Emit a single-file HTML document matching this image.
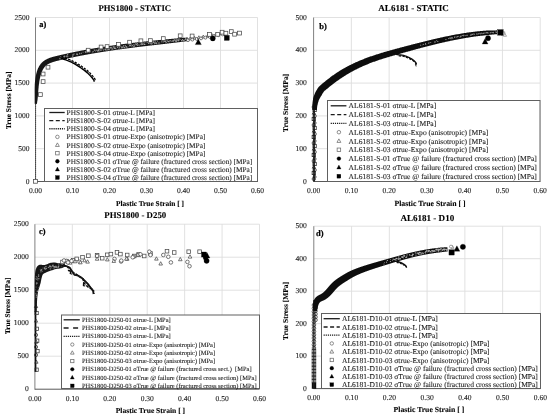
<!DOCTYPE html>
<html><head><meta charset="utf-8"><title>True stress vs plastic true strain</title>
<style>
html,body{margin:0;padding:0;background:#fff;}
body{width:550px;height:417px;overflow:hidden;}
svg{display:block;font-family:'Liberation Serif','Times New Roman',serif;text-rendering:geometricPrecision;}
</style></head><body>
<svg width="550" height="417" viewBox="0 0 550 417">
<defs><filter id="sf" x="0" y="0" width="100%" height="100%"><feGaussianBlur stdDeviation="0.3"/></filter></defs>
<rect width="550" height="417" fill="#fff"/>
<g filter="url(#sf)">
<line x1="72.5" y1="17.5" x2="72.5" y2="181.5" stroke="#dedede" stroke-width="0.9"/>
<line x1="109.5" y1="17.5" x2="109.5" y2="181.5" stroke="#dedede" stroke-width="0.9"/>
<line x1="146.5" y1="17.5" x2="146.5" y2="181.5" stroke="#dedede" stroke-width="0.9"/>
<line x1="183.5" y1="17.5" x2="183.5" y2="181.5" stroke="#dedede" stroke-width="0.9"/>
<line x1="220.5" y1="17.5" x2="220.5" y2="181.5" stroke="#dedede" stroke-width="0.9"/>
<line x1="257.5" y1="17.5" x2="257.5" y2="181.5" stroke="#dedede" stroke-width="0.9"/>
<line x1="35.5" y1="148.7" x2="257.5" y2="148.7" stroke="#dedede" stroke-width="0.9"/>
<line x1="35.5" y1="115.9" x2="257.5" y2="115.9" stroke="#dedede" stroke-width="0.9"/>
<line x1="35.5" y1="83.1" x2="257.5" y2="83.1" stroke="#dedede" stroke-width="0.9"/>
<line x1="35.5" y1="50.3" x2="257.5" y2="50.3" stroke="#dedede" stroke-width="0.9"/>
<line x1="35.5" y1="17.5" x2="257.5" y2="17.5" stroke="#dedede" stroke-width="0.9"/>
<line x1="35.5" y1="17.5" x2="35.5" y2="182" stroke="#808080" stroke-width="1.0"/>
<line x1="35.5" y1="181.5" x2="257.5" y2="181.5" stroke="#595959" stroke-width="1.0"/>
<text x="29.6" y="183.55" font-size="7.5" fill="#1c1c1c" text-anchor="end" stroke="#1c1c1c" stroke-width="0.12">0</text>
<text x="29.6" y="150.75" font-size="7.5" fill="#1c1c1c" text-anchor="end" stroke="#1c1c1c" stroke-width="0.12">500</text>
<text x="29.6" y="117.95" font-size="7.5" fill="#1c1c1c" text-anchor="end" stroke="#1c1c1c" stroke-width="0.12">1000</text>
<text x="29.6" y="85.15" font-size="7.5" fill="#1c1c1c" text-anchor="end" stroke="#1c1c1c" stroke-width="0.12">1500</text>
<text x="29.6" y="52.35" font-size="7.5" fill="#1c1c1c" text-anchor="end" stroke="#1c1c1c" stroke-width="0.12">2000</text>
<text x="29.6" y="19.55" font-size="7.5" fill="#1c1c1c" text-anchor="end" stroke="#1c1c1c" stroke-width="0.12">2500</text>
<text x="35.5" y="192.6" font-size="7.5" fill="#1c1c1c" text-anchor="middle" stroke="#1c1c1c" stroke-width="0.12">0.00</text>
<text x="72.5" y="192.6" font-size="7.5" fill="#1c1c1c" text-anchor="middle" stroke="#1c1c1c" stroke-width="0.12">0.10</text>
<text x="109.5" y="192.6" font-size="7.5" fill="#1c1c1c" text-anchor="middle" stroke="#1c1c1c" stroke-width="0.12">0.20</text>
<text x="146.5" y="192.6" font-size="7.5" fill="#1c1c1c" text-anchor="middle" stroke="#1c1c1c" stroke-width="0.12">0.30</text>
<text x="183.5" y="192.6" font-size="7.5" fill="#1c1c1c" text-anchor="middle" stroke="#1c1c1c" stroke-width="0.12">0.40</text>
<text x="220.5" y="192.6" font-size="7.5" fill="#1c1c1c" text-anchor="middle" stroke="#1c1c1c" stroke-width="0.12">0.50</text>
<text x="257.5" y="192.6" font-size="7.5" fill="#1c1c1c" text-anchor="middle" stroke="#1c1c1c" stroke-width="0.12">0.60</text>
<text x="134.8" y="11.3" font-size="8.7" fill="#000" text-anchor="middle" font-weight="bold" stroke="#000" stroke-width="0.1">PHS1800 - STATIC</text>
<text x="150" y="206.3" font-size="7.4" fill="#000" text-anchor="middle" font-weight="bold" stroke="#000" stroke-width="0.1">Plastic True Strain [ ]</text>
<text transform="translate(10.8 100.3) rotate(-90)" font-size="7.38" fill="#000" text-anchor="middle" font-weight="bold" stroke="#000" stroke-width="0.1">True Stress [MPa]</text>
<text x="39.2" y="27.1" font-size="8.4" fill="#000" font-weight="bold" stroke="#000" stroke-width="0.22">a)</text>
<path d="M36.82 104.08 L36.86 103.86 L36.91 103.63 L36.95 103.4 L36.99 103.17 L37.03 102.94 L37.08 102.71 L37.12 102.48 L37.16 102.25 L37.19 102.02 L37.23 101.79 L37.27 101.56 L37.31 101.33 L37.34 101.1 L37.38 100.88 L37.41 100.65 L37.45 100.42 L37.48 100.2 L37.52 99.97 L37.55 99.75 L37.58 99.52 L37.6 99.3 L37.63 99.07 L37.66 98.85 L37.69 98.62 L37.71 98.4 L37.73 98.17 L37.75 97.95 L37.77 97.73 L37.79 97.51 L37.81 97.28 L37.83 97.06 L37.85 96.84 L37.87 96.62 L37.89 96.39 L37.91 96.17 L37.93 95.95 L37.95 95.73 L37.96 95.51 L37.98 95.29 L38 95.07 L38.02 94.85 L38.03 94.63 L38.05 94.41 L38.07 94.19 L38.09 93.97 L38.1 93.75 L38.12 93.54 L38.14 93.32 L38.15 93.1 L38.17 92.88 L38.19 92.66 L38.2 92.44 L38.22 92.22 L38.24 92.01 L38.25 91.79 L38.27 91.57 L38.28 91.35 L38.3 91.13 L38.32 90.92 L38.33 90.7 L38.35 90.48 L38.37 90.26 L38.38 90.05 L38.4 89.83 L38.42 89.61 L38.43 89.39 L38.45 89.18 L38.47 88.96 L38.49 88.74 L38.51 88.52 L38.53 88.31 L38.55 88.09 L38.57 87.87 L38.59 87.65 L38.61 87.43 L38.63 87.22 L38.65 87 L38.67 86.78 L38.69 86.56 L38.72 86.34 L38.74 86.12 L38.76 85.9 L38.79 85.69 L38.81 85.47 L38.84 85.25 L38.86 85.03 L38.89 84.81 L38.92 84.59 L38.94 84.37 L38.97 84.15 L39 83.92 L39.03 83.7 L39.06 83.48 L39.09 83.26 L39.12 83.04 L39.15 82.82 L39.18 82.59 L39.21 82.37 L39.25 82.15 L39.28 81.92 L39.32 81.7 L39.35 81.47 L39.39 81.25 L39.43 81.02 L39.47 80.8 L39.51 80.57 L39.55 80.34 L39.59 80.12 L39.63 79.89 L39.67 79.66 L39.71 79.43 L39.76 79.21 L39.8 78.98 L39.84 78.75 L39.89 78.52 L39.94 78.29 L39.99 78.07 L40.04 77.84 L40.09 77.61 L40.14 77.38 L40.19 77.16 L40.24 76.93 L40.3 76.7 L40.35 76.48 L40.41 76.25 L40.47 76.03 L40.53 75.81 L40.59 75.58 L40.65 75.36 L40.72 75.14 L40.78 74.92 L40.85 74.7 L40.91 74.48 L40.98 74.26 L41.05 74.05 L41.12 73.83 L41.2 73.62 L41.27 73.41 L41.34 73.2 L41.42 72.98 L41.49 72.77 L41.57 72.57 L41.65 72.36 L41.73 72.16 L41.81 71.96 L41.89 71.75 L41.97 71.55 L42.05 71.35 L42.13 71.16 L42.22 70.97 L42.31 70.77 L42.4 70.58 L42.48 70.39 L42.57 70.2 L42.67 70.02 L42.76 69.84 L42.85 69.66 L42.95 69.48 L43.05 69.31 L43.15 69.13 L43.24 68.96 L43.34 68.8 L43.45 68.63 L43.55 68.47 L43.66 68.31 L43.76 68.15 L43.87 68 L43.98 67.84 L44.08 67.69 L44.2 67.55 L44.31 67.4 L44.42 67.26 L44.53 67.12 L44.64 66.99 L44.76 66.85 L44.87 66.72 L44.99 66.59 L45.11 66.46 L45.23 66.33 L45.35 66.21 L45.48 66.09 L45.6 65.97 L45.73 65.85 L45.86 65.74 L45.99 65.62 L46.12 65.51 L46.26 65.4 L46.39 65.29 L46.53 65.18 L46.67 65.07 L46.82 64.97 L46.96 64.86 L47.11 64.76 L47.26 64.66 L47.41 64.56 L47.56 64.46 L47.71 64.36 L47.87 64.27 L48.03 64.18 L48.19 64.08 L48.35 63.99 L48.51 63.9 L48.68 63.81 L48.84 63.73 L49.01 63.64 L49.18 63.56 L49.35 63.47 L49.52 63.39 L49.7 63.31 L49.88 63.23 L50.06 63.15 L50.23 63.07 L50.42 63 L50.6 62.92 L50.78 62.84 L50.97 62.77 L51.16 62.7 L51.35 62.63 L51.54 62.56 L51.73 62.49 L51.92 62.42 L52.12 62.35 L52.31 62.28 L52.51 62.22 L52.7 62.15 L52.9 62.08 L53.11 62.02 L53.31 61.96 L53.51 61.89 L53.71 61.83 L53.92 61.77 L54.12 61.71 L54.33 61.65 L54.54 61.59 L54.75 61.53 L54.96 61.47 L55.17 61.41 L55.38 61.35 L55.59 61.29 L55.8 61.23 L56.02 61.18 L56.23 61.12 L56.45 61.07 L56.66 61.01 L56.88 60.95 L57.1 60.9 L57.31 60.84 L57.53 60.79 L57.75 60.73 L57.97 60.68 L58.19 60.63 L58.41 60.57 L58.63 60.52 L58.85 60.46 L59.07 60.41 L59.29 60.35 L59.51 60.3 L59.74 60.25 L59.96 60.19 L60.18 60.14 L60.4 60.09 L60.62 60.03 L60.84 59.98 L61.06 59.93 L61.28 59.88 L61.5 59.82 L61.72 59.77 L61.95 59.72 L62.17 59.67 L62.39 59.62 L62.61 59.57 L62.83 59.52 L63.05 59.47 L63.27 59.42 L63.49 59.37 L63.71 59.31 L63.94 59.26 L64.16 59.21 L64.38 59.16 L64.6 59.11 L64.82 59.06 L65.04 59.01 L65.26 58.96 L65.48 58.91 L65.71 58.86 L65.93 58.82 L66.15 58.77 L66.37 58.72 L66.59 58.67 L66.81 58.62 L67.03 58.57 L67.25 58.52 L67.48 58.47 L67.7 58.42 L67.92 58.37 L68.14 58.33 L68.36 58.28 L68.58 58.23 L68.8 58.18 L69.03 58.13 L69.25 58.09 L69.47 58.04 L69.69 57.99 L69.91 57.94 L70.13 57.89 L70.35 57.85 L70.57 57.8 L70.8 57.75 L71.02 57.71 L71.24 57.66 L71.46 57.61 L71.68 57.57 L71.9 57.52 L72.12 57.47 L72.35 57.43 L72.57 57.38 L72.79 57.33 L73.01 57.29 L73.23 57.24 L73.45 57.19 L73.67 57.15 L73.9 57.1 L74.12 57.06 L74.34 57.01 L74.56 56.97 L74.78 56.92 L75 56.88 L75.22 56.83 L75.45 56.78 L75.67 56.74 L75.89 56.69 L76.11 56.65 L76.33 56.61 L76.55 56.56 L76.77 56.52 L77 56.47 L77.22 56.43 L77.44 56.38 L77.66 56.34 L77.88 56.29 L78.1 56.25 L78.32 56.21 L78.55 56.16 L78.77 56.12 L78.99 56.08 L79.21 56.03 L79.43 55.99 L79.65 55.95 L79.88 55.9 L80.1 55.86 L80.32 55.82 L80.54 55.77 L80.76 55.73 L80.98 55.69 L81.21 55.64 L81.43 55.6 L81.65 55.56 L81.87 55.52 L82.09 55.47 L82.31 55.43 L82.53 55.39 L82.76 55.35 L82.98 55.31 L83.2 55.26 L83.42 55.22 L83.64 55.18 L83.86 55.14 L84.09 55.1 L84.31 55.06 L84.53 55.02 L84.75 54.97 L84.97 54.93 L85.2 54.89 L85.42 54.85 L85.64 54.81 L85.86 54.77 L86.08 54.73 L86.3 54.69 L86.53 54.65 L86.75 54.61 L86.97 54.57 L87.19 54.53 L87.41 54.49 L87.63 54.45 L87.86 54.41 L88.08 54.37 L88.3 54.33 L88.52 54.29 L88.74 54.25 L88.97 54.21 L89.19 54.17 L89.41 54.13 L89.63 54.09 L89.85 54.05 L90.07 54.01 L90.3 53.97 L90.52 53.93 L90.74 53.89 L90.96 53.85 L91.18 53.81 L91.41 53.78 L91.63 53.74 L91.85 53.7 L92.07 53.66 L92.29 53.62 L92.52 53.58 L92.74 53.54 L92.96 53.51 L93.18 53.47 L93.4 53.43 L93.63 53.39 L93.85 53.35 L94.07 53.32 L94.29 53.28 L94.51 53.24 L94.73 53.2 L94.96 53.17 L95.18 53.13 L95.4 53.09 L95.62 53.05 L95.84 53.02 L96.07 52.98 L96.29 52.94 L96.51 52.91 L96.73 52.87 L96.96 52.83 L97.18 52.8 L97.4 52.76 L97.62 52.72 L97.84 52.69 L98.07 52.65 L98.29 52.61 L98.51 52.58 L98.73 52.54 L98.95 52.5 L99.18 52.47 L99.4 52.43 L99.62 52.4 L99.84 52.36 L100.06 52.32 L100.29 52.29 L100.51 52.25 L100.73 52.22 L100.95 52.18 L101.18 52.15 L101.4 52.11 L101.62 52.08 L101.84 52.04 L102.06 52 L102.29 51.97 L102.51 51.93 L102.73 51.9 L102.95 51.86 L103.17 51.83 L103.4 51.79 L103.62 51.76 L103.84 51.72 L104.06 51.69 L104.29 51.65 L104.51 51.62 L104.73 51.58 L104.95 51.55 L105.18 51.51 L105.4 51.48 L105.62 51.45 L105.84 51.41 L106.06 51.38 L106.29 51.34 L106.51 51.31 L106.73 51.27 L106.95 51.24 L107.18 51.21 L107.4 51.17 L107.62 51.14 L107.84 51.11 L108.07 51.07 L108.29 51.04 L108.51 51.01 L108.73 50.97 L108.95 50.94 L109.18 50.9 L109.4 50.87 L109.62 50.84 L109.84 50.81 L110.07 50.77 L110.29 50.74 L110.51 50.71 L110.73 50.67 L110.96 50.64 L111.18 50.61 L111.4 50.58 L111.62 50.54 L111.85 50.51 L112.07 50.48 L112.29 50.44 L112.51 50.41 L112.74 50.38 L112.96 50.35 L113.18 50.32 L113.4 50.28 L113.63 50.25 L113.85 50.22 L114.07 50.19 L114.29 50.16 L114.52 50.12 L114.74 50.09 L114.96 50.06 L115.19 50.03 L115.41 50 L115.63 49.97 L115.85 49.93 L116.08 49.9 L116.3 49.87 L116.52 49.84 L116.74 49.81 L116.97 49.78 L117.19 49.75 L117.41 49.71 L117.63 49.68 L117.86 49.65 L118.08 49.62 L118.3 49.59 L118.53 49.56 L118.75 49.53 L118.97 49.5 L119.19 49.47 L119.42 49.44 L119.64 49.41 L119.86 49.38 L120.08 49.35 L120.31 49.32 L120.53 49.28 L120.75 49.25 L120.98 49.22 L121.2 49.19 L121.42 49.16 L121.64 49.13 L121.87 49.1 L122.09 49.07 L122.31 49.04 L122.54 49.01 L122.76 48.98 L122.98 48.95 L123.21 48.92 L123.43 48.89 L123.65 48.87 L123.87 48.84 L124.1 48.81 L124.32 48.78 L124.54 48.75 L124.77 48.72 L124.99 48.69 L125.21 48.66 L125.43 48.63 L125.66 48.6 L125.88 48.57 L126.1 48.54 L126.33 48.51 L126.55 48.48 L126.77 48.46 L127 48.43 L127.22 48.4 L127.44 48.37 L127.67 48.34 L127.89 48.31 L128.11 48.28 L128.33 48.25 L128.56 48.23 L128.78 48.2 L129 48.17 L129.23 48.14 L129.45 48.11 L129.67 48.08 L129.9 48.05 L130.12 48.03 L130.34 48 L130.57 47.97 L130.79 47.94 L131.01 47.91 L131.24 47.88 L131.46 47.85 L131.68 47.82 L131.91 47.8 L132.13 47.77 L132.35 47.74 L132.57 47.71 L132.8 47.68 L133.02 47.65 L133.24 47.62 L133.47 47.6 L133.69 47.57 L133.91 47.54 L134.14 47.51 L134.36 47.48 L134.58 47.46 L134.81 47.43 L135.03 47.4 L135.25 47.37 L135.48 47.34 L135.7 47.31 L135.92 47.29 L136.15 47.26 L136.37 47.23 L136.59 47.2 L136.82 47.18 L137.04 47.15 L137.26 47.12 L137.49 47.09 L137.71 47.06 L137.93 47.04 L138.16 47.01 L138.38 46.98 L138.6 46.95 L138.83 46.93 L139.05 46.9 L139.28 46.87 L139.5 46.84 L139.72 46.82 L139.95 46.79 L140.17 46.76 L140.39 46.73 L140.62 46.71 L140.84 46.68 L141.06 46.65 L141.29 46.63 L141.51 46.6 L141.73 46.57 L141.96 46.54 L142.18 46.52 L142.41 46.49 L142.63 46.46 L142.85 46.44 L143.08 46.41 L143.3 46.38 L143.52 46.36 L143.75 46.33 L143.97 46.3 L144.19 46.28 L144.42 46.25 L144.64 46.22 L144.87 46.2 L145.09 46.17 L145.31 46.14 L145.54 46.12 L145.76 46.09 L145.98 46.06 L146.21 46.04 L146.43 46.01 L146.66 45.98 L146.88 45.96 L147.1 45.93 L147.33 45.91 L147.55 45.88 L147.78 45.85 L148 45.83 L148.22 45.8 L148.45 45.77 L148.67 45.75 L148.89 45.72 L149.12 45.7 L149.34 45.67 L149.57 45.64 L149.79 45.62 L150.01 45.59 L150.24 45.57 L150.46 45.54 L150.69 45.51 L150.91 45.49 L151.13 45.46 L151.36 45.44 L151.58 45.41 L151.81 45.38 L152.03 45.36 L152.25 45.33 L152.48 45.31 L152.7 45.28 L152.93 45.25 L153.15 45.23 L153.37 45.2 L153.6 45.18 L153.82 45.15 L154.05 45.13 L154.27 45.1 L154.5 45.08 L154.72 45.05 L154.94 45.02 L155.17 45 L155.39 44.97 L155.62 44.95 L155.84 44.92 L156.07 44.9 L156.29 44.87 L156.51 44.85 L156.74 44.82 L156.96 44.8 L157.19 44.77 L157.41 44.74 L157.64 44.72 L157.86 44.69 L158.08 44.67 L158.31 44.64 L158.53 44.62 L158.76 44.59 L158.98 44.57 L159.21 44.54 L159.43 44.52 L159.65 44.49 L159.88 44.47 L160.1 44.44 L160.33 44.41 L160.55 44.39 L160.78 44.36 L161 44.33 L161.22 44.31 L161.45 44.28 L161.67 44.25 L161.9 44.23 L162.12 44.2 L162.35 44.17 L162.57 44.15 L162.79 44.12 L163.02 44.09 L163.24 44.07 L163.47 44.04 L163.69 44.01 L163.92 43.99 L164.14 43.96 L164.37 43.93 L164.59 43.91 L164.81 43.88 L165.04 43.85 L165.26 43.83 L165.49 43.8 L165.71 43.77 L165.94 43.74 L166.16 43.72 L166.39 43.69 L166.61 43.66 L166.84 43.64 L167.06 43.61 L167.28 43.58 L167.51 43.56 L167.73 43.53 L167.96 43.5 L168.18 43.48 L168.41 43.45 L168.63 43.42 L168.86 43.4 L169.08 43.37 L169.31 43.35 L169.53 43.32 L169.76 43.29 L169.98 43.27 L170.2 43.24 L170.43 43.21 L170.65 43.19 L170.88 43.16 L171.1 43.13 L171.33 43.11 L171.55 43.08 L171.78 43.05 L172 43.03 L172.23 43 L172.45 42.97 L172.68 42.95 L172.9 42.92 L173.13 42.89 L173.35 42.87 L173.58 42.84 L173.8 42.81 L174.03 42.79 L174.25 42.76 L174.48 42.73 L174.7 42.71 L174.93 42.68 L175.15 42.65 L175.38 42.63 L175.6 42.6 L175.83 42.57 L176.05 42.54 L176.28 42.52 L176.5 42.49 L176.73 42.46 L176.95 42.43 L177.17 42.4 L177.4 42.38 L177.62 42.35 L177.85 42.32 L178.07 42.29 L178.3 42.26 L178.52 42.24 L178.75 42.21 L178.97 42.18 L179.2 42.15 L179.42 42.13 L179.65 42.1 L179.87 42.07 L180.1 42.04 L180.32 42.01 L180.55 41.99 L180.78 41.96 L181 41.93 L181.23 41.9 L181.45 41.87 L181.68 41.85 L181.9 41.82 L182.13 41.79 L182.35 41.76 L182.58 41.73 L182.8 41.71 L183.03 41.68 L183.25 41.65 L183.48 41.62 L183.7 41.59 L183.93 41.57 L184.15 41.54 L184.38 41.51 L184.6 41.48 L184.83 41.45 L185.05 41.43 L185.28 41.4 L185.5 41.37 L185.73 41.34 L185.96 41.31 L186.18 41.29 L186.41 41.26 L186.63 41.23 L186.86 41.2 L187.08 41.17 L187.31 41.14 L187.53 41.12 L187.76 41.09 L187.98 41.06 L188.21 41.03 L187.83 37.45 L187.6 37.47 L187.38 37.49 L187.15 37.51 L186.93 37.53 L186.7 37.55 L186.47 37.57 L186.25 37.59 L186.02 37.61 L185.79 37.63 L185.57 37.65 L185.34 37.67 L185.12 37.69 L184.89 37.71 L184.66 37.73 L184.44 37.74 L184.21 37.76 L183.99 37.78 L183.76 37.8 L183.53 37.82 L183.31 37.84 L183.08 37.86 L182.86 37.88 L182.63 37.9 L182.4 37.92 L182.18 37.94 L181.95 37.96 L181.73 37.98 L181.5 38 L181.27 38.02 L181.05 38.04 L180.82 38.05 L180.6 38.07 L180.37 38.09 L180.14 38.11 L179.92 38.13 L179.69 38.15 L179.47 38.17 L179.24 38.19 L179.01 38.21 L178.79 38.23 L178.56 38.25 L178.34 38.27 L178.11 38.29 L177.89 38.31 L177.66 38.32 L177.43 38.34 L177.21 38.36 L176.98 38.38 L176.76 38.4 L176.53 38.42 L176.3 38.44 L176.08 38.46 L175.85 38.48 L175.63 38.5 L175.4 38.52 L175.18 38.54 L174.95 38.56 L174.72 38.58 L174.5 38.6 L174.27 38.62 L174.05 38.64 L173.82 38.66 L173.6 38.68 L173.37 38.7 L173.15 38.72 L172.92 38.74 L172.69 38.76 L172.47 38.78 L172.24 38.8 L172.02 38.82 L171.79 38.84 L171.57 38.86 L171.34 38.88 L171.12 38.9 L170.89 38.92 L170.66 38.95 L170.44 38.97 L170.21 38.99 L169.99 39.01 L169.76 39.03 L169.54 39.05 L169.31 39.07 L169.09 39.09 L168.86 39.11 L168.64 39.13 L168.41 39.15 L168.18 39.17 L167.96 39.19 L167.73 39.21 L167.51 39.23 L167.28 39.26 L167.06 39.28 L166.83 39.3 L166.61 39.32 L166.38 39.34 L166.16 39.36 L165.93 39.38 L165.71 39.4 L165.48 39.42 L165.26 39.44 L165.03 39.46 L164.8 39.48 L164.58 39.5 L164.35 39.53 L164.13 39.55 L163.9 39.57 L163.68 39.59 L163.45 39.61 L163.23 39.63 L163 39.65 L162.78 39.67 L162.55 39.69 L162.33 39.71 L162.1 39.73 L161.88 39.75 L161.65 39.78 L161.43 39.8 L161.2 39.82 L160.98 39.84 L160.75 39.86 L160.52 39.88 L160.3 39.9 L160.07 39.92 L159.85 39.95 L159.62 39.97 L159.4 39.99 L159.17 40.01 L158.95 40.03 L158.72 40.06 L158.5 40.08 L158.27 40.1 L158.05 40.13 L157.82 40.15 L157.6 40.17 L157.37 40.2 L157.15 40.22 L156.92 40.24 L156.7 40.27 L156.48 40.29 L156.25 40.31 L156.03 40.34 L155.8 40.36 L155.58 40.38 L155.35 40.4 L155.13 40.43 L154.9 40.45 L154.68 40.47 L154.45 40.5 L154.23 40.52 L154 40.54 L153.78 40.57 L153.55 40.59 L153.33 40.62 L153.1 40.64 L152.88 40.66 L152.65 40.69 L152.43 40.71 L152.2 40.73 L151.98 40.76 L151.75 40.78 L151.53 40.8 L151.3 40.83 L151.08 40.85 L150.85 40.87 L150.63 40.9 L150.41 40.92 L150.18 40.95 L149.96 40.97 L149.73 40.99 L149.51 41.02 L149.28 41.04 L149.06 41.06 L148.83 41.09 L148.61 41.11 L148.38 41.14 L148.16 41.16 L147.93 41.18 L147.71 41.21 L147.48 41.23 L147.26 41.26 L147.03 41.28 L146.81 41.3 L146.59 41.33 L146.36 41.35 L146.14 41.38 L145.91 41.4 L145.69 41.43 L145.46 41.45 L145.24 41.47 L145.01 41.5 L144.79 41.52 L144.56 41.55 L144.34 41.57 L144.11 41.6 L143.89 41.62 L143.67 41.65 L143.44 41.67 L143.22 41.69 L142.99 41.72 L142.77 41.74 L142.54 41.77 L142.32 41.79 L142.09 41.82 L141.87 41.84 L141.64 41.87 L141.42 41.89 L141.19 41.92 L140.97 41.94 L140.75 41.97 L140.52 41.99 L140.3 42.02 L140.07 42.04 L139.85 42.07 L139.62 42.09 L139.4 42.12 L139.17 42.14 L138.95 42.17 L138.73 42.19 L138.5 42.22 L138.28 42.24 L138.05 42.27 L137.83 42.3 L137.6 42.32 L137.38 42.35 L137.15 42.37 L136.93 42.4 L136.7 42.42 L136.48 42.45 L136.26 42.47 L136.03 42.5 L135.81 42.53 L135.58 42.55 L135.36 42.58 L135.13 42.6 L134.91 42.63 L134.69 42.65 L134.46 42.68 L134.24 42.71 L134.01 42.73 L133.79 42.76 L133.56 42.78 L133.34 42.81 L133.11 42.84 L132.89 42.86 L132.67 42.89 L132.44 42.92 L132.22 42.94 L131.99 42.97 L131.77 43 L131.54 43.02 L131.32 43.05 L131.09 43.07 L130.87 43.1 L130.65 43.13 L130.42 43.15 L130.2 43.18 L129.97 43.21 L129.75 43.24 L129.52 43.26 L129.3 43.29 L129.08 43.32 L128.85 43.35 L128.63 43.37 L128.4 43.4 L128.18 43.43 L127.96 43.46 L127.73 43.49 L127.51 43.51 L127.28 43.54 L127.06 43.57 L126.83 43.6 L126.61 43.63 L126.39 43.65 L126.16 43.68 L125.94 43.71 L125.71 43.74 L125.49 43.77 L125.27 43.8 L125.04 43.82 L124.82 43.85 L124.59 43.88 L124.37 43.91 L124.14 43.94 L123.92 43.97 L123.7 44 L123.47 44.03 L123.25 44.05 L123.02 44.08 L122.8 44.11 L122.58 44.14 L122.35 44.17 L122.13 44.2 L121.9 44.23 L121.68 44.26 L121.46 44.29 L121.23 44.32 L121.01 44.35 L120.78 44.38 L120.56 44.41 L120.33 44.44 L120.11 44.47 L119.89 44.5 L119.66 44.52 L119.44 44.55 L119.21 44.58 L118.99 44.61 L118.77 44.64 L118.54 44.67 L118.32 44.7 L118.09 44.73 L117.87 44.77 L117.65 44.8 L117.42 44.83 L117.2 44.86 L116.97 44.89 L116.75 44.92 L116.53 44.95 L116.3 44.98 L116.08 45.01 L115.85 45.04 L115.63 45.07 L115.41 45.1 L115.18 45.13 L114.96 45.16 L114.73 45.19 L114.51 45.23 L114.29 45.26 L114.06 45.29 L113.84 45.32 L113.61 45.35 L113.39 45.38 L113.17 45.41 L112.94 45.44 L112.72 45.48 L112.49 45.51 L112.27 45.54 L112.05 45.57 L111.82 45.6 L111.6 45.63 L111.37 45.67 L111.15 45.7 L110.93 45.73 L110.7 45.76 L110.48 45.79 L110.26 45.83 L110.03 45.86 L109.81 45.89 L109.58 45.92 L109.36 45.96 L109.14 45.99 L108.91 46.02 L108.69 46.05 L108.46 46.09 L108.24 46.12 L108.02 46.15 L107.79 46.19 L107.57 46.22 L107.34 46.25 L107.12 46.28 L106.9 46.32 L106.67 46.35 L106.45 46.38 L106.23 46.42 L106 46.45 L105.78 46.48 L105.55 46.52 L105.33 46.55 L105.11 46.59 L104.88 46.62 L104.66 46.65 L104.43 46.69 L104.21 46.72 L103.99 46.76 L103.76 46.79 L103.54 46.82 L103.32 46.86 L103.09 46.89 L102.87 46.93 L102.64 46.96 L102.42 47 L102.2 47.03 L101.97 47.06 L101.75 47.1 L101.52 47.13 L101.3 47.17 L101.08 47.2 L100.85 47.24 L100.63 47.27 L100.41 47.31 L100.18 47.35 L99.96 47.38 L99.73 47.42 L99.51 47.45 L99.29 47.49 L99.06 47.52 L98.84 47.56 L98.62 47.6 L98.39 47.63 L98.17 47.67 L97.94 47.7 L97.72 47.74 L97.5 47.78 L97.27 47.81 L97.05 47.85 L96.83 47.89 L96.6 47.92 L96.38 47.96 L96.16 48 L95.93 48.04 L95.71 48.07 L95.48 48.11 L95.26 48.15 L95.04 48.18 L94.81 48.22 L94.59 48.26 L94.37 48.3 L94.14 48.33 L93.92 48.37 L93.69 48.41 L93.47 48.45 L93.25 48.49 L93.02 48.52 L92.8 48.56 L92.58 48.6 L92.35 48.64 L92.13 48.68 L91.91 48.72 L91.68 48.75 L91.46 48.79 L91.23 48.83 L91.01 48.87 L90.79 48.91 L90.56 48.95 L90.34 48.99 L90.12 49.03 L89.89 49.07 L89.67 49.1 L89.45 49.14 L89.22 49.18 L89 49.22 L88.77 49.26 L88.55 49.3 L88.33 49.34 L88.1 49.38 L87.88 49.42 L87.66 49.46 L87.43 49.5 L87.21 49.54 L86.99 49.58 L86.76 49.62 L86.54 49.66 L86.32 49.7 L86.09 49.75 L85.87 49.79 L85.64 49.83 L85.42 49.87 L85.2 49.91 L84.97 49.95 L84.75 49.99 L84.53 50.03 L84.3 50.07 L84.08 50.11 L83.86 50.16 L83.63 50.2 L83.41 50.24 L83.19 50.28 L82.96 50.32 L82.74 50.37 L82.51 50.41 L82.29 50.45 L82.07 50.49 L81.84 50.53 L81.62 50.58 L81.4 50.62 L81.17 50.66 L80.95 50.7 L80.73 50.75 L80.5 50.79 L80.28 50.83 L80.06 50.88 L79.83 50.92 L79.61 50.96 L79.39 51.01 L79.16 51.05 L78.94 51.09 L78.71 51.14 L78.49 51.18 L78.27 51.22 L78.04 51.27 L77.82 51.31 L77.6 51.36 L77.37 51.4 L77.15 51.44 L76.93 51.49 L76.7 51.53 L76.48 51.58 L76.26 51.62 L76.03 51.67 L75.81 51.71 L75.59 51.76 L75.36 51.8 L75.14 51.85 L74.91 51.89 L74.69 51.94 L74.47 51.98 L74.24 52.03 L74.02 52.07 L73.8 52.12 L73.57 52.17 L73.35 52.21 L73.13 52.26 L72.9 52.3 L72.68 52.35 L72.46 52.4 L72.23 52.44 L72.01 52.49 L71.79 52.54 L71.56 52.58 L71.34 52.63 L71.12 52.68 L70.89 52.72 L70.67 52.77 L70.45 52.82 L70.22 52.87 L70 52.91 L69.77 52.96 L69.55 53.01 L69.33 53.06 L69.1 53.1 L68.88 53.15 L68.66 53.2 L68.43 53.25 L68.21 53.3 L67.99 53.34 L67.76 53.39 L67.54 53.44 L67.32 53.49 L67.09 53.54 L66.87 53.59 L66.65 53.64 L66.42 53.69 L66.2 53.74 L65.98 53.78 L65.75 53.83 L65.53 53.88 L65.31 53.93 L65.08 53.98 L64.86 54.03 L64.64 54.08 L64.41 54.13 L64.19 54.18 L63.97 54.23 L63.74 54.28 L63.52 54.33 L63.29 54.38 L63.07 54.44 L62.85 54.49 L62.62 54.54 L62.4 54.59 L62.18 54.64 L61.95 54.69 L61.73 54.74 L61.51 54.79 L61.28 54.85 L61.06 54.9 L60.84 54.95 L60.61 55 L60.39 55.05 L60.17 55.1 L59.94 55.16 L59.72 55.21 L59.5 55.26 L59.27 55.31 L59.05 55.36 L58.83 55.42 L58.6 55.47 L58.38 55.52 L58.15 55.57 L57.93 55.62 L57.71 55.68 L57.48 55.73 L57.26 55.78 L57.04 55.83 L56.81 55.89 L56.59 55.94 L56.36 55.99 L56.13 56.05 L55.91 56.1 L55.68 56.15 L55.46 56.21 L55.23 56.26 L55.01 56.32 L54.78 56.38 L54.55 56.44 L54.32 56.49 L54.1 56.55 L53.87 56.61 L53.64 56.67 L53.42 56.73 L53.19 56.8 L52.96 56.86 L52.74 56.92 L52.51 56.99 L52.28 57.05 L52.06 57.12 L51.83 57.19 L51.61 57.26 L51.38 57.33 L51.16 57.4 L50.93 57.47 L50.71 57.55 L50.48 57.62 L50.26 57.7 L50.04 57.78 L49.81 57.86 L49.59 57.95 L49.37 58.03 L49.15 58.12 L48.93 58.2 L48.71 58.29 L48.49 58.38 L48.27 58.47 L48.05 58.57 L47.83 58.67 L47.61 58.76 L47.4 58.86 L47.18 58.97 L46.97 59.07 L46.75 59.18 L46.54 59.29 L46.33 59.4 L46.12 59.51 L45.91 59.63 L45.7 59.74 L45.49 59.87 L45.29 59.99 L45.08 60.11 L44.88 60.24 L44.68 60.37 L44.47 60.5 L44.27 60.64 L44.07 60.78 L43.88 60.92 L43.68 61.07 L43.49 61.21 L43.29 61.36 L43.1 61.52 L42.91 61.67 L42.73 61.83 L42.54 61.99 L42.36 62.16 L42.18 62.33 L41.99 62.5 L41.82 62.68 L41.64 62.85 L41.47 63.03 L41.3 63.22 L41.13 63.41 L40.96 63.6 L40.8 63.79 L40.64 63.99 L40.48 64.19 L40.33 64.39 L40.18 64.6 L40.04 64.8 L39.89 65.01 L39.75 65.22 L39.61 65.44 L39.48 65.65 L39.35 65.87 L39.22 66.09 L39.09 66.3 L38.97 66.53 L38.85 66.75 L38.73 66.98 L38.61 67.2 L38.5 67.43 L38.39 67.66 L38.28 67.89 L38.17 68.12 L38.06 68.35 L37.96 68.59 L37.86 68.82 L37.76 69.06 L37.66 69.3 L37.57 69.54 L37.47 69.78 L37.38 70.02 L37.3 70.26 L37.21 70.5 L37.13 70.74 L37.04 70.99 L36.97 71.23 L36.89 71.48 L36.81 71.72 L36.74 71.97 L36.67 72.22 L36.6 72.47 L36.53 72.72 L36.46 72.96 L36.4 73.21 L36.34 73.46 L36.28 73.71 L36.22 73.96 L36.16 74.22 L36.1 74.47 L36.05 74.72 L35.99 74.97 L35.94 75.22 L35.89 75.47 L35.84 75.72 L35.79 75.97 L35.74 76.22 L35.69 76.47 L35.65 76.72 L35.6 76.97 L35.56 77.22 L35.52 77.47 L35.48 77.72 L35.44 77.97 L35.4 78.22 L35.37 78.47 L35.33 78.71 L35.29 78.96 L35.26 79.21 L35.23 79.45 L35.2 79.7 L35.17 79.94 L35.14 80.18 L35.11 80.43 L35.09 80.67 L35.06 80.91 L35.04 81.15 L35.01 81.39 L34.99 81.63 L34.97 81.87 L34.95 82.11 L34.93 82.34 L34.91 82.58 L34.89 82.82 L34.87 83.05 L34.86 83.29 L34.84 83.52 L34.83 83.75 L34.81 83.99 L34.8 84.22 L34.78 84.45 L34.77 84.68 L34.76 84.92 L34.75 85.15 L34.74 85.38 L34.73 85.61 L34.72 85.84 L34.71 86.06 L34.71 86.29 L34.7 86.52 L34.69 86.75 L34.69 86.98 L34.68 87.2 L34.67 87.43 L34.67 87.65 L34.67 87.88 L34.66 88.1 L34.66 88.33 L34.65 88.55 L34.65 88.78 L34.65 89 L34.65 89.22 L34.64 89.45 L34.64 89.67 L34.64 89.89 L34.64 90.11 L34.64 90.33 L34.64 90.56 L34.64 90.78 L34.64 91 L34.64 91.22 L34.64 91.44 L34.64 91.66 L34.64 91.88 L34.64 92.1 L34.64 92.32 L34.64 92.54 L34.64 92.76 L34.64 92.98 L34.65 93.2 L34.65 93.42 L34.65 93.64 L34.65 93.85 L34.65 94.07 L34.66 94.29 L34.66 94.51 L34.66 94.73 L34.66 94.95 L34.66 95.17 L34.66 95.39 L34.66 95.6 L34.66 95.82 L34.66 96.04 L34.67 96.26 L34.67 96.48 L34.67 96.7 L34.66 96.92 L34.66 97.14 L34.66 97.35 L34.66 97.57 L34.66 97.79 L34.66 98.01 L34.66 98.23 L34.65 98.45 L34.66 98.67 L34.66 98.89 L34.66 99.12 L34.66 99.34 L34.66 99.56 L34.66 99.78 L34.67 100 L34.67 100.22 L34.67 100.45 L34.67 100.67 L34.67 100.89 L34.67 101.12 L34.67 101.34 L34.67 101.57 L34.67 101.79 L34.67 102.02 L34.67 102.24 L34.66 102.47 L34.66 102.7 L34.65 102.92 L34.65 103.15 L34.64 103.38 L34.63 103.62 L34.63 103.85Z" fill="#181818"/>
<circle cx="60.01" cy="58.4" r="0.57" fill="#a8a8a8"/>
<circle cx="60.09" cy="58.94" r="0.5" fill="#a8a8a8"/>
<circle cx="60.93" cy="56.82" r="0.55" fill="#a8a8a8"/>
<circle cx="60.84" cy="58.26" r="0.37" fill="#a8a8a8"/>
<circle cx="61.58" cy="58.34" r="0.49" fill="#a8a8a8"/>
<circle cx="61.43" cy="58.4" r="0.53" fill="#a8a8a8"/>
<circle cx="63.89" cy="56.97" r="0.39" fill="#a8a8a8"/>
<circle cx="63.77" cy="56.9" r="0.55" fill="#a8a8a8"/>
<circle cx="64.44" cy="55.84" r="0.46" fill="#a8a8a8"/>
<circle cx="64.34" cy="56.58" r="0.6" fill="#a8a8a8"/>
<circle cx="66.02" cy="56.44" r="0.49" fill="#a8a8a8"/>
<circle cx="66.33" cy="55.85" r="0.46" fill="#a8a8a8"/>
<circle cx="67.01" cy="56.64" r="0.62" fill="#a8a8a8"/>
<circle cx="67.27" cy="55.19" r="0.48" fill="#a8a8a8"/>
<circle cx="67.98" cy="56.22" r="0.47" fill="#a8a8a8"/>
<circle cx="67.63" cy="54.51" r="0.56" fill="#a8a8a8"/>
<circle cx="72.43" cy="54.4" r="0.42" fill="#a8a8a8"/>
<circle cx="72.71" cy="56.18" r="0.6" fill="#a8a8a8"/>
<circle cx="72.94" cy="55.66" r="0.44" fill="#a8a8a8"/>
<circle cx="73.43" cy="54.64" r="0.5" fill="#a8a8a8"/>
<circle cx="73.98" cy="54.13" r="0.44" fill="#a8a8a8"/>
<circle cx="74.05" cy="53.65" r="0.48" fill="#a8a8a8"/>
<circle cx="76.99" cy="53.91" r="0.62" fill="#a8a8a8"/>
<circle cx="77.01" cy="54.49" r="0.63" fill="#a8a8a8"/>
<circle cx="77.47" cy="54.86" r="0.49" fill="#a8a8a8"/>
<circle cx="77.82" cy="54.64" r="0.39" fill="#a8a8a8"/>
<circle cx="79.67" cy="53.11" r="0.48" fill="#a8a8a8"/>
<circle cx="79.6" cy="53.77" r="0.6" fill="#a8a8a8"/>
<circle cx="81.15" cy="52.94" r="0.37" fill="#a8a8a8"/>
<circle cx="81.27" cy="53.27" r="0.6" fill="#a8a8a8"/>
<circle cx="83.08" cy="52.09" r="0.39" fill="#a8a8a8"/>
<circle cx="83.01" cy="52.07" r="0.4" fill="#a8a8a8"/>
<circle cx="85.84" cy="52.41" r="0.64" fill="#a8a8a8"/>
<circle cx="85.34" cy="51.71" r="0.61" fill="#a8a8a8"/>
<circle cx="87.55" cy="51.84" r="0.6" fill="#a8a8a8"/>
<circle cx="87.51" cy="51.11" r="0.59" fill="#a8a8a8"/>
<circle cx="87.89" cy="50.94" r="0.43" fill="#a8a8a8"/>
<circle cx="87.9" cy="52.67" r="0.35" fill="#a8a8a8"/>
<circle cx="88.87" cy="50.51" r="0.36" fill="#a8a8a8"/>
<circle cx="89.31" cy="51.75" r="0.48" fill="#a8a8a8"/>
<circle cx="90.11" cy="51.07" r="0.63" fill="#a8a8a8"/>
<circle cx="89.83" cy="52.86" r="0.35" fill="#a8a8a8"/>
<circle cx="92.99" cy="51.8" r="0.53" fill="#a8a8a8"/>
<circle cx="92.31" cy="52.07" r="0.43" fill="#a8a8a8"/>
<circle cx="93.91" cy="49.89" r="0.36" fill="#a8a8a8"/>
<circle cx="93.24" cy="51.38" r="0.46" fill="#a8a8a8"/>
<circle cx="94.49" cy="49.9" r="0.51" fill="#a8a8a8"/>
<circle cx="94.66" cy="50.27" r="0.4" fill="#a8a8a8"/>
<circle cx="95.26" cy="50.22" r="0.41" fill="#a8a8a8"/>
<circle cx="95.62" cy="51.75" r="0.38" fill="#a8a8a8"/>
<circle cx="96.21" cy="49.74" r="0.43" fill="#a8a8a8"/>
<circle cx="96.58" cy="50.47" r="0.46" fill="#a8a8a8"/>
<circle cx="97.33" cy="50.58" r="0.37" fill="#a8a8a8"/>
<circle cx="97.49" cy="50.98" r="0.53" fill="#a8a8a8"/>
<circle cx="98.19" cy="50.64" r="0.55" fill="#a8a8a8"/>
<circle cx="98.4" cy="49.22" r="0.64" fill="#a8a8a8"/>
<circle cx="98.54" cy="50.28" r="0.65" fill="#a8a8a8"/>
<circle cx="99.02" cy="50.89" r="0.58" fill="#a8a8a8"/>
<circle cx="99.6" cy="49.37" r="0.53" fill="#a8a8a8"/>
<circle cx="100.11" cy="48.79" r="0.49" fill="#a8a8a8"/>
<circle cx="100.84" cy="48.68" r="0.6" fill="#a8a8a8"/>
<circle cx="100.48" cy="50.09" r="0.59" fill="#a8a8a8"/>
<circle cx="101.64" cy="50.49" r="0.44" fill="#a8a8a8"/>
<circle cx="101.68" cy="49.64" r="0.43" fill="#a8a8a8"/>
<circle cx="103.62" cy="50.38" r="0.38" fill="#a8a8a8"/>
<circle cx="103.2" cy="49.72" r="0.58" fill="#a8a8a8"/>
<circle cx="104.56" cy="49.07" r="0.37" fill="#a8a8a8"/>
<circle cx="104.11" cy="49.34" r="0.36" fill="#a8a8a8"/>
<circle cx="105.45" cy="49.22" r="0.53" fill="#a8a8a8"/>
<circle cx="105.52" cy="48.61" r="0.38" fill="#a8a8a8"/>
<circle cx="105.92" cy="49.54" r="0.46" fill="#a8a8a8"/>
<circle cx="105.88" cy="49.92" r="0.62" fill="#a8a8a8"/>
<circle cx="106.56" cy="48.32" r="0.42" fill="#a8a8a8"/>
<circle cx="106.84" cy="50.03" r="0.4" fill="#a8a8a8"/>
<circle cx="107.53" cy="49.72" r="0.58" fill="#a8a8a8"/>
<circle cx="108.17" cy="47.67" r="0.51" fill="#a8a8a8"/>
<circle cx="108.58" cy="49.67" r="0.57" fill="#a8a8a8"/>
<circle cx="108.37" cy="48.58" r="0.38" fill="#a8a8a8"/>
<circle cx="109.23" cy="47.48" r="0.36" fill="#a8a8a8"/>
<circle cx="109.26" cy="49.58" r="0.5" fill="#a8a8a8"/>
<circle cx="110.68" cy="47.49" r="0.63" fill="#a8a8a8"/>
<circle cx="110.08" cy="48.17" r="0.65" fill="#a8a8a8"/>
<circle cx="111.4" cy="47.83" r="0.62" fill="#a8a8a8"/>
<circle cx="111.45" cy="48.98" r="0.47" fill="#a8a8a8"/>
<circle cx="112.55" cy="48.98" r="0.57" fill="#a8a8a8"/>
<circle cx="112.09" cy="46.93" r="0.5" fill="#a8a8a8"/>
<circle cx="112.94" cy="48.75" r="0.55" fill="#a8a8a8"/>
<circle cx="113.37" cy="47.53" r="0.41" fill="#a8a8a8"/>
<circle cx="113.81" cy="46.69" r="0.63" fill="#a8a8a8"/>
<circle cx="114.35" cy="47.25" r="0.51" fill="#a8a8a8"/>
<circle cx="114.57" cy="48.39" r="0.6" fill="#a8a8a8"/>
<circle cx="115.07" cy="46.31" r="0.4" fill="#a8a8a8"/>
<circle cx="115.81" cy="48.69" r="0.55" fill="#a8a8a8"/>
<circle cx="115.51" cy="48.13" r="0.6" fill="#a8a8a8"/>
<circle cx="117.43" cy="47.37" r="0.57" fill="#a8a8a8"/>
<circle cx="117.61" cy="46" r="0.59" fill="#a8a8a8"/>
<circle cx="118.76" cy="46.09" r="0.42" fill="#a8a8a8"/>
<circle cx="118.49" cy="47.93" r="0.4" fill="#a8a8a8"/>
<circle cx="119.55" cy="47.81" r="0.64" fill="#a8a8a8"/>
<circle cx="119.18" cy="46.36" r="0.39" fill="#a8a8a8"/>
<circle cx="120.16" cy="46.62" r="0.49" fill="#a8a8a8"/>
<circle cx="119.88" cy="46.29" r="0.49" fill="#a8a8a8"/>
<circle cx="121.51" cy="46.63" r="0.4" fill="#a8a8a8"/>
<circle cx="121.29" cy="47.12" r="0.43" fill="#a8a8a8"/>
<circle cx="121.94" cy="47.88" r="0.56" fill="#a8a8a8"/>
<circle cx="121.95" cy="47.54" r="0.65" fill="#a8a8a8"/>
<circle cx="123.13" cy="46.53" r="0.48" fill="#a8a8a8"/>
<circle cx="122.77" cy="47.08" r="0.63" fill="#a8a8a8"/>
<circle cx="123.8" cy="45.73" r="0.62" fill="#a8a8a8"/>
<circle cx="123.83" cy="47.21" r="0.46" fill="#a8a8a8"/>
<circle cx="124.43" cy="47.55" r="0.62" fill="#a8a8a8"/>
<circle cx="124.52" cy="47.23" r="0.45" fill="#a8a8a8"/>
<circle cx="125.99" cy="46.97" r="0.65" fill="#a8a8a8"/>
<circle cx="125.39" cy="45.6" r="0.5" fill="#a8a8a8"/>
<circle cx="126.21" cy="46.47" r="0.54" fill="#a8a8a8"/>
<circle cx="126.86" cy="47.16" r="0.63" fill="#a8a8a8"/>
<circle cx="129.02" cy="46.8" r="0.45" fill="#a8a8a8"/>
<circle cx="129.57" cy="45.61" r="0.53" fill="#a8a8a8"/>
<circle cx="130.42" cy="45.28" r="0.6" fill="#a8a8a8"/>
<circle cx="129.9" cy="44.67" r="0.46" fill="#a8a8a8"/>
<circle cx="130.77" cy="45.66" r="0.52" fill="#a8a8a8"/>
<circle cx="131.27" cy="46.63" r="0.38" fill="#a8a8a8"/>
<circle cx="132" cy="45.16" r="0.47" fill="#a8a8a8"/>
<circle cx="131.76" cy="44.75" r="0.41" fill="#a8a8a8"/>
<circle cx="132.7" cy="45.79" r="0.56" fill="#a8a8a8"/>
<circle cx="132.8" cy="45.33" r="0.46" fill="#a8a8a8"/>
<circle cx="133.9" cy="46.41" r="0.6" fill="#a8a8a8"/>
<circle cx="133.67" cy="44.21" r="0.46" fill="#a8a8a8"/>
<circle cx="134.22" cy="44.79" r="0.42" fill="#a8a8a8"/>
<circle cx="134.71" cy="45.82" r="0.56" fill="#a8a8a8"/>
<circle cx="135.07" cy="44.1" r="0.38" fill="#a8a8a8"/>
<circle cx="135.82" cy="43.94" r="0.62" fill="#a8a8a8"/>
<circle cx="136.72" cy="44.22" r="0.52" fill="#a8a8a8"/>
<circle cx="136.32" cy="44.51" r="0.43" fill="#a8a8a8"/>
<circle cx="137.26" cy="45.31" r="0.6" fill="#a8a8a8"/>
<circle cx="137.33" cy="43.76" r="0.65" fill="#a8a8a8"/>
<circle cx="138.24" cy="44.62" r="0.45" fill="#a8a8a8"/>
<circle cx="138.13" cy="45.8" r="0.49" fill="#a8a8a8"/>
<circle cx="139.63" cy="45.35" r="0.46" fill="#a8a8a8"/>
<circle cx="139.91" cy="44.4" r="0.36" fill="#a8a8a8"/>
<circle cx="141.18" cy="43.96" r="0.63" fill="#a8a8a8"/>
<circle cx="141.17" cy="44.53" r="0.61" fill="#a8a8a8"/>
<circle cx="141.8" cy="43.26" r="0.45" fill="#a8a8a8"/>
<circle cx="142.1" cy="43" r="0.64" fill="#a8a8a8"/>
<circle cx="142.74" cy="44.41" r="0.63" fill="#a8a8a8"/>
<circle cx="142.67" cy="44.03" r="0.42" fill="#a8a8a8"/>
<circle cx="143.28" cy="44.06" r="0.36" fill="#a8a8a8"/>
<circle cx="143.7" cy="43.69" r="0.43" fill="#a8a8a8"/>
<circle cx="144.52" cy="44.41" r="0.62" fill="#a8a8a8"/>
<circle cx="144.14" cy="42.86" r="0.62" fill="#a8a8a8"/>
<circle cx="145.8" cy="44.37" r="0.39" fill="#a8a8a8"/>
<circle cx="146.02" cy="42.75" r="0.47" fill="#a8a8a8"/>
<circle cx="147.79" cy="42.59" r="0.35" fill="#a8a8a8"/>
<circle cx="147.92" cy="42.36" r="0.5" fill="#a8a8a8"/>
<circle cx="148.55" cy="43.11" r="0.55" fill="#a8a8a8"/>
<circle cx="148.6" cy="43.14" r="0.5" fill="#a8a8a8"/>
<circle cx="149.46" cy="42.8" r="0.58" fill="#a8a8a8"/>
<circle cx="150.13" cy="42.77" r="0.47" fill="#a8a8a8"/>
<circle cx="150.84" cy="43.7" r="0.61" fill="#a8a8a8"/>
<circle cx="150.89" cy="42.32" r="0.61" fill="#a8a8a8"/>
<circle cx="151.65" cy="43" r="0.42" fill="#a8a8a8"/>
<circle cx="151.71" cy="43.99" r="0.61" fill="#a8a8a8"/>
<circle cx="152.2" cy="43.05" r="0.44" fill="#a8a8a8"/>
<circle cx="152.81" cy="43.55" r="0.4" fill="#a8a8a8"/>
<circle cx="153.29" cy="41.89" r="0.59" fill="#a8a8a8"/>
<circle cx="153.32" cy="42.26" r="0.5" fill="#a8a8a8"/>
<circle cx="153.85" cy="42.02" r="0.5" fill="#a8a8a8"/>
<circle cx="154.07" cy="42.47" r="0.58" fill="#a8a8a8"/>
<circle cx="155.17" cy="41.74" r="0.59" fill="#a8a8a8"/>
<circle cx="154.73" cy="43.68" r="0.59" fill="#a8a8a8"/>
<circle cx="156.1" cy="43.04" r="0.64" fill="#a8a8a8"/>
<circle cx="155.68" cy="42.93" r="0.55" fill="#a8a8a8"/>
<circle cx="156.54" cy="43.29" r="0.45" fill="#a8a8a8"/>
<circle cx="156.64" cy="42.93" r="0.54" fill="#a8a8a8"/>
<circle cx="158.11" cy="42.97" r="0.47" fill="#a8a8a8"/>
<circle cx="157.62" cy="41.59" r="0.47" fill="#a8a8a8"/>
<circle cx="158.36" cy="42.81" r="0.37" fill="#a8a8a8"/>
<circle cx="158.95" cy="43.33" r="0.43" fill="#a8a8a8"/>
<circle cx="159.7" cy="42.98" r="0.43" fill="#a8a8a8"/>
<circle cx="159.89" cy="42.11" r="0.35" fill="#a8a8a8"/>
<circle cx="161.63" cy="41.32" r="0.37" fill="#a8a8a8"/>
<circle cx="161.45" cy="41.84" r="0.42" fill="#a8a8a8"/>
<circle cx="162.02" cy="42.39" r="0.4" fill="#a8a8a8"/>
<circle cx="162.35" cy="40.96" r="0.41" fill="#a8a8a8"/>
<circle cx="163.49" cy="42.56" r="0.38" fill="#a8a8a8"/>
<circle cx="163.12" cy="41.48" r="0.47" fill="#a8a8a8"/>
<circle cx="164.28" cy="41.67" r="0.44" fill="#a8a8a8"/>
<circle cx="163.99" cy="41.41" r="0.4" fill="#a8a8a8"/>
<circle cx="165.31" cy="41.44" r="0.6" fill="#a8a8a8"/>
<circle cx="164.77" cy="41.08" r="0.58" fill="#a8a8a8"/>
<circle cx="165.97" cy="40.52" r="0.47" fill="#a8a8a8"/>
<circle cx="166.07" cy="42.18" r="0.63" fill="#a8a8a8"/>
<circle cx="166.59" cy="42.35" r="0.45" fill="#a8a8a8"/>
<circle cx="167.06" cy="40.54" r="0.4" fill="#a8a8a8"/>
<circle cx="167.91" cy="41.4" r="0.47" fill="#a8a8a8"/>
<circle cx="167.56" cy="40.63" r="0.36" fill="#a8a8a8"/>
<circle cx="168.2" cy="41.55" r="0.65" fill="#a8a8a8"/>
<circle cx="168.39" cy="41.36" r="0.6" fill="#a8a8a8"/>
<circle cx="169.8" cy="40.82" r="0.42" fill="#a8a8a8"/>
<circle cx="169.11" cy="41.67" r="0.51" fill="#a8a8a8"/>
<circle cx="170.21" cy="40.51" r="0.52" fill="#a8a8a8"/>
<circle cx="170.07" cy="41.28" r="0.47" fill="#a8a8a8"/>
<circle cx="171.89" cy="41.47" r="0.49" fill="#a8a8a8"/>
<circle cx="172.21" cy="40.94" r="0.57" fill="#a8a8a8"/>
<circle cx="173.27" cy="41.21" r="0.62" fill="#a8a8a8"/>
<circle cx="173.29" cy="40.47" r="0.51" fill="#a8a8a8"/>
<circle cx="174.14" cy="40.09" r="0.54" fill="#a8a8a8"/>
<circle cx="173.99" cy="39.89" r="0.36" fill="#a8a8a8"/>
<circle cx="174.94" cy="40.76" r="0.4" fill="#a8a8a8"/>
<circle cx="174.88" cy="39.76" r="0.6" fill="#a8a8a8"/>
<circle cx="175.78" cy="40.27" r="0.57" fill="#a8a8a8"/>
<circle cx="175.71" cy="41.23" r="0.61" fill="#a8a8a8"/>
<circle cx="176.44" cy="39.92" r="0.57" fill="#a8a8a8"/>
<circle cx="176.59" cy="41.15" r="0.56" fill="#a8a8a8"/>
<circle cx="177.45" cy="40.36" r="0.48" fill="#a8a8a8"/>
<circle cx="177.6" cy="39.78" r="0.55" fill="#a8a8a8"/>
<circle cx="178.37" cy="40.68" r="0.61" fill="#a8a8a8"/>
<circle cx="178.7" cy="40.38" r="0.47" fill="#a8a8a8"/>
<circle cx="178.96" cy="39.63" r="0.63" fill="#a8a8a8"/>
<circle cx="178.93" cy="39.94" r="0.54" fill="#a8a8a8"/>
<circle cx="181.43" cy="40.78" r="0.49" fill="#a8a8a8"/>
<circle cx="180.74" cy="39.53" r="0.43" fill="#a8a8a8"/>
<circle cx="181.58" cy="40.55" r="0.6" fill="#a8a8a8"/>
<circle cx="182.13" cy="40.31" r="0.39" fill="#a8a8a8"/>
<circle cx="182.99" cy="40.16" r="0.46" fill="#a8a8a8"/>
<circle cx="182.5" cy="39.54" r="0.65" fill="#a8a8a8"/>
<circle cx="184.02" cy="40.43" r="0.49" fill="#a8a8a8"/>
<circle cx="183.53" cy="40.23" r="0.55" fill="#a8a8a8"/>
<circle cx="184.96" cy="39.43" r="0.48" fill="#a8a8a8"/>
<circle cx="184.74" cy="40.2" r="0.44" fill="#a8a8a8"/>
<circle cx="185.62" cy="38.76" r="0.6" fill="#a8a8a8"/>
<circle cx="185.54" cy="39.09" r="0.65" fill="#a8a8a8"/>
<circle cx="186.72" cy="40.05" r="0.5" fill="#a8a8a8"/>
<circle cx="186.11" cy="39.61" r="0.5" fill="#a8a8a8"/>
<circle cx="186.99" cy="38.93" r="0.36" fill="#a8a8a8"/>
<circle cx="187.14" cy="38.83" r="0.59" fill="#a8a8a8"/>
<circle cx="188" cy="40.1" r="1.5" fill="#fff" stroke="#333" stroke-width="0.65"/>
<path d="M190.18 36.97L191.68 39.73L188.68 39.73Z" fill="#fff" stroke="#333" stroke-width="0.65"/>
<circle cx="192.37" cy="39.55" r="1.5" fill="#fff" stroke="#333" stroke-width="0.65"/>
<path d="M194.55 36.41L196.05 39.17L193.05 39.17Z" fill="#fff" stroke="#333" stroke-width="0.65"/>
<circle cx="196.72" cy="38.95" r="1.5" fill="#fff" stroke="#333" stroke-width="0.65"/>
<path d="M198.9 35.78L200.4 38.54L197.4 38.54Z" fill="#fff" stroke="#333" stroke-width="0.65"/>
<circle cx="201.08" cy="38.3" r="1.5" fill="#fff" stroke="#333" stroke-width="0.65"/>
<path d="M203.25 35.1L204.75 37.86L201.75 37.86Z" fill="#fff" stroke="#333" stroke-width="0.65"/>
<circle cx="205.42" cy="37.6" r="1.5" fill="#fff" stroke="#333" stroke-width="0.65"/>
<path d="M207.59 34.38L209.09 37.14L206.09 37.14Z" fill="#fff" stroke="#333" stroke-width="0.65"/>
<circle cx="209.75" cy="36.84" r="1.5" fill="#fff" stroke="#333" stroke-width="0.65"/>
<path d="M211.91 33.57L213.41 36.33L210.41 36.33Z" fill="#fff" stroke="#333" stroke-width="0.65"/>
<circle cx="214.07" cy="35.99" r="1.5" fill="#fff" stroke="#333" stroke-width="0.65"/>
<path d="M216.23 32.7L217.73 35.46L214.73 35.46Z" fill="#fff" stroke="#333" stroke-width="0.65"/>
<circle cx="218.39" cy="35.14" r="1.5" fill="#fff" stroke="#333" stroke-width="0.65"/>
<path d="M220.55 31.88L222.05 34.64L219.05 34.64Z" fill="#fff" stroke="#333" stroke-width="0.65"/>
<circle cx="222.71" cy="34.33" r="1.5" fill="#fff" stroke="#333" stroke-width="0.65"/>
<path d="M224.88 31.09L226.38 33.85L223.38 33.85Z" fill="#fff" stroke="#333" stroke-width="0.65"/>
<line x1="35.6" y1="181.4" x2="35.6" y2="104" stroke="#333" stroke-width="1.0" stroke-dasharray="1.2 0.8"/>
<path d="M60.5 57.6 L60.86 57.84 L61.13 58.06 L61.57 58.32 L62.4 58.7 L63.84 59.25 L65.72 59.92 L67.69 60.63 L69.4 61.3 L70.75 61.9 L71.94 62.48 L73.05 63.07 L74.2 63.7 L75.4 64.38 L76.6 65.09 L77.8 65.83 L79 66.6 L80.2 67.4 L81.4 68.23 L82.6 69.1 L83.8 70 L85 70.92 L86.2 71.86 L87.4 72.87 L88.6 74 L89.89 75.37 L91.24 76.92 L92.47 78.41 L93.4 79.6 L93.9 80.37 L94.09 80.87 L94.17 81.26 L94.3 81.7" fill="none" stroke="#000" stroke-width="1.35" stroke-linejoin="round"/>
<path d="M61.6 56.3 L61.96 56.54 L62.23 56.76 L62.67 57.02 L63.5 57.4 L64.94 57.95 L66.82 58.62 L68.79 59.33 L70.5 60 L71.85 60.6 L73.04 61.18 L74.15 61.77 L75.3 62.4 L76.5 63.08 L77.7 63.79 L78.9 64.53 L80.1 65.3 L81.3 66.1 L82.5 66.93 L83.7 67.8 L84.9 68.7 L86.1 69.62 L87.3 70.56 L88.5 71.57 L89.7 72.7 L90.99 74.07 L92.34 75.62 L93.57 77.11 L94.5 78.3 L95 79.07 L95.19 79.57 L95.27 79.96 L95.4 80.4" fill="none" stroke="#000" stroke-width="1.2" stroke-linejoin="round" stroke-dasharray="2.4 1.2"/>
<path d="M69.9 60.7 L71.1 61.29 L72.3 61.87 L73.5 62.46 L74.7 63.1 L75.9 63.78 L77.1 64.49 L78.3 65.23 L79.5 66 L80.7 66.8 L81.9 67.63 L83.1 68.5 L84.3 69.4 L85.5 70.32 L86.7 71.26 L87.9 72.27 L89.1 73.4 L90.39 74.77 L91.74 76.32 L92.97 77.81 L93.9 79 L94.4 79.77 L94.59 80.27 L94.67 80.66 L94.8 81.1" fill="none" stroke="#111" stroke-width="1.1" stroke-linejoin="round" stroke-dasharray="1 1"/>
<rect x="33.6" y="179.4" width="3.8" height="3.8" fill="#fff" stroke="#4a4a4a" stroke-width="0.75"/>
<rect x="38.5" y="92.7" width="3.8" height="3.8" fill="#fff" stroke="#4a4a4a" stroke-width="0.75"/>
<rect x="41.2" y="79.7" width="3.8" height="3.8" fill="#fff" stroke="#4a4a4a" stroke-width="0.75"/>
<rect x="41.2" y="72.1" width="3.8" height="3.8" fill="#fff" stroke="#4a4a4a" stroke-width="0.75"/>
<rect x="46.1" y="65.3" width="3.8" height="3.8" fill="#fff" stroke="#4a4a4a" stroke-width="0.75"/>
<rect x="86.3" y="48.3" width="3.8" height="3.8" fill="#fff" stroke="#4a4a4a" stroke-width="0.75"/>
<rect x="99.2" y="45.1" width="3.8" height="3.8" fill="#fff" stroke="#4a4a4a" stroke-width="0.75"/>
<rect x="105.2" y="44.7" width="3.8" height="3.8" fill="#fff" stroke="#4a4a4a" stroke-width="0.75"/>
<rect x="116.6" y="42.4" width="3.8" height="3.8" fill="#fff" stroke="#4a4a4a" stroke-width="0.75"/>
<rect x="127.7" y="40.3" width="3.8" height="3.8" fill="#fff" stroke="#4a4a4a" stroke-width="0.75"/>
<rect x="139" y="38.9" width="3.8" height="3.8" fill="#fff" stroke="#4a4a4a" stroke-width="0.75"/>
<rect x="148.5" y="38.7" width="3.8" height="3.8" fill="#fff" stroke="#4a4a4a" stroke-width="0.75"/>
<rect x="161.4" y="36.7" width="3.8" height="3.8" fill="#fff" stroke="#4a4a4a" stroke-width="0.75"/>
<rect x="178.3" y="33.9" width="3.8" height="3.8" fill="#fff" stroke="#4a4a4a" stroke-width="0.75"/>
<rect x="190.2" y="34.1" width="3.8" height="3.8" fill="#fff" stroke="#4a4a4a" stroke-width="0.75"/>
<rect x="207.6" y="32.5" width="3.8" height="3.8" fill="#fff" stroke="#4a4a4a" stroke-width="0.75"/>
<rect x="215.8" y="32.4" width="3.8" height="3.8" fill="#fff" stroke="#4a4a4a" stroke-width="0.75"/>
<rect x="220.2" y="30.3" width="3.8" height="3.8" fill="#fff" stroke="#4a4a4a" stroke-width="0.75"/>
<rect x="224" y="31.3" width="3.8" height="3.8" fill="#fff" stroke="#4a4a4a" stroke-width="0.75"/>
<rect x="229.4" y="29.7" width="3.8" height="3.8" fill="#fff" stroke="#4a4a4a" stroke-width="0.75"/>
<rect x="232.7" y="32.3" width="3.8" height="3.8" fill="#fff" stroke="#4a4a4a" stroke-width="0.75"/>
<rect x="237.6" y="31.2" width="3.8" height="3.8" fill="#fff" stroke="#4a4a4a" stroke-width="0.75"/>
<path d="M198.3 39.09L201.3 44.61L195.3 44.61Z" fill="#000" stroke="#000" stroke-width="0.3"/>
<circle cx="212.8" cy="38.4" r="2.55" fill="#000" stroke="#000" stroke-width="0.3"/>
<rect x="224.3" y="35.4" width="5" height="5" fill="#000" stroke="#000" stroke-width="0.3"/>
<rect x="44.5" y="108.5" width="213" height="73" fill="#fff" stroke="#606060" stroke-width="1"/>
<line x1="49.3" y1="112.5" x2="64.7" y2="112.5" stroke="#1a1a1a" stroke-width="1.3"/>
<text x="66.6" y="114.98" font-size="7.3" fill="#1c1c1c" stroke="#1c1c1c" stroke-width="0.1">PHS1800-S-01 σtrue-L [MPa]</text>
<line x1="49.3" y1="120.63" x2="64.7" y2="120.63" stroke="#1a1a1a" stroke-width="1.4" stroke-dasharray="4 2.5"/>
<text x="66.6" y="123.11" font-size="7.3" fill="#1c1c1c" stroke="#1c1c1c" stroke-width="0.1">PHS1800-S-02 σtrue-L [MPa]</text>
<line x1="49.3" y1="128.76" x2="64.7" y2="128.76" stroke="#1a1a1a" stroke-width="1.3" stroke-dasharray="1.2 0.9"/>
<text x="66.6" y="131.24" font-size="7.3" fill="#1c1c1c" stroke="#1c1c1c" stroke-width="0.1">PHS1800-S-04 σtrue-L [MPa]</text>
<circle cx="57.4" cy="136.89" r="1.76" fill="#fff" stroke="#6a6a6a" stroke-width="0.75"/>
<text x="66.6" y="139.37" font-size="7.3" fill="#1c1c1c" stroke="#1c1c1c" stroke-width="0.1">PHS1800-S-01 σtrue-Expo (anisotropic) [MPa]</text>
<path d="M57.4 142.88L59.34 146.44L55.46 146.44Z" fill="#fff" stroke="#6a6a6a" stroke-width="0.75"/>
<text x="66.6" y="147.5" font-size="7.3" fill="#1c1c1c" stroke="#1c1c1c" stroke-width="0.1">PHS1800-S-02 σtrue-Expo (anisotropic) [MPa]</text>
<rect x="55.64" y="151.39" width="3.52" height="3.52" fill="#fff" stroke="#6a6a6a" stroke-width="0.75"/>
<text x="66.6" y="155.63" font-size="7.3" fill="#1c1c1c" stroke="#1c1c1c" stroke-width="0.1">PHS1800-S-04 σtrue-Expo (anisotropic) [MPa]</text>
<circle cx="57.4" cy="161.28" r="1.92" fill="#000" stroke="#000" stroke-width="0.3"/>
<text x="66.6" y="163.76" font-size="7.3" fill="#1c1c1c" stroke="#1c1c1c" stroke-width="0.1">PHS1800-S-01 σTrue @ failure (fractured cross section) [MPa]</text>
<path d="M57.4 167.08L59.51 170.96L55.29 170.96Z" fill="#000" stroke="#000" stroke-width="0.3"/>
<text x="66.6" y="171.89" font-size="7.3" fill="#1c1c1c" stroke="#1c1c1c" stroke-width="0.1">PHS1800-S-02 σTrue @ failure (fractured cross section) [MPa]</text>
<rect x="55.48" y="175.62" width="3.84" height="3.84" fill="#000" stroke="#000" stroke-width="0.3"/>
<text x="66.6" y="180.02" font-size="7.3" fill="#1c1c1c" stroke="#1c1c1c" stroke-width="0.1">PHS1800-S-04 σTrue @ failure (fractured cross section) [MPa]</text>
<line x1="351.37" y1="17.5" x2="351.37" y2="181.5" stroke="#dedede" stroke-width="0.9"/>
<line x1="389.13" y1="17.5" x2="389.13" y2="181.5" stroke="#dedede" stroke-width="0.9"/>
<line x1="426.9" y1="17.5" x2="426.9" y2="181.5" stroke="#dedede" stroke-width="0.9"/>
<line x1="464.67" y1="17.5" x2="464.67" y2="181.5" stroke="#dedede" stroke-width="0.9"/>
<line x1="502.43" y1="17.5" x2="502.43" y2="181.5" stroke="#dedede" stroke-width="0.9"/>
<line x1="540.2" y1="17.5" x2="540.2" y2="181.5" stroke="#dedede" stroke-width="0.9"/>
<line x1="313.6" y1="148.7" x2="540.2" y2="148.7" stroke="#dedede" stroke-width="0.9"/>
<line x1="313.6" y1="115.9" x2="540.2" y2="115.9" stroke="#dedede" stroke-width="0.9"/>
<line x1="313.6" y1="83.1" x2="540.2" y2="83.1" stroke="#dedede" stroke-width="0.9"/>
<line x1="313.6" y1="50.3" x2="540.2" y2="50.3" stroke="#dedede" stroke-width="0.9"/>
<line x1="313.6" y1="17.5" x2="540.2" y2="17.5" stroke="#dedede" stroke-width="0.9"/>
<line x1="313.6" y1="17.5" x2="313.6" y2="182" stroke="#808080" stroke-width="1.0"/>
<line x1="313.6" y1="181.5" x2="540.2" y2="181.5" stroke="#595959" stroke-width="1.0"/>
<text x="306.8" y="183.57" font-size="7.55" fill="#1c1c1c" text-anchor="end" stroke="#1c1c1c" stroke-width="0.12">0</text>
<text x="306.8" y="150.77" font-size="7.55" fill="#1c1c1c" text-anchor="end" stroke="#1c1c1c" stroke-width="0.12">100</text>
<text x="306.8" y="117.97" font-size="7.55" fill="#1c1c1c" text-anchor="end" stroke="#1c1c1c" stroke-width="0.12">200</text>
<text x="306.8" y="85.17" font-size="7.55" fill="#1c1c1c" text-anchor="end" stroke="#1c1c1c" stroke-width="0.12">300</text>
<text x="306.8" y="52.37" font-size="7.55" fill="#1c1c1c" text-anchor="end" stroke="#1c1c1c" stroke-width="0.12">400</text>
<text x="306.8" y="19.57" font-size="7.55" fill="#1c1c1c" text-anchor="end" stroke="#1c1c1c" stroke-width="0.12">500</text>
<text x="313.6" y="192.9" font-size="7.55" fill="#1c1c1c" text-anchor="middle" stroke="#1c1c1c" stroke-width="0.12">0.00</text>
<text x="351.37" y="192.9" font-size="7.55" fill="#1c1c1c" text-anchor="middle" stroke="#1c1c1c" stroke-width="0.12">0.10</text>
<text x="389.13" y="192.9" font-size="7.55" fill="#1c1c1c" text-anchor="middle" stroke="#1c1c1c" stroke-width="0.12">0.20</text>
<text x="426.9" y="192.9" font-size="7.55" fill="#1c1c1c" text-anchor="middle" stroke="#1c1c1c" stroke-width="0.12">0.30</text>
<text x="464.67" y="192.9" font-size="7.55" fill="#1c1c1c" text-anchor="middle" stroke="#1c1c1c" stroke-width="0.12">0.40</text>
<text x="502.43" y="192.9" font-size="7.55" fill="#1c1c1c" text-anchor="middle" stroke="#1c1c1c" stroke-width="0.12">0.50</text>
<text x="540.2" y="192.9" font-size="7.55" fill="#1c1c1c" text-anchor="middle" stroke="#1c1c1c" stroke-width="0.12">0.60</text>
<text x="413.6" y="11.3" font-size="9.05" fill="#000" text-anchor="middle" font-weight="bold" stroke="#000" stroke-width="0.1">AL6181 - STATIC</text>
<text x="430" y="205.8" font-size="7.75" fill="#000" text-anchor="middle" font-weight="bold" stroke="#000" stroke-width="0.1">Plastic True Strain [ ]</text>
<text transform="translate(288.3 102.9) rotate(-90)" font-size="7.45" fill="#000" text-anchor="middle" font-weight="bold" stroke="#000" stroke-width="0.1">True Stress [MPa]</text>
<text x="319.3" y="28.7" font-size="8.5" fill="#000" font-weight="bold" stroke="#000" stroke-width="0.22">b)</text>
<line x1="314.1" y1="181.4" x2="314.1" y2="100" stroke="#111" stroke-width="1.5"/>
<circle cx="313.8" cy="179" r="1.65" fill="none" stroke="#1a1a1a" stroke-width="0.75"/>
<path d="M314.6 174.18L316.25 177.21L312.95 177.21Z" fill="none" stroke="#1a1a1a" stroke-width="0.75"/>
<rect x="312.15" y="171.35" width="3.3" height="3.3" fill="none" stroke="#1a1a1a" stroke-width="0.75"/>
<circle cx="314.6" cy="170" r="1.65" fill="none" stroke="#1a1a1a" stroke-width="0.75"/>
<path d="M313.8 165.18L315.45 168.21L312.15 168.21Z" fill="none" stroke="#1a1a1a" stroke-width="0.75"/>
<rect x="312.95" y="162.35" width="3.3" height="3.3" fill="none" stroke="#1a1a1a" stroke-width="0.75"/>
<circle cx="313.8" cy="161" r="1.65" fill="none" stroke="#1a1a1a" stroke-width="0.75"/>
<path d="M314.6 156.18L316.25 159.21L312.95 159.21Z" fill="none" stroke="#1a1a1a" stroke-width="0.75"/>
<rect x="312.15" y="153.35" width="3.3" height="3.3" fill="none" stroke="#1a1a1a" stroke-width="0.75"/>
<circle cx="314.6" cy="152" r="1.65" fill="none" stroke="#1a1a1a" stroke-width="0.75"/>
<path d="M313.8 147.18L315.45 150.21L312.15 150.21Z" fill="none" stroke="#1a1a1a" stroke-width="0.75"/>
<rect x="312.95" y="144.35" width="3.3" height="3.3" fill="none" stroke="#1a1a1a" stroke-width="0.75"/>
<circle cx="313.8" cy="143" r="1.65" fill="none" stroke="#1a1a1a" stroke-width="0.75"/>
<path d="M314.6 138.18L316.25 141.21L312.95 141.21Z" fill="none" stroke="#1a1a1a" stroke-width="0.75"/>
<rect x="312.15" y="135.35" width="3.3" height="3.3" fill="none" stroke="#1a1a1a" stroke-width="0.75"/>
<circle cx="314.6" cy="134" r="1.65" fill="none" stroke="#1a1a1a" stroke-width="0.75"/>
<path d="M313.8 129.18L315.45 132.21L312.15 132.21Z" fill="none" stroke="#1a1a1a" stroke-width="0.75"/>
<rect x="312.95" y="126.35" width="3.3" height="3.3" fill="none" stroke="#1a1a1a" stroke-width="0.75"/>
<circle cx="313.8" cy="125" r="1.65" fill="none" stroke="#1a1a1a" stroke-width="0.75"/>
<path d="M314.6 120.18L316.25 123.21L312.95 123.21Z" fill="none" stroke="#1a1a1a" stroke-width="0.75"/>
<rect x="312.15" y="117.35" width="3.3" height="3.3" fill="none" stroke="#1a1a1a" stroke-width="0.75"/>
<circle cx="314.6" cy="116" r="1.65" fill="none" stroke="#1a1a1a" stroke-width="0.75"/>
<path d="M313.8 111.18L315.45 114.21L312.15 114.21Z" fill="none" stroke="#1a1a1a" stroke-width="0.75"/>
<rect x="312.95" y="108.35" width="3.3" height="3.3" fill="none" stroke="#1a1a1a" stroke-width="0.75"/>
<circle cx="313.8" cy="107" r="1.65" fill="none" stroke="#1a1a1a" stroke-width="0.75"/>
<path d="M314.6 102.18L316.25 105.21L312.95 105.21Z" fill="none" stroke="#1a1a1a" stroke-width="0.75"/>
<path d="M316.9 110.1 L316.95 109.42 L317 108.75 L317.05 108.09 L317.1 107.46 L317.16 106.84 L317.24 106.23 L317.35 105.62 L317.48 105 L317.62 104.39 L317.76 103.78 L317.92 103.17 L318.09 102.55 L318.29 101.9 L318.49 101.24 L318.71 100.6 L318.93 99.99 L319.16 99.41 L319.4 98.88 L319.66 98.39 L319.93 97.91 L320.23 97.42 L320.56 96.89 L320.94 96.32 L321.37 95.66 L321.81 94.9 L322.25 94.12 L322.7 93.37 L323.14 92.66 L323.57 92.04 L323.98 91.54 L324.4 91.08 L324.89 90.62 L325.47 90.13 L326.12 89.61 L326.82 89.04 L327.54 88.45 L328.22 87.88 L328.87 87.33 L329.52 86.8 L330.17 86.27 L330.82 85.74 L331.47 85.22 L332.12 84.71 L332.77 84.21 L333.42 83.71 L334.07 83.22 L334.72 82.73 L335.37 82.25 L336.02 81.77 L336.67 81.3 L337.32 80.84 L337.97 80.38 L338.62 79.93 L339.27 79.49 L339.92 79.04 L340.57 78.6 L341.22 78.17 L341.86 77.74 L342.51 77.32 L343.16 76.91 L343.81 76.49 L344.45 76.08 L345.09 75.67 L345.74 75.27 L346.38 74.87 L347.03 74.48 L347.67 74.09 L348.32 73.71 L348.96 73.33 L349.61 72.95 L350.26 72.58 L350.9 72.22 L351.55 71.86 L352.19 71.5 L352.84 71.15 L353.49 70.8 L354.13 70.46 L354.78 70.12 L355.43 69.79 L356.07 69.46 L356.72 69.13 L357.37 68.81 L358.02 68.49 L358.67 68.17 L359.32 67.86 L359.96 67.56 L360.61 67.25 L361.26 66.95 L361.91 66.66 L362.57 66.37 L363.22 66.08 L363.86 65.79 L364.52 65.51 L365.17 65.23 L365.82 64.96 L366.47 64.68 L367.12 64.41 L367.77 64.15 L368.42 63.88 L369.08 63.62 L369.73 63.36 L370.38 63.11 L371.04 62.86 L371.69 62.61 L372.34 62.36 L373 62.11 L373.65 61.87 L374.31 61.63 L374.96 61.4 L375.62 61.16 L376.27 60.93 L376.93 60.7 L377.58 60.48 L378.24 60.25 L378.9 60.03 L379.56 59.81 L380.21 59.6 L380.87 59.39 L381.53 59.17 L382.19 58.96 L382.85 58.75 L383.51 58.55 L384.17 58.34 L384.83 58.14 L385.49 57.94 L386.15 57.74 L386.81 57.54 L387.47 57.34 L388.13 57.14 L388.79 56.95 L389.45 56.75 L390.11 56.56 L390.78 56.36 L391.44 56.17 L392.1 55.98 L392.76 55.79 L393.43 55.6 L394.09 55.41 L394.75 55.22 L395.42 55.04 L396.08 54.85 L396.74 54.66 L397.41 54.48 L398.07 54.29 L398.74 54.11 L399.4 53.92 L400.07 53.73 L400.73 53.55 L401.4 53.36 L402.06 53.18 L402.73 52.99 L403.39 52.8 L404.06 52.62 L404.72 52.43 L405.39 52.24 L406.05 52.06 L406.71 51.87 L407.38 51.69 L408.04 51.5 L408.71 51.32 L409.37 51.13 L410.04 50.95 L410.7 50.76 L411.37 50.58 L412.03 50.4 L412.69 50.21 L413.36 50.03 L414.02 49.85 L414.69 49.67 L415.35 49.48 L416.01 49.3 L416.68 49.12 L417.34 48.94 L418 48.76 L418.67 48.58 L419.33 48.4 L420 48.23 L420.66 48.05 L421.32 47.87 L421.99 47.7 L422.65 47.52 L423.31 47.35 L423.98 47.17 L424.64 47 L425.31 46.83 L425.97 46.66 L426.63 46.48 L427.3 46.31 L427.96 46.14 L428.62 45.97 L429.29 45.81 L429.95 45.64 L430.61 45.47 L431.28 45.3 L431.94 45.14 L432.6 44.97 L433.26 44.81 L433.93 44.65 L434.59 44.48 L435.25 44.32 L435.92 44.16 L436.58 44 L437.24 43.84 L437.9 43.68 L438.57 43.53 L439.23 43.37 L439.89 43.21 L440.56 43.06 L441.22 42.9 L441.88 42.75 L442.54 42.6 L443.21 42.45 L443.87 42.3 L444.53 42.15 L445.19 42 L445.85 41.85 L446.52 41.7 L447.18 41.56 L447.84 41.41 L448.5 41.27 L449.16 41.13 L449.83 40.99 L450.49 40.85 L451.15 40.71 L451.81 40.57 L452.47 40.43 L453.13 40.3 L453.8 40.16 L454.46 40.03 L455.12 39.9 L455.78 39.77 L456.44 39.64 L457.1 39.51 L457.76 39.38 L458.43 39.26 L459.09 39.13 L459.75 39.01 L460.41 38.89 L461.07 38.77 L461.73 38.65 L462.39 38.53 L463.05 38.41 L463.71 38.3 L464.38 38.18 L465.04 38.07 L465.7 37.96 L466.36 37.85 L467.02 37.74 L467.68 37.63 L468.34 37.52 L469 37.42 L469.66 37.31 L470.32 37.21 L470.98 37.11 L471.64 37.01 L472.3 36.91 L472.96 36.81 L473.62 36.72 L474.28 36.62 L474.94 36.53 L475.6 36.44 L476.26 36.35 L476.92 36.26 L477.58 36.18 L478.24 36.09 L478.9 36.01 L479.56 35.93 L480.22 35.85 L480.88 35.77 L481.54 35.7 L482.2 35.63 L482.86 35.55 L483.52 35.48 L484.18 35.41 L484.84 35.35 L485.5 35.28 L486.16 35.21 L486.82 35.13 L487.48 35.06 L488.13 34.98 L488.79 34.91 L489.45 34.85 L490.11 34.78 L490.78 34.71 L491.45 34.64 L492.11 34.58 L492.76 34.52 L493.41 34.46 L494.03 34.41 L494.64 34.36 L495.25 34.31 L495.86 34.26 L496.47 34.21 L497.08 34.17 L496.92 30.37 L496.31 30.37 L495.7 30.38 L495.09 30.38 L494.47 30.38 L493.84 30.39 L493.19 30.4 L492.54 30.41 L491.87 30.42 L491.19 30.44 L490.51 30.46 L489.83 30.48 L489.15 30.5 L488.47 30.52 L487.8 30.55 L487.12 30.58 L486.45 30.62 L485.78 30.65 L485.1 30.69 L484.43 30.74 L483.75 30.79 L483.08 30.85 L482.41 30.91 L481.73 30.97 L481.06 31.03 L480.39 31.09 L479.71 31.16 L479.04 31.23 L478.37 31.29 L477.69 31.37 L477.02 31.44 L476.35 31.51 L475.67 31.59 L475 31.66 L474.33 31.74 L473.65 31.82 L472.98 31.91 L472.31 31.99 L471.63 32.07 L470.96 32.16 L470.29 32.25 L469.61 32.34 L468.94 32.43 L468.27 32.53 L467.59 32.62 L466.92 32.72 L466.25 32.82 L465.58 32.92 L464.9 33.02 L464.23 33.12 L463.56 33.23 L462.89 33.34 L462.21 33.45 L461.54 33.56 L460.87 33.67 L460.2 33.78 L459.52 33.9 L458.85 34.01 L458.18 34.13 L457.51 34.25 L456.84 34.37 L456.16 34.49 L455.49 34.61 L454.82 34.73 L454.15 34.86 L453.48 34.99 L452.8 35.11 L452.13 35.24 L451.46 35.37 L450.79 35.5 L450.12 35.63 L449.45 35.77 L448.77 35.9 L448.1 36.04 L447.43 36.17 L446.76 36.31 L446.09 36.45 L445.42 36.59 L444.75 36.73 L444.08 36.87 L443.4 37.01 L442.73 37.16 L442.06 37.3 L441.39 37.45 L440.72 37.59 L440.05 37.74 L439.38 37.89 L438.71 38.04 L438.04 38.19 L437.37 38.34 L436.7 38.5 L436.02 38.65 L435.35 38.8 L434.68 38.96 L434.01 39.11 L433.34 39.27 L432.67 39.43 L432 39.59 L431.33 39.75 L430.66 39.91 L429.99 40.07 L429.32 40.23 L428.65 40.39 L427.98 40.55 L427.31 40.72 L426.64 40.88 L425.97 41.04 L425.3 41.21 L424.63 41.38 L423.96 41.54 L423.29 41.71 L422.62 41.88 L421.95 42.04 L421.28 42.21 L420.61 42.38 L419.94 42.55 L419.27 42.72 L418.6 42.89 L417.93 43.06 L417.27 43.23 L416.6 43.4 L415.93 43.57 L415.26 43.75 L414.59 43.92 L413.92 44.09 L413.25 44.26 L412.58 44.44 L411.91 44.61 L411.24 44.78 L410.57 44.96 L409.9 45.13 L409.23 45.31 L408.56 45.48 L407.89 45.66 L407.22 45.83 L406.56 46.01 L405.89 46.19 L405.22 46.36 L404.55 46.54 L403.88 46.71 L403.21 46.89 L402.54 47.07 L401.87 47.25 L401.21 47.42 L400.54 47.6 L399.87 47.78 L399.2 47.96 L398.53 48.14 L397.87 48.32 L397.2 48.5 L396.53 48.68 L395.86 48.86 L395.19 49.04 L394.52 49.22 L393.85 49.41 L393.18 49.59 L392.51 49.77 L391.84 49.96 L391.17 50.14 L390.5 50.33 L389.83 50.52 L389.16 50.71 L388.49 50.9 L387.81 51.09 L387.14 51.28 L386.47 51.47 L385.8 51.67 L385.12 51.86 L384.45 52.06 L383.78 52.26 L383.11 52.46 L382.43 52.66 L381.76 52.87 L381.08 53.07 L380.41 53.28 L379.74 53.49 L379.06 53.7 L378.39 53.91 L377.71 54.13 L377.04 54.34 L376.36 54.56 L375.68 54.78 L375.01 55 L374.33 55.22 L373.65 55.45 L372.97 55.68 L372.29 55.91 L371.62 56.14 L370.94 56.37 L370.26 56.61 L369.58 56.85 L368.9 57.09 L368.22 57.33 L367.54 57.58 L366.86 57.83 L366.18 58.09 L365.49 58.34 L364.81 58.6 L364.13 58.87 L363.45 59.14 L362.77 59.41 L362.08 59.68 L361.4 59.96 L360.72 60.24 L360.03 60.52 L359.35 60.81 L358.67 61.1 L357.99 61.4 L357.3 61.7 L356.62 62 L355.93 62.31 L355.25 62.62 L354.56 62.94 L353.88 63.26 L353.19 63.58 L352.51 63.91 L351.82 64.24 L351.13 64.57 L350.45 64.91 L349.76 65.26 L349.07 65.61 L348.39 65.96 L347.7 66.32 L347.01 66.69 L346.32 67.06 L345.64 67.43 L344.95 67.81 L344.26 68.19 L343.57 68.58 L342.88 68.97 L342.2 69.37 L341.51 69.78 L340.82 70.19 L340.13 70.6 L339.44 71.03 L338.75 71.46 L338.07 71.9 L337.38 72.34 L336.7 72.79 L336.01 73.24 L335.33 73.7 L334.64 74.17 L333.96 74.65 L333.28 75.13 L332.59 75.62 L331.91 76.11 L331.23 76.61 L330.54 77.11 L329.86 77.63 L329.18 78.14 L328.49 78.67 L327.81 79.2 L327.13 79.74 L326.45 80.28 L325.76 80.83 L325.08 81.39 L324.4 81.95 L323.71 82.52 L323.06 83.08 L322.42 83.6 L321.74 84.15 L321 84.74 L320.21 85.41 L319.41 86.17 L318.62 87.04 L317.91 87.99 L317.29 88.95 L316.74 89.89 L316.25 90.78 L315.82 91.61 L315.43 92.34 L315.09 93.05 L314.76 93.75 L314.45 94.45 L314.14 95.17 L313.86 95.92 L313.6 96.72 L313.37 97.55 L313.18 98.37 L313.03 99.18 L312.91 99.96 L312.8 100.72 L312.71 101.45 L312.61 102.18 L312.53 102.91 L312.47 103.63 L312.42 104.34 L312.39 105.05 L312.36 105.77 L312.32 106.49 L312.31 107.21 L312.3 107.91 L312.3 108.59 L312.31 109.24 L312.3 109.9Z" fill="#0a0a0a"/>
<circle cx="420.69" cy="45.29" r="0.56" fill="#9a9a9a"/>
<circle cx="420.14" cy="44.83" r="0.33" fill="#9a9a9a"/>
<circle cx="422.24" cy="44.78" r="0.39" fill="#9a9a9a"/>
<circle cx="422.19" cy="45.04" r="0.32" fill="#9a9a9a"/>
<circle cx="423.69" cy="44.28" r="0.5" fill="#9a9a9a"/>
<circle cx="423.59" cy="44.31" r="0.46" fill="#9a9a9a"/>
<circle cx="425.52" cy="43.6" r="0.57" fill="#9a9a9a"/>
<circle cx="425.74" cy="44.51" r="0.56" fill="#9a9a9a"/>
<circle cx="428.27" cy="43.46" r="0.41" fill="#9a9a9a"/>
<circle cx="428.15" cy="42.95" r="0.44" fill="#9a9a9a"/>
<circle cx="429.06" cy="42.81" r="0.55" fill="#9a9a9a"/>
<circle cx="428.93" cy="43.17" r="0.39" fill="#9a9a9a"/>
<circle cx="430.86" cy="42.27" r="0.34" fill="#9a9a9a"/>
<circle cx="430.74" cy="42.61" r="0.51" fill="#9a9a9a"/>
<circle cx="434.22" cy="41.99" r="0.47" fill="#9a9a9a"/>
<circle cx="434.3" cy="41.58" r="0.33" fill="#9a9a9a"/>
<circle cx="435.01" cy="42.14" r="0.5" fill="#9a9a9a"/>
<circle cx="435.4" cy="41.76" r="0.44" fill="#9a9a9a"/>
<circle cx="436.73" cy="40.65" r="0.36" fill="#9a9a9a"/>
<circle cx="436.68" cy="40.69" r="0.46" fill="#9a9a9a"/>
<circle cx="437.99" cy="41.5" r="0.46" fill="#9a9a9a"/>
<circle cx="437.66" cy="41.21" r="0.57" fill="#9a9a9a"/>
<circle cx="445.51" cy="39.25" r="0.37" fill="#9a9a9a"/>
<circle cx="445.98" cy="39.46" r="0.58" fill="#9a9a9a"/>
<circle cx="448.74" cy="38.62" r="0.53" fill="#9a9a9a"/>
<circle cx="448.36" cy="38.61" r="0.37" fill="#9a9a9a"/>
<circle cx="449.59" cy="37.94" r="0.49" fill="#9a9a9a"/>
<circle cx="449.21" cy="38.02" r="0.33" fill="#9a9a9a"/>
<circle cx="450.28" cy="38.54" r="0.44" fill="#9a9a9a"/>
<circle cx="450.28" cy="38" r="0.57" fill="#9a9a9a"/>
<circle cx="450.69" cy="37.57" r="0.34" fill="#9a9a9a"/>
<circle cx="451.07" cy="38.64" r="0.54" fill="#9a9a9a"/>
<circle cx="452.08" cy="37.62" r="0.56" fill="#9a9a9a"/>
<circle cx="451.57" cy="37.72" r="0.55" fill="#9a9a9a"/>
<circle cx="452.53" cy="38.02" r="0.5" fill="#9a9a9a"/>
<circle cx="452.99" cy="38.14" r="0.41" fill="#9a9a9a"/>
<circle cx="454.51" cy="37.17" r="0.55" fill="#9a9a9a"/>
<circle cx="454.88" cy="36.97" r="0.53" fill="#9a9a9a"/>
<circle cx="456.13" cy="36.7" r="0.54" fill="#9a9a9a"/>
<circle cx="456.5" cy="37.61" r="0.45" fill="#9a9a9a"/>
<circle cx="457.52" cy="37.29" r="0.34" fill="#9a9a9a"/>
<circle cx="457.49" cy="36.55" r="0.54" fill="#9a9a9a"/>
<circle cx="458.05" cy="36.46" r="0.46" fill="#9a9a9a"/>
<circle cx="458.38" cy="36.24" r="0.46" fill="#9a9a9a"/>
<circle cx="460.08" cy="36.96" r="0.41" fill="#9a9a9a"/>
<circle cx="460.04" cy="36.94" r="0.54" fill="#9a9a9a"/>
<circle cx="460.96" cy="35.72" r="0.4" fill="#9a9a9a"/>
<circle cx="460.49" cy="36.27" r="0.58" fill="#9a9a9a"/>
<circle cx="461.31" cy="36.49" r="0.44" fill="#9a9a9a"/>
<circle cx="461.96" cy="35.57" r="0.44" fill="#9a9a9a"/>
<circle cx="462.57" cy="35.44" r="0.34" fill="#9a9a9a"/>
<circle cx="462.49" cy="35.57" r="0.45" fill="#9a9a9a"/>
<circle cx="463.33" cy="35.94" r="0.48" fill="#9a9a9a"/>
<circle cx="463.25" cy="35.38" r="0.53" fill="#9a9a9a"/>
<circle cx="464.11" cy="35.32" r="0.44" fill="#9a9a9a"/>
<circle cx="463.94" cy="35.05" r="0.44" fill="#9a9a9a"/>
<circle cx="465.44" cy="35.72" r="0.47" fill="#9a9a9a"/>
<circle cx="465.12" cy="35.74" r="0.33" fill="#9a9a9a"/>
<circle cx="466.17" cy="35.21" r="0.35" fill="#9a9a9a"/>
<circle cx="466.35" cy="35.04" r="0.39" fill="#9a9a9a"/>
<circle cx="466.8" cy="35.75" r="0.35" fill="#9a9a9a"/>
<circle cx="467.04" cy="35.47" r="0.48" fill="#9a9a9a"/>
<circle cx="467.48" cy="34.99" r="0.38" fill="#9a9a9a"/>
<circle cx="467.52" cy="35.33" r="0.39" fill="#9a9a9a"/>
<circle cx="470.65" cy="34.98" r="0.44" fill="#9a9a9a"/>
<circle cx="470.28" cy="35.12" r="0.54" fill="#9a9a9a"/>
<circle cx="471.58" cy="35.01" r="0.44" fill="#9a9a9a"/>
<circle cx="471.4" cy="34.77" r="0.53" fill="#9a9a9a"/>
<circle cx="472.62" cy="34.45" r="0.57" fill="#9a9a9a"/>
<circle cx="472.13" cy="34.11" r="0.56" fill="#9a9a9a"/>
<circle cx="473.39" cy="33.79" r="0.43" fill="#9a9a9a"/>
<circle cx="473.2" cy="34.6" r="0.45" fill="#9a9a9a"/>
<circle cx="474.43" cy="33.95" r="0.5" fill="#9a9a9a"/>
<circle cx="474.43" cy="34.55" r="0.38" fill="#9a9a9a"/>
<circle cx="476.48" cy="33.95" r="0.52" fill="#9a9a9a"/>
<circle cx="476.82" cy="33.48" r="0.35" fill="#9a9a9a"/>
<circle cx="477.68" cy="33.89" r="0.5" fill="#9a9a9a"/>
<circle cx="478.07" cy="34.11" r="0.34" fill="#9a9a9a"/>
<circle cx="478.7" cy="33.75" r="0.46" fill="#9a9a9a"/>
<circle cx="478.87" cy="33.73" r="0.44" fill="#9a9a9a"/>
<circle cx="479.14" cy="33.79" r="0.43" fill="#9a9a9a"/>
<circle cx="479.18" cy="33.08" r="0.32" fill="#9a9a9a"/>
<circle cx="480.38" cy="33.12" r="0.47" fill="#9a9a9a"/>
<circle cx="480.36" cy="33.85" r="0.56" fill="#9a9a9a"/>
<circle cx="481.3" cy="33.66" r="0.48" fill="#9a9a9a"/>
<circle cx="481.61" cy="33.09" r="0.52" fill="#9a9a9a"/>
<circle cx="482.55" cy="33.32" r="0.33" fill="#9a9a9a"/>
<circle cx="482.35" cy="33.04" r="0.33" fill="#9a9a9a"/>
<circle cx="483.24" cy="33.28" r="0.46" fill="#9a9a9a"/>
<circle cx="482.93" cy="33.72" r="0.47" fill="#9a9a9a"/>
<circle cx="483.88" cy="33.17" r="0.58" fill="#9a9a9a"/>
<circle cx="483.66" cy="33.64" r="0.33" fill="#9a9a9a"/>
<circle cx="485.03" cy="32.66" r="0.46" fill="#9a9a9a"/>
<circle cx="484.82" cy="33.07" r="0.32" fill="#9a9a9a"/>
<circle cx="486" cy="33.55" r="0.47" fill="#9a9a9a"/>
<circle cx="486.08" cy="32.58" r="0.43" fill="#9a9a9a"/>
<circle cx="486.5" cy="32.52" r="0.41" fill="#9a9a9a"/>
<circle cx="486.26" cy="32.75" r="0.49" fill="#9a9a9a"/>
<circle cx="487.63" cy="32.93" r="0.5" fill="#9a9a9a"/>
<circle cx="487.37" cy="32.55" r="0.52" fill="#9a9a9a"/>
<circle cx="488.76" cy="32.32" r="0.32" fill="#9a9a9a"/>
<circle cx="488.27" cy="33.2" r="0.42" fill="#9a9a9a"/>
<circle cx="490.16" cy="32.87" r="0.56" fill="#9a9a9a"/>
<circle cx="490.21" cy="32.87" r="0.34" fill="#9a9a9a"/>
<circle cx="490.95" cy="32.54" r="0.46" fill="#9a9a9a"/>
<circle cx="491.12" cy="32.2" r="0.46" fill="#9a9a9a"/>
<circle cx="492.21" cy="32.79" r="0.43" fill="#9a9a9a"/>
<circle cx="492.32" cy="32.45" r="0.41" fill="#9a9a9a"/>
<circle cx="493.26" cy="33.04" r="0.46" fill="#9a9a9a"/>
<circle cx="493.02" cy="32.22" r="0.5" fill="#9a9a9a"/>
<circle cx="493.79" cy="32.21" r="0.34" fill="#9a9a9a"/>
<circle cx="493.54" cy="32.15" r="0.49" fill="#9a9a9a"/>
<circle cx="495.81" cy="31.76" r="0.41" fill="#9a9a9a"/>
<circle cx="495.27" cy="32.33" r="0.36" fill="#9a9a9a"/>
<circle cx="496.8" cy="32.41" r="0.57" fill="#9a9a9a"/>
<circle cx="496.62" cy="32.12" r="0.44" fill="#9a9a9a"/>
<path d="M396 54.2 L396.57 54.35 L397.09 54.5 L397.7 54.65 L398.5 54.8 L399.56 54.91 L400.79 54.99 L402.14 55.13 L403.5 55.4 L404.93 55.85 L406.45 56.43 L407.94 57.07 L409.3 57.7 L410.5 58.3 L411.61 58.91 L412.61 59.54 L413.5 60.2 L414.31 60.92 L415.04 61.68 L415.63 62.42 L416 63.1 L416.09 63.68 L415.94 64.2 L415.7 64.69 L415.5 65.2" fill="none" stroke="#111" stroke-width="1.4" stroke-linejoin="round"/>
<path d="M398.8 55.8 L400.03 55.91 L401.25 55.99 L402.49 56.13 L403.8 56.4 L405.23 56.85 L406.75 57.43 L408.24 58.07 L409.6 58.7 L410.8 59.3 L411.91 59.91 L412.91 60.54 L413.8 61.2 L414.61 61.92 L415.34 62.67 L415.93 63.42 L416.3 64.1 L416.39 64.68 L416.24 65.2 L416 65.69 L415.8 66.2" fill="none" stroke="#111" stroke-width="1.3" stroke-linejoin="round" stroke-dasharray="2.4 1.2"/>
<rect x="501.55" y="31.95" width="3.3" height="3.3" fill="#fff" stroke="#666" stroke-width="0.6"/>
<path d="M504.9 33.33L506.5 36.28L503.3 36.28Z" fill="#fff" stroke="#777" stroke-width="0.6"/>
<path d="M485.1 38.6L488 43.93L482.2 43.93Z" fill="#000" stroke="#000" stroke-width="0.3"/>
<circle cx="488" cy="38.2" r="2.6" fill="#000" stroke="#000" stroke-width="0.3"/>
<rect x="497.6" y="29.6" width="5.6" height="5.6" fill="#000" stroke="#000" stroke-width="0.3"/>
<rect x="327.5" y="100.5" width="212.5" height="81" fill="#fff" stroke="#606060" stroke-width="1"/>
<line x1="330.7" y1="105.8" x2="346.4" y2="105.8" stroke="#1a1a1a" stroke-width="1.3"/>
<text x="348.6" y="108.37" font-size="7.55" fill="#1c1c1c" stroke="#1c1c1c" stroke-width="0.1">AL6181-S-01 σtrue-L [MPa]</text>
<line x1="330.7" y1="114.6" x2="346.4" y2="114.6" stroke="#1a1a1a" stroke-width="1.4" stroke-dasharray="4 2.5"/>
<text x="348.6" y="117.17" font-size="7.55" fill="#1c1c1c" stroke="#1c1c1c" stroke-width="0.1">AL6181-S-02 σtrue-L [MPa]</text>
<line x1="330.7" y1="123.4" x2="346.4" y2="123.4" stroke="#1a1a1a" stroke-width="1.3" stroke-dasharray="1.2 0.9"/>
<text x="348.6" y="125.97" font-size="7.55" fill="#1c1c1c" stroke="#1c1c1c" stroke-width="0.1">AL6181-S-03 σtrue-L [MPa]</text>
<circle cx="338.9" cy="132.2" r="1.76" fill="#fff" stroke="#6a6a6a" stroke-width="0.75"/>
<text x="348.6" y="134.77" font-size="7.55" fill="#1c1c1c" stroke="#1c1c1c" stroke-width="0.1">AL6181-S-01 σtrue-Expo (anisotropic) [MPa]</text>
<path d="M338.9 138.86L340.84 142.42L336.96 142.42Z" fill="#fff" stroke="#6a6a6a" stroke-width="0.75"/>
<text x="348.6" y="143.57" font-size="7.55" fill="#1c1c1c" stroke="#1c1c1c" stroke-width="0.1">AL6181-S-02 σtrue-Expo (anisotropic) [MPa]</text>
<rect x="337.14" y="148.04" width="3.52" height="3.52" fill="#fff" stroke="#6a6a6a" stroke-width="0.75"/>
<text x="348.6" y="152.37" font-size="7.55" fill="#1c1c1c" stroke="#1c1c1c" stroke-width="0.1">AL6181-S-03 σtrue-Expo (anisotropic) [MPa]</text>
<circle cx="338.9" cy="158.6" r="1.92" fill="#000" stroke="#000" stroke-width="0.3"/>
<text x="348.6" y="161.17" font-size="7.55" fill="#1c1c1c" stroke="#1c1c1c" stroke-width="0.1">AL6181-S-01 σTrue @ failure (fractured cross section) [MPa]</text>
<path d="M338.9 165.07L341.01 168.95L336.79 168.95Z" fill="#000" stroke="#000" stroke-width="0.3"/>
<text x="348.6" y="169.97" font-size="7.55" fill="#1c1c1c" stroke="#1c1c1c" stroke-width="0.1">AL6181-S-02 σTrue @ failure (fractured cross section) [MPa]</text>
<rect x="336.98" y="174.28" width="3.84" height="3.84" fill="#000" stroke="#000" stroke-width="0.3"/>
<text x="348.6" y="178.77" font-size="7.55" fill="#1c1c1c" stroke="#1c1c1c" stroke-width="0.1">AL6181-S-03 σTrue @ failure (fractured cross section) [MPa]</text>
<line x1="72.33" y1="224.2" x2="72.33" y2="389.2" stroke="#dedede" stroke-width="0.9"/>
<line x1="109.77" y1="224.2" x2="109.77" y2="389.2" stroke="#dedede" stroke-width="0.9"/>
<line x1="147.2" y1="224.2" x2="147.2" y2="389.2" stroke="#dedede" stroke-width="0.9"/>
<line x1="184.63" y1="224.2" x2="184.63" y2="389.2" stroke="#dedede" stroke-width="0.9"/>
<line x1="222.07" y1="224.2" x2="222.07" y2="389.2" stroke="#dedede" stroke-width="0.9"/>
<line x1="259.5" y1="224.2" x2="259.5" y2="389.2" stroke="#dedede" stroke-width="0.9"/>
<line x1="34.9" y1="356.2" x2="259.5" y2="356.2" stroke="#dedede" stroke-width="0.9"/>
<line x1="34.9" y1="323.2" x2="259.5" y2="323.2" stroke="#dedede" stroke-width="0.9"/>
<line x1="34.9" y1="290.2" x2="259.5" y2="290.2" stroke="#dedede" stroke-width="0.9"/>
<line x1="34.9" y1="257.2" x2="259.5" y2="257.2" stroke="#dedede" stroke-width="0.9"/>
<line x1="34.9" y1="224.2" x2="259.5" y2="224.2" stroke="#dedede" stroke-width="0.9"/>
<line x1="34.9" y1="224.2" x2="34.9" y2="389.7" stroke="#808080" stroke-width="1.0"/>
<line x1="34.9" y1="389.2" x2="259.5" y2="389.2" stroke="#595959" stroke-width="1.0"/>
<text x="28.8" y="391.25" font-size="7.5" fill="#1c1c1c" text-anchor="end" stroke="#1c1c1c" stroke-width="0.12">0</text>
<text x="28.8" y="358.25" font-size="7.5" fill="#1c1c1c" text-anchor="end" stroke="#1c1c1c" stroke-width="0.12">500</text>
<text x="28.8" y="325.25" font-size="7.5" fill="#1c1c1c" text-anchor="end" stroke="#1c1c1c" stroke-width="0.12">1000</text>
<text x="28.8" y="292.25" font-size="7.5" fill="#1c1c1c" text-anchor="end" stroke="#1c1c1c" stroke-width="0.12">1500</text>
<text x="28.8" y="259.25" font-size="7.5" fill="#1c1c1c" text-anchor="end" stroke="#1c1c1c" stroke-width="0.12">2000</text>
<text x="28.8" y="226.25" font-size="7.5" fill="#1c1c1c" text-anchor="end" stroke="#1c1c1c" stroke-width="0.12">2500</text>
<text x="34.9" y="400.6" font-size="7.5" fill="#1c1c1c" text-anchor="middle" stroke="#1c1c1c" stroke-width="0.12">0.00</text>
<text x="72.33" y="400.6" font-size="7.5" fill="#1c1c1c" text-anchor="middle" stroke="#1c1c1c" stroke-width="0.12">0.10</text>
<text x="109.77" y="400.6" font-size="7.5" fill="#1c1c1c" text-anchor="middle" stroke="#1c1c1c" stroke-width="0.12">0.20</text>
<text x="147.2" y="400.6" font-size="7.5" fill="#1c1c1c" text-anchor="middle" stroke="#1c1c1c" stroke-width="0.12">0.30</text>
<text x="184.63" y="400.6" font-size="7.5" fill="#1c1c1c" text-anchor="middle" stroke="#1c1c1c" stroke-width="0.12">0.40</text>
<text x="222.07" y="400.6" font-size="7.5" fill="#1c1c1c" text-anchor="middle" stroke="#1c1c1c" stroke-width="0.12">0.50</text>
<text x="259.5" y="400.6" font-size="7.5" fill="#1c1c1c" text-anchor="middle" stroke="#1c1c1c" stroke-width="0.12">0.60</text>
<text x="135.3" y="217.7" font-size="8.85" fill="#000" text-anchor="middle" font-weight="bold" stroke="#000" stroke-width="0.1">PHS1800 - D250</text>
<text x="150.4" y="412.8" font-size="7.55" fill="#000" text-anchor="middle" font-weight="bold" stroke="#000" stroke-width="0.1">Plastic True Strain [ ]</text>
<text transform="translate(9.6 305.9) rotate(-90)" font-size="7.24" fill="#000" text-anchor="middle" font-weight="bold" stroke="#000" stroke-width="0.1">True Stress [MPa]</text>
<text x="39" y="234.4" font-size="8.4" fill="#000" font-weight="bold" stroke="#000" stroke-width="0.22">c)</text>
<line x1="35.6" y1="372" x2="35.6" y2="300" stroke="#0a0a0a" stroke-width="1.5"/>
<rect x="34.95" y="311.35" width="3.3" height="3.3" fill="none" stroke="#333" stroke-width="0.75"/>
<rect x="35.15" y="327.15" width="3.3" height="3.3" fill="none" stroke="#333" stroke-width="0.75"/>
<rect x="35.55" y="339.05" width="3.3" height="3.3" fill="none" stroke="#333" stroke-width="0.75"/>
<rect x="35.85" y="349.55" width="3.3" height="3.3" fill="none" stroke="#333" stroke-width="0.75"/>
<rect x="34.95" y="368.05" width="3.3" height="3.3" fill="none" stroke="#333" stroke-width="0.75"/>
<path d="M36 304.58L37.65 307.61L34.35 307.61Z" fill="none" stroke="#333" stroke-width="0.75"/>
<path d="M36 319.08L37.65 322.11L34.35 322.11Z" fill="none" stroke="#333" stroke-width="0.75"/>
<path d="M36.2 340.18L37.85 343.21L34.55 343.21Z" fill="none" stroke="#333" stroke-width="0.75"/>
<circle cx="36" cy="355" r="1.65" fill="none" stroke="#333" stroke-width="0.75"/>
<circle cx="36" cy="335" r="1.65" fill="none" stroke="#333" stroke-width="0.75"/>
<path d="M36.4 360.18L38.05 363.21L34.75 363.21Z" fill="none" stroke="#333" stroke-width="0.75"/>
<circle cx="36" cy="347" r="1.65" fill="none" stroke="#333" stroke-width="0.75"/>
<path d="M34.6 312 L34.62 304.9 L34.63 297.56 L34.65 290.7 L34.7 285 L34.76 280.78 L34.83 277.62 L34.94 275.16 L35.1 273 L35.32 271.2 L35.59 269.92 L35.91 268.92 L36.3 268 L36.77 267.11 L37.32 266.37 L37.91 265.77 L38.5 265.3 L39.09 265 L39.7 264.87 L40.33 264.82 L41 264.8 L41.71 264.82 L42.47 264.92 L43.24 265 L44 265 L44.75 264.88 L45.5 264.69 L46.25 264.45 L47 264.2 L47.73 263.91 L48.44 263.58 L49.18 263.26 L50 263 L50.93 262.8 L51.94 262.63 L52.98 262.52 L54 262.5 L55.02 262.61 L56.06 262.83 L57.07 263.06 L58 263.2 L58.82 263.23 L59.56 263.21 L60.27 263.13 L61 263 L61.75 262.81 L62.5 262.55 L63.25 262.27 L64 262 L65.5 266.3 L64.39 266.83 L63.28 267.38 L62.16 267.89 L61 268.3 L59.79 268.55 L58.53 268.68 L57.26 268.79 L56 269 L54.75 269.33 L53.5 269.72 L52.25 270.15 L51 270.6 L49.7 271.08 L48.38 271.6 L47.11 272.12 L46 272.6 L45.07 272.98 L44.27 273.29 L43.59 273.65 L43 274.2 L42.53 274.97 L42.17 275.89 L41.88 276.91 L41.6 278 L41.33 279.19 L41.09 280.49 L40.85 281.79 L40.6 283 L40.31 284.08 L40.01 285.09 L39.7 286.06 L39.4 287 L39.11 287.89 L38.82 288.72 L38.54 289.57 L38.3 290.5 L38.09 291.54 L37.91 292.66 L37.75 293.82 L37.6 295 L37.46 296.05 L37.34 297.03 L37.22 298.25 L37.1 300 L36.98 302.51 L36.85 305.56 L36.73 308.84 L36.6 312Z" fill="#161616"/>
<circle cx="36.38" cy="296.9" r="0.48" fill="#8c8c8c"/>
<circle cx="37.41" cy="283.12" r="0.48" fill="#8c8c8c"/>
<circle cx="35.88" cy="293.72" r="0.58" fill="#8c8c8c"/>
<circle cx="36.15" cy="297.12" r="0.51" fill="#8c8c8c"/>
<circle cx="37.05" cy="283.11" r="0.65" fill="#8c8c8c"/>
<circle cx="36.53" cy="282.83" r="0.5" fill="#8c8c8c"/>
<circle cx="36.75" cy="279.46" r="0.47" fill="#8c8c8c"/>
<circle cx="36.26" cy="276.58" r="0.48" fill="#8c8c8c"/>
<circle cx="35.68" cy="289.86" r="0.4" fill="#8c8c8c"/>
<circle cx="37.4" cy="291.36" r="0.79" fill="#8c8c8c"/>
<circle cx="36.51" cy="295.26" r="0.75" fill="#8c8c8c"/>
<circle cx="38.83" cy="276.05" r="0.59" fill="#8c8c8c"/>
<circle cx="38.3" cy="287.64" r="0.41" fill="#8c8c8c"/>
<circle cx="35.9" cy="278.67" r="0.5" fill="#8c8c8c"/>
<circle cx="58.37" cy="266.17" r="0.57" fill="#9a9a9a"/>
<circle cx="58.23" cy="267.65" r="0.67" fill="#9a9a9a"/>
<circle cx="58.59" cy="264.23" r="0.48" fill="#9a9a9a"/>
<circle cx="36.49" cy="283.84" r="0.63" fill="#9a9a9a"/>
<circle cx="36.93" cy="277.34" r="0.48" fill="#9a9a9a"/>
<circle cx="42.34" cy="271.21" r="0.47" fill="#9a9a9a"/>
<circle cx="53.39" cy="266.36" r="0.55" fill="#9a9a9a"/>
<circle cx="61.8" cy="266.82" r="0.39" fill="#9a9a9a"/>
<circle cx="59.12" cy="265.1" r="0.39" fill="#9a9a9a"/>
<circle cx="46.24" cy="268.46" r="0.69" fill="#9a9a9a"/>
<circle cx="45.9" cy="266.59" r="0.65" fill="#9a9a9a"/>
<circle cx="38.61" cy="274.95" r="0.65" fill="#9a9a9a"/>
<circle cx="49.91" cy="266.98" r="0.63" fill="#9a9a9a"/>
<circle cx="36.07" cy="286.92" r="0.49" fill="#9a9a9a"/>
<circle cx="63.08" cy="265.93" r="0.37" fill="#9a9a9a"/>
<circle cx="40.83" cy="270.46" r="0.6" fill="#9a9a9a"/>
<circle cx="44.8" cy="268.44" r="0.67" fill="#9a9a9a"/>
<circle cx="62.2" cy="264.58" r="0.66" fill="#9a9a9a"/>
<circle cx="44.75" cy="267.35" r="0.53" fill="#9a9a9a"/>
<circle cx="54" cy="267.9" r="0.69" fill="#9a9a9a"/>
<circle cx="57.06" cy="267.11" r="0.6" fill="#9a9a9a"/>
<circle cx="55.14" cy="267.31" r="0.69" fill="#9a9a9a"/>
<circle cx="45.96" cy="266.85" r="0.43" fill="#9a9a9a"/>
<circle cx="41.7" cy="269.75" r="0.63" fill="#9a9a9a"/>
<circle cx="37.18" cy="278.95" r="0.63" fill="#9a9a9a"/>
<circle cx="42.9" cy="268.05" r="0.43" fill="#9a9a9a"/>
<circle cx="37.88" cy="280.43" r="0.41" fill="#9a9a9a"/>
<circle cx="40.97" cy="271.85" r="0.63" fill="#9a9a9a"/>
<circle cx="52" cy="268.16" r="0.37" fill="#9a9a9a"/>
<circle cx="62.52" cy="265.15" r="0.46" fill="#9a9a9a"/>
<circle cx="58.62" cy="266.48" r="0.7" fill="#9a9a9a"/>
<circle cx="38.51" cy="276.28" r="0.52" fill="#9a9a9a"/>
<circle cx="53.76" cy="265.32" r="0.36" fill="#9a9a9a"/>
<circle cx="50.74" cy="266.38" r="0.66" fill="#9a9a9a"/>
<circle cx="48.36" cy="267.39" r="0.57" fill="#9a9a9a"/>
<circle cx="50.26" cy="268.92" r="0.63" fill="#9a9a9a"/>
<circle cx="49.41" cy="266.21" r="0.56" fill="#9a9a9a"/>
<circle cx="56.46" cy="267.15" r="0.7" fill="#9a9a9a"/>
<circle cx="41.62" cy="270.03" r="0.5" fill="#9a9a9a"/>
<circle cx="44.42" cy="268.62" r="0.52" fill="#9a9a9a"/>
<circle cx="50.68" cy="266" r="0.4" fill="#9a9a9a"/>
<circle cx="43.95" cy="267.9" r="0.46" fill="#9a9a9a"/>
<circle cx="54.52" cy="266.7" r="0.7" fill="#9a9a9a"/>
<circle cx="51.21" cy="266.96" r="0.57" fill="#9a9a9a"/>
<circle cx="55.85" cy="266.64" r="0.56" fill="#9a9a9a"/>
<circle cx="52.44" cy="265.88" r="0.62" fill="#9a9a9a"/>
<circle cx="52.43" cy="265.7" r="0.44" fill="#9a9a9a"/>
<circle cx="37.5" cy="276.99" r="0.35" fill="#9a9a9a"/>
<circle cx="40.14" cy="269.18" r="0.45" fill="#9a9a9a"/>
<circle cx="45.25" cy="269.18" r="0.62" fill="#9a9a9a"/>
<circle cx="52.99" cy="265.06" r="0.66" fill="#9a9a9a"/>
<circle cx="55.96" cy="266.16" r="0.58" fill="#9a9a9a"/>
<circle cx="49.77" cy="265.92" r="0.57" fill="#9a9a9a"/>
<circle cx="63.17" cy="265.79" r="0.41" fill="#9a9a9a"/>
<circle cx="38.85" cy="278.74" r="0.67" fill="#9a9a9a"/>
<path d="M61.9 265.7 L66.7 266.2 L69.6 267.6 L71.5 270.5 L73.4 273.3 L74.4 274.8 L77.3 275.3 L79.2 276.2 L82 278.1 L84.9 281 L87.8 283.9 L90.7 287.7 L93.1 291.1 L93.6 294" fill="none" stroke="#0d0d0d" stroke-width="1.8" stroke-linejoin="round"/>
<path d="M63 265.5 L66.7 265.7 L68.5 268 L68.6 270.5 L70 271 L73 272.5 L76 274 L79.2 276.7 L83 278.6 L84 282.9 L85.9 285 L88.8 287.7 L91.6 288.7 L94 291" fill="none" stroke="#111" stroke-width="1.5" stroke-linejoin="round" stroke-dasharray="3 1.2"/>
<path d="M71 270.6 L70.2 273.5 L72.3 274.2" fill="none" stroke="#111" stroke-width="1.2" stroke-linejoin="round"/>
<path d="M83.6 282.2 L83.4 285.6 L85.2 285.8" fill="none" stroke="#111" stroke-width="1.2" stroke-linejoin="round"/>
<path d="M62.7 266.2 L67.5 266.7 L70.4 268.1 L72.3 271 L74.2 273.8 L75.2 275.3 L78.1 275.8 L80 276.7 L82.8 278.6 L85.7 281.5 L88.6 284.4 L91.5 288.2 L93.9 291.6 L94.4 294.5" fill="none" stroke="#222" stroke-width="1.0" stroke-linejoin="round" stroke-dasharray="0.9 1.0"/>
<rect x="64.7" y="259.3" width="3.6" height="3.6" fill="#fff" stroke="#4a4a4a" stroke-width="0.75"/>
<rect x="71.3" y="258.6" width="3.6" height="3.6" fill="#fff" stroke="#4a4a4a" stroke-width="0.75"/>
<rect x="74.9" y="257.1" width="3.6" height="3.6" fill="#fff" stroke="#4a4a4a" stroke-width="0.75"/>
<rect x="80.7" y="255.4" width="3.6" height="3.6" fill="#fff" stroke="#4a4a4a" stroke-width="0.75"/>
<rect x="86.6" y="253.9" width="3.6" height="3.6" fill="#fff" stroke="#4a4a4a" stroke-width="0.75"/>
<rect x="95.3" y="253.5" width="3.6" height="3.6" fill="#fff" stroke="#4a4a4a" stroke-width="0.75"/>
<rect x="100.4" y="256.4" width="3.6" height="3.6" fill="#fff" stroke="#4a4a4a" stroke-width="0.75"/>
<rect x="105.5" y="253" width="3.6" height="3.6" fill="#fff" stroke="#4a4a4a" stroke-width="0.75"/>
<rect x="109.1" y="252.3" width="3.6" height="3.6" fill="#fff" stroke="#4a4a4a" stroke-width="0.75"/>
<rect x="115.2" y="250.6" width="3.6" height="3.6" fill="#fff" stroke="#4a4a4a" stroke-width="0.75"/>
<rect x="118.6" y="252.3" width="3.6" height="3.6" fill="#fff" stroke="#4a4a4a" stroke-width="0.75"/>
<rect x="125.4" y="253.2" width="3.6" height="3.6" fill="#fff" stroke="#4a4a4a" stroke-width="0.75"/>
<rect x="132.4" y="254.2" width="3.6" height="3.6" fill="#fff" stroke="#4a4a4a" stroke-width="0.75"/>
<rect x="136.7" y="252.7" width="3.6" height="3.6" fill="#fff" stroke="#4a4a4a" stroke-width="0.75"/>
<rect x="142.4" y="254.2" width="3.6" height="3.6" fill="#fff" stroke="#4a4a4a" stroke-width="0.75"/>
<rect x="148.7" y="251.7" width="3.6" height="3.6" fill="#fff" stroke="#4a4a4a" stroke-width="0.75"/>
<rect x="165.2" y="249.4" width="3.6" height="3.6" fill="#fff" stroke="#4a4a4a" stroke-width="0.75"/>
<rect x="172.4" y="250.7" width="3.6" height="3.6" fill="#fff" stroke="#4a4a4a" stroke-width="0.75"/>
<rect x="186.9" y="249.9" width="3.6" height="3.6" fill="#fff" stroke="#4a4a4a" stroke-width="0.75"/>
<rect x="197.8" y="249.9" width="3.6" height="3.6" fill="#fff" stroke="#4a4a4a" stroke-width="0.75"/>
<rect x="60.7" y="260.2" width="3.6" height="3.6" fill="#fff" stroke="#4a4a4a" stroke-width="0.75"/>
<rect x="68.2" y="260.5" width="3.6" height="3.6" fill="#fff" stroke="#4a4a4a" stroke-width="0.75"/>
<circle cx="66.5" cy="261" r="1.8" fill="#fff" stroke="#4a4a4a" stroke-width="0.75"/>
<circle cx="79.6" cy="261.8" r="1.8" fill="#fff" stroke="#4a4a4a" stroke-width="0.75"/>
<circle cx="97.1" cy="256" r="1.8" fill="#fff" stroke="#4a4a4a" stroke-width="0.75"/>
<circle cx="114.5" cy="258.9" r="1.8" fill="#fff" stroke="#4a4a4a" stroke-width="0.75"/>
<circle cx="121.1" cy="261.5" r="1.8" fill="#fff" stroke="#4a4a4a" stroke-width="0.75"/>
<circle cx="133.5" cy="256.7" r="1.8" fill="#fff" stroke="#4a4a4a" stroke-width="0.75"/>
<circle cx="140.4" cy="254.3" r="1.8" fill="#fff" stroke="#4a4a4a" stroke-width="0.75"/>
<circle cx="149.3" cy="251.7" r="1.8" fill="#fff" stroke="#4a4a4a" stroke-width="0.75"/>
<circle cx="150.5" cy="255" r="1.8" fill="#fff" stroke="#4a4a4a" stroke-width="0.75"/>
<circle cx="163.3" cy="255" r="1.8" fill="#fff" stroke="#4a4a4a" stroke-width="0.75"/>
<circle cx="168.3" cy="256.8" r="1.8" fill="#fff" stroke="#4a4a4a" stroke-width="0.75"/>
<circle cx="170.9" cy="262.4" r="1.8" fill="#fff" stroke="#4a4a4a" stroke-width="0.75"/>
<circle cx="187.4" cy="261.9" r="1.8" fill="#fff" stroke="#4a4a4a" stroke-width="0.75"/>
<circle cx="189.5" cy="266.2" r="1.8" fill="#fff" stroke="#4a4a4a" stroke-width="0.75"/>
<circle cx="121.3" cy="260.6" r="1.8" fill="#fff" stroke="#4a4a4a" stroke-width="0.75"/>
<circle cx="132.7" cy="257.3" r="1.8" fill="#fff" stroke="#4a4a4a" stroke-width="0.75"/>
<circle cx="64" cy="260.5" r="1.8" fill="#fff" stroke="#4a4a4a" stroke-width="0.75"/>
<circle cx="68" cy="262.5" r="1.8" fill="#fff" stroke="#4a4a4a" stroke-width="0.75"/>
<circle cx="71.5" cy="261" r="1.8" fill="#fff" stroke="#4a4a4a" stroke-width="0.75"/>
<path d="M80.4 260.51L82.2 263.82L78.6 263.82Z" fill="#fff" stroke="#4a4a4a" stroke-width="0.75"/>
<path d="M87.6 259.81L89.4 263.12L85.8 263.12Z" fill="#fff" stroke="#4a4a4a" stroke-width="0.75"/>
<path d="M97.1 256.91L98.9 260.22L95.3 260.22Z" fill="#fff" stroke="#4a4a4a" stroke-width="0.75"/>
<path d="M107.3 257.61L109.1 260.92L105.5 260.92Z" fill="#fff" stroke="#4a4a4a" stroke-width="0.75"/>
<path d="M113.8 259.11L115.6 262.42L112 262.42Z" fill="#fff" stroke="#4a4a4a" stroke-width="0.75"/>
<path d="M127.2 256.91L129 260.22L125.4 260.22Z" fill="#fff" stroke="#4a4a4a" stroke-width="0.75"/>
<path d="M126.4 256.81L128.2 260.12L124.6 260.12Z" fill="#fff" stroke="#4a4a4a" stroke-width="0.75"/>
<path d="M137.8 252.81L139.6 256.12L136 256.12Z" fill="#fff" stroke="#4a4a4a" stroke-width="0.75"/>
<path d="M156.4 256.81L158.2 260.12L154.6 260.12Z" fill="#fff" stroke="#4a4a4a" stroke-width="0.75"/>
<path d="M160.7 261.71L162.5 265.02L158.9 265.02Z" fill="#fff" stroke="#4a4a4a" stroke-width="0.75"/>
<path d="M180.3 257.41L182.1 260.72L178.5 260.72Z" fill="#fff" stroke="#4a4a4a" stroke-width="0.75"/>
<path d="M190 254.81L191.8 258.12L188.2 258.12Z" fill="#fff" stroke="#4a4a4a" stroke-width="0.75"/>
<path d="M75 259.51L76.8 262.82L73.2 262.82Z" fill="#fff" stroke="#4a4a4a" stroke-width="0.75"/>
<path d="M84.5 258.51L86.3 261.82L82.7 261.82Z" fill="#fff" stroke="#4a4a4a" stroke-width="0.75"/>
<rect x="201.5" y="252" width="5" height="5" fill="#000" stroke="#000" stroke-width="0.3"/>
<path d="M207 252.6L209.9 257.93L204.1 257.93Z" fill="#000" stroke="#000" stroke-width="0.3"/>
<circle cx="206.6" cy="260.8" r="2.6" fill="#000" stroke="#000" stroke-width="0.3"/>
<circle cx="205.6" cy="257.6" r="2.5" fill="#000" stroke="#000" stroke-width="0.3"/>
<rect x="61.5" y="315" width="198" height="73.5" fill="#fff" stroke="#606060" stroke-width="1"/>
<line x1="63.6" y1="319.8" x2="79.8" y2="319.8" stroke="#1a1a1a" stroke-width="1.3"/>
<text x="82" y="321.99" font-size="6.45" fill="#1c1c1c" stroke="#1c1c1c" stroke-width="0.1">PHS1800-D250-01 σtrue-L [MPa]</text>
<line x1="63.6" y1="328.05" x2="79.8" y2="328.05" stroke="#1a1a1a" stroke-width="1.4" stroke-dasharray="5 4.5"/>
<text x="82" y="330.24" font-size="6.45" fill="#1c1c1c" stroke="#1c1c1c" stroke-width="0.1">PHS1800-D250-02 σtrue-L [MPa]</text>
<line x1="63.6" y1="336.3" x2="79.8" y2="336.3" stroke="#1a1a1a" stroke-width="1.3" stroke-dasharray="1.2 0.9"/>
<text x="82" y="338.49" font-size="6.45" fill="#1c1c1c" stroke="#1c1c1c" stroke-width="0.1">PHS1800-D250-03 σtrue-L [MPa]</text>
<circle cx="72.3" cy="344.55" r="1.65" fill="#fff" stroke="#6a6a6a" stroke-width="0.75"/>
<text x="82" y="346.74" font-size="6.45" fill="#1c1c1c" stroke="#1c1c1c" stroke-width="0.1">PHS1800-D250-01 σtrue-Expo (anisotropic) [MPa]</text>
<path d="M72.3 350.8L74.11 354.14L70.48 354.14Z" fill="#fff" stroke="#6a6a6a" stroke-width="0.75"/>
<text x="82" y="354.99" font-size="6.45" fill="#1c1c1c" stroke="#1c1c1c" stroke-width="0.1">PHS1800-D250-02 σtrue-Expo (anisotropic) [MPa]</text>
<rect x="70.65" y="359.4" width="3.3" height="3.3" fill="#fff" stroke="#6a6a6a" stroke-width="0.75"/>
<text x="82" y="363.24" font-size="6.45" fill="#1c1c1c" stroke="#1c1c1c" stroke-width="0.1">PHS1800-D250-03 σtrue-Expo (anisotropic) [MPa]</text>
<circle cx="72.3" cy="369.3" r="1.8" fill="#000" stroke="#000" stroke-width="0.3"/>
<text x="82" y="371.49" font-size="6.45" fill="#1c1c1c" stroke="#1c1c1c" stroke-width="0.1">PHS1800-D250-01 σTrue @ failure (fractured cross sect.)&#160; [MPa]</text>
<path d="M72.3 375.36L74.28 379.01L70.32 379.01Z" fill="#000" stroke="#000" stroke-width="0.3"/>
<text x="82" y="379.74" font-size="6.45" fill="#1c1c1c" stroke="#1c1c1c" stroke-width="0.1">PHS1800-D250-02 σTrue @ failure (fractured cross section) [MPa]</text>
<rect x="70.5" y="384" width="3.6" height="3.6" fill="#000" stroke="#000" stroke-width="0.3"/>
<text x="82" y="387.99" font-size="6.45" fill="#1c1c1c" stroke="#1c1c1c" stroke-width="0.1">PHS1800-D250-03 σTrue @ failure (fractured cross section) [MPa]</text>
<line x1="351.57" y1="226.2" x2="351.57" y2="388.6" stroke="#dedede" stroke-width="0.9"/>
<line x1="389.33" y1="226.2" x2="389.33" y2="388.6" stroke="#dedede" stroke-width="0.9"/>
<line x1="427.1" y1="226.2" x2="427.1" y2="388.6" stroke="#dedede" stroke-width="0.9"/>
<line x1="464.87" y1="226.2" x2="464.87" y2="388.6" stroke="#dedede" stroke-width="0.9"/>
<line x1="502.63" y1="226.2" x2="502.63" y2="388.6" stroke="#dedede" stroke-width="0.9"/>
<line x1="540.4" y1="226.2" x2="540.4" y2="388.6" stroke="#dedede" stroke-width="0.9"/>
<line x1="313.8" y1="356.12" x2="540.4" y2="356.12" stroke="#dedede" stroke-width="0.9"/>
<line x1="313.8" y1="323.64" x2="540.4" y2="323.64" stroke="#dedede" stroke-width="0.9"/>
<line x1="313.8" y1="291.16" x2="540.4" y2="291.16" stroke="#dedede" stroke-width="0.9"/>
<line x1="313.8" y1="258.68" x2="540.4" y2="258.68" stroke="#dedede" stroke-width="0.9"/>
<line x1="313.8" y1="226.2" x2="540.4" y2="226.2" stroke="#dedede" stroke-width="0.9"/>
<line x1="313.8" y1="226.2" x2="313.8" y2="389.1" stroke="#808080" stroke-width="1.0"/>
<line x1="313.8" y1="388.6" x2="540.4" y2="388.6" stroke="#595959" stroke-width="1.0"/>
<text x="306.8" y="390.67" font-size="7.55" fill="#1c1c1c" text-anchor="end" stroke="#1c1c1c" stroke-width="0.12">0</text>
<text x="306.8" y="358.19" font-size="7.55" fill="#1c1c1c" text-anchor="end" stroke="#1c1c1c" stroke-width="0.12">100</text>
<text x="306.8" y="325.71" font-size="7.55" fill="#1c1c1c" text-anchor="end" stroke="#1c1c1c" stroke-width="0.12">200</text>
<text x="306.8" y="293.23" font-size="7.55" fill="#1c1c1c" text-anchor="end" stroke="#1c1c1c" stroke-width="0.12">300</text>
<text x="306.8" y="260.75" font-size="7.55" fill="#1c1c1c" text-anchor="end" stroke="#1c1c1c" stroke-width="0.12">400</text>
<text x="306.8" y="228.27" font-size="7.55" fill="#1c1c1c" text-anchor="end" stroke="#1c1c1c" stroke-width="0.12">500</text>
<text x="313.8" y="400" font-size="7.55" fill="#1c1c1c" text-anchor="middle" stroke="#1c1c1c" stroke-width="0.12">0.00</text>
<text x="351.57" y="400" font-size="7.55" fill="#1c1c1c" text-anchor="middle" stroke="#1c1c1c" stroke-width="0.12">0.10</text>
<text x="389.33" y="400" font-size="7.55" fill="#1c1c1c" text-anchor="middle" stroke="#1c1c1c" stroke-width="0.12">0.20</text>
<text x="427.1" y="400" font-size="7.55" fill="#1c1c1c" text-anchor="middle" stroke="#1c1c1c" stroke-width="0.12">0.30</text>
<text x="464.87" y="400" font-size="7.55" fill="#1c1c1c" text-anchor="middle" stroke="#1c1c1c" stroke-width="0.12">0.40</text>
<text x="502.63" y="400" font-size="7.55" fill="#1c1c1c" text-anchor="middle" stroke="#1c1c1c" stroke-width="0.12">0.50</text>
<text x="540.4" y="400" font-size="7.55" fill="#1c1c1c" text-anchor="middle" stroke="#1c1c1c" stroke-width="0.12">0.60</text>
<text x="427.3" y="220.5" font-size="9.05" fill="#000" text-anchor="middle" font-weight="bold" stroke="#000" stroke-width="0.1">AL6181 - D10</text>
<text x="428.9" y="411.9" font-size="7.7" fill="#000" text-anchor="middle" font-weight="bold" stroke="#000" stroke-width="0.1">Plastic True Strain [ ]</text>
<text transform="translate(288.3 311) rotate(-90)" font-size="7.45" fill="#000" text-anchor="middle" font-weight="bold" stroke="#000" stroke-width="0.1">True Stress [MPa]</text>
<text x="316" y="236.1" font-size="8.5" fill="#000" font-weight="bold" stroke="#000" stroke-width="0.22">d)</text>
<rect x="311.8" y="382.5" width="4.4" height="6.3" fill="#0a0a0a"/>
<line x1="313.9" y1="388.6" x2="313.9" y2="300" stroke="#222" stroke-width="1.2"/>
<rect x="312.15" y="379.2" width="3.6" height="3.6" fill="none" stroke="#262626" stroke-width="0.75"/>
<rect x="312.15" y="375.9" width="3.6" height="3.6" fill="none" stroke="#262626" stroke-width="0.75"/>
<rect x="312.15" y="372.6" width="3.6" height="3.6" fill="none" stroke="#262626" stroke-width="0.75"/>
<rect x="312.15" y="369.3" width="3.6" height="3.6" fill="none" stroke="#262626" stroke-width="0.75"/>
<rect x="312.15" y="366" width="3.6" height="3.6" fill="none" stroke="#262626" stroke-width="0.75"/>
<rect x="312.15" y="362.7" width="3.6" height="3.6" fill="none" stroke="#262626" stroke-width="0.75"/>
<rect x="312.15" y="359.4" width="3.6" height="3.6" fill="none" stroke="#262626" stroke-width="0.75"/>
<rect x="312.15" y="356.1" width="3.6" height="3.6" fill="none" stroke="#262626" stroke-width="0.75"/>
<rect x="312.15" y="352.8" width="3.6" height="3.6" fill="none" stroke="#262626" stroke-width="0.75"/>
<rect x="312.15" y="349.5" width="3.6" height="3.6" fill="none" stroke="#262626" stroke-width="0.75"/>
<circle cx="313.95" cy="348" r="1.8" fill="none" stroke="#262626" stroke-width="0.75"/>
<circle cx="313.95" cy="344.7" r="1.8" fill="none" stroke="#262626" stroke-width="0.75"/>
<circle cx="313.95" cy="341.4" r="1.8" fill="none" stroke="#262626" stroke-width="0.75"/>
<circle cx="313.95" cy="338.1" r="1.8" fill="none" stroke="#262626" stroke-width="0.75"/>
<circle cx="313.95" cy="334.8" r="1.8" fill="none" stroke="#262626" stroke-width="0.75"/>
<circle cx="313.95" cy="331.5" r="1.8" fill="none" stroke="#262626" stroke-width="0.75"/>
<circle cx="313.95" cy="328.2" r="1.8" fill="none" stroke="#262626" stroke-width="0.75"/>
<circle cx="313.95" cy="324.9" r="1.8" fill="none" stroke="#262626" stroke-width="0.75"/>
<circle cx="313.95" cy="321.6" r="1.8" fill="none" stroke="#262626" stroke-width="0.75"/>
<circle cx="313.95" cy="318.3" r="1.8" fill="none" stroke="#262626" stroke-width="0.75"/>
<circle cx="313.95" cy="315" r="1.8" fill="none" stroke="#262626" stroke-width="0.75"/>
<circle cx="313.95" cy="311.7" r="1.8" fill="none" stroke="#262626" stroke-width="0.75"/>
<circle cx="313.95" cy="308.4" r="1.8" fill="none" stroke="#262626" stroke-width="0.75"/>
<circle cx="313.95" cy="305.1" r="1.8" fill="none" stroke="#262626" stroke-width="0.75"/>
<circle cx="315.6" cy="320" r="1.7" fill="none" stroke="#262626" stroke-width="0.7"/>
<circle cx="315.6" cy="317" r="1.7" fill="none" stroke="#262626" stroke-width="0.7"/>
<circle cx="315.6" cy="314" r="1.7" fill="none" stroke="#262626" stroke-width="0.7"/>
<circle cx="315.6" cy="311" r="1.7" fill="none" stroke="#262626" stroke-width="0.7"/>
<circle cx="315.6" cy="308" r="1.7" fill="none" stroke="#262626" stroke-width="0.7"/>
<circle cx="315.6" cy="305" r="1.7" fill="none" stroke="#262626" stroke-width="0.7"/>
<path d="M316.77 311.26 L316.81 311.15 L316.85 311.03 L316.89 310.9 L316.93 310.78 L316.97 310.64 L317.01 310.51 L317.05 310.37 L317.09 310.24 L317.13 310.11 L317.16 309.97 L317.2 309.84 L317.24 309.71 L317.27 309.58 L317.31 309.45 L317.34 309.32 L317.37 309.19 L317.41 309.06 L317.44 308.93 L317.47 308.8 L317.51 308.67 L317.54 308.54 L317.57 308.41 L317.6 308.28 L317.64 308.15 L317.66 308.03 L317.69 307.9 L317.71 307.77 L317.74 307.64 L317.77 307.52 L317.79 307.39 L317.82 307.27 L317.85 307.14 L317.87 307.01 L317.9 306.89 L317.93 306.77 L317.96 306.65 L317.98 306.53 L318.01 306.4 L318.04 306.28 L318.07 306.16 L318.1 306.05 L318.13 305.93 L318.16 305.81 L318.19 305.69 L318.22 305.57 L318.26 305.46 L318.29 305.35 L318.32 305.24 L318.36 305.13 L318.4 305.01 L318.43 304.9 L318.47 304.8 L318.51 304.7 L318.55 304.6 L318.59 304.5 L318.63 304.39 L318.67 304.3 L318.71 304.2 L318.75 304.12 L318.79 304.03 L318.83 303.94 L318.88 303.86 L318.92 303.77 L318.96 303.7 L319 303.62 L319.05 303.56 L319.09 303.48 L319.12 303.41 L319.16 303.34 L319.2 303.27 L319.24 303.21 L319.28 303.14 L319.33 303.08 L319.37 303.01 L319.41 302.95 L319.45 302.89 L319.5 302.83 L319.55 302.77 L319.59 302.71 L319.64 302.66 L319.68 302.6 L319.73 302.55 L319.78 302.49 L319.83 302.44 L319.88 302.39 L319.93 302.34 L319.99 302.29 L320.04 302.24 L320.09 302.19 L320.15 302.15 L320.2 302.1 L320.25 302.05 L320.31 302 L320.36 301.96 L320.42 301.91 L320.47 301.87 L320.53 301.83 L320.59 301.79 L320.65 301.75 L320.71 301.71 L320.77 301.67 L320.83 301.63 L320.89 301.59 L320.95 301.56 L321.02 301.52 L321.09 301.49 L321.16 301.45 L321.23 301.41 L321.3 301.38 L321.37 301.35 L321.45 301.31 L321.54 301.27 L321.64 301.23 L321.74 301.18 L321.83 301.15 L321.92 301.11 L322.02 301.07 L322.14 301.02 L322.26 300.97 L322.39 300.92 L322.5 300.87 L322.61 300.83 L322.74 300.78 L322.87 300.72 L323.02 300.66 L323.16 300.6 L323.3 300.54 L323.44 300.48 L323.57 300.41 L323.72 300.35 L323.86 300.28 L324.01 300.21 L324.15 300.14 L324.29 300.06 L324.43 299.99 L324.57 299.92 L324.71 299.84 L324.84 299.77 L324.98 299.69 L325.12 299.61 L325.25 299.53 L325.38 299.45 L325.52 299.38 L325.65 299.29 L325.78 299.21 L325.91 299.13 L326.04 299.05 L326.16 298.96 L326.29 298.88 L326.41 298.79 L326.54 298.71 L326.66 298.62 L326.79 298.53 L326.91 298.45 L327.03 298.36 L327.15 298.27 L327.27 298.18 L327.39 298.09 L327.51 298 L327.63 297.91 L327.74 297.82 L327.86 297.73 L327.97 297.63 L328.09 297.54 L328.2 297.45 L328.31 297.35 L328.42 297.26 L328.53 297.16 L328.64 297.07 L328.75 296.97 L328.86 296.87 L328.97 296.78 L329.07 296.68 L329.18 296.58 L329.29 296.49 L329.39 296.39 L329.5 296.29 L329.6 296.19 L329.7 296.09 L329.8 295.99 L329.9 295.9 L330.01 295.8 L330.11 295.7 L330.21 295.6 L330.31 295.5 L330.4 295.4 L330.5 295.3 L330.6 295.2 L330.7 295.1 L330.79 295 L330.89 294.9 L330.99 294.8 L331.08 294.69 L331.18 294.59 L331.27 294.49 L331.36 294.39 L331.46 294.29 L331.55 294.19 L331.64 294.09 L331.74 293.99 L331.83 293.89 L331.92 293.79 L332.01 293.69 L332.1 293.59 L332.19 293.49 L332.28 293.39 L332.37 293.29 L332.46 293.19 L332.55 293.09 L332.63 292.99 L332.72 292.89 L332.81 292.78 L332.9 292.68 L332.98 292.58 L333.07 292.49 L333.15 292.39 L333.24 292.29 L333.33 292.19 L333.41 292.09 L333.5 291.99 L333.58 291.89 L333.67 291.79 L333.75 291.69 L333.83 291.59 L333.92 291.5 L334 291.4 L334.09 291.3 L334.17 291.21 L334.25 291.11 L334.34 291.01 L334.42 290.92 L334.5 290.82 L334.58 290.73 L334.67 290.63 L334.75 290.54 L334.83 290.44 L334.91 290.35 L334.99 290.25 L335.08 290.16 L335.16 290.07 L335.24 289.98 L335.32 289.88 L335.4 289.79 L335.49 289.7 L335.57 289.61 L335.65 289.52 L335.73 289.43 L335.81 289.34 L335.89 289.25 L335.97 289.16 L336.05 289.08 L336.14 288.99 L336.22 288.9 L336.3 288.81 L336.38 288.73 L336.46 288.64 L336.54 288.56 L336.62 288.48 L336.71 288.39 L336.79 288.31 L336.87 288.22 L336.95 288.14 L337.03 288.06 L337.11 287.98 L337.19 287.9 L337.28 287.82 L337.36 287.74 L337.44 287.66 L337.52 287.58 L337.6 287.51 L337.69 287.43 L337.77 287.35 L337.85 287.27 L337.94 287.2 L338.02 287.12 L338.11 287.04 L338.19 286.97 L338.27 286.89 L338.36 286.81 L338.45 286.74 L338.53 286.66 L338.62 286.59 L338.71 286.51 L338.8 286.44 L338.88 286.36 L338.97 286.29 L339.06 286.22 L339.15 286.14 L339.24 286.07 L339.33 285.99 L339.42 285.92 L339.51 285.85 L339.61 285.77 L339.7 285.7 L339.79 285.63 L339.88 285.56 L339.97 285.49 L340.07 285.41 L340.16 285.34 L340.26 285.27 L340.35 285.2 L340.45 285.13 L340.54 285.06 L340.64 284.98 L340.73 284.91 L340.83 284.84 L340.92 284.77 L341.02 284.7 L341.12 284.63 L341.22 284.56 L341.31 284.49 L341.41 284.42 L341.51 284.35 L341.61 284.28 L341.71 284.21 L341.81 284.14 L341.91 284.07 L342.01 284 L342.11 283.93 L342.21 283.87 L342.31 283.8 L342.41 283.73 L342.51 283.66 L342.61 283.59 L342.72 283.52 L342.82 283.45 L342.92 283.39 L343.02 283.32 L343.13 283.25 L343.23 283.18 L343.33 283.11 L343.44 283.04 L343.54 282.98 L343.65 282.91 L343.75 282.84 L343.86 282.77 L343.96 282.71 L344.07 282.64 L344.17 282.57 L344.28 282.5 L344.38 282.43 L344.49 282.37 L344.59 282.3 L344.7 282.23 L344.81 282.16 L344.91 282.1 L345.02 282.03 L345.13 281.96 L345.24 281.89 L345.34 281.83 L345.45 281.76 L345.56 281.69 L345.67 281.62 L345.78 281.56 L345.88 281.49 L345.99 281.42 L346.1 281.35 L346.21 281.29 L346.32 281.22 L346.43 281.15 L346.54 281.08 L346.65 281.01 L346.76 280.95 L346.87 280.88 L346.97 280.81 L347.08 280.74 L347.19 280.67 L347.3 280.6 L347.41 280.53 L347.52 280.46 L347.62 280.4 L347.73 280.33 L347.84 280.26 L347.95 280.19 L348.06 280.12 L348.16 280.06 L348.27 279.99 L348.38 279.92 L348.48 279.85 L348.59 279.79 L348.7 279.72 L348.8 279.65 L348.91 279.59 L349.02 279.52 L349.12 279.45 L349.23 279.39 L349.34 279.32 L349.44 279.25 L349.55 279.19 L349.65 279.12 L349.76 279.06 L349.87 278.99 L349.97 278.93 L350.08 278.87 L350.18 278.8 L350.29 278.74 L350.39 278.67 L350.5 278.61 L350.6 278.55 L350.71 278.48 L350.82 278.42 L350.92 278.36 L351.03 278.3 L351.13 278.24 L351.24 278.17 L351.34 278.11 L351.45 278.05 L351.55 277.99 L351.66 277.93 L351.76 277.87 L351.87 277.81 L351.97 277.75 L352.08 277.69 L352.18 277.63 L352.29 277.57 L352.39 277.51 L352.5 277.45 L352.61 277.39 L352.71 277.33 L352.82 277.27 L352.93 277.21 L353.03 277.15 L353.14 277.1 L353.25 277.04 L353.35 276.98 L353.46 276.92 L353.57 276.86 L353.68 276.81 L353.79 276.75 L353.89 276.69 L354 276.63 L354.11 276.58 L354.22 276.52 L354.33 276.46 L354.44 276.41 L354.55 276.35 L354.66 276.3 L354.76 276.24 L354.87 276.18 L354.98 276.13 L355.09 276.07 L355.2 276.02 L355.31 275.96 L355.42 275.91 L355.53 275.85 L355.64 275.8 L355.76 275.74 L355.87 275.69 L355.98 275.64 L356.09 275.58 L356.2 275.53 L356.31 275.47 L356.42 275.42 L356.53 275.37 L356.65 275.31 L356.76 275.26 L356.87 275.21 L356.98 275.16 L357.09 275.1 L357.21 275.05 L357.32 275 L357.43 274.95 L357.55 274.89 L357.66 274.84 L357.77 274.79 L357.88 274.74 L358 274.69 L358.11 274.64 L358.23 274.59 L358.34 274.53 L358.45 274.48 L358.57 274.43 L358.68 274.38 L358.8 274.33 L358.91 274.28 L359.02 274.23 L359.14 274.18 L359.25 274.13 L359.37 274.08 L359.48 274.03 L359.6 273.98 L359.71 273.93 L359.83 273.88 L359.94 273.83 L360.06 273.78 L360.17 273.73 L360.29 273.69 L360.41 273.64 L360.52 273.59 L360.64 273.54 L360.75 273.49 L360.87 273.44 L360.99 273.39 L361.1 273.35 L361.22 273.3 L361.34 273.25 L361.45 273.21 L361.57 273.16 L361.69 273.11 L361.81 273.07 L361.92 273.02 L362.04 272.97 L362.16 272.93 L362.28 272.88 L362.39 272.83 L362.51 272.79 L362.63 272.74 L362.75 272.7 L362.87 272.65 L362.98 272.61 L363.1 272.56 L363.22 272.51 L363.34 272.47 L363.46 272.42 L363.58 272.38 L363.69 272.33 L363.81 272.29 L363.93 272.24 L364.05 272.2 L364.17 272.15 L364.29 272.11 L364.41 272.07 L364.53 272.02 L364.65 271.98 L364.76 271.93 L364.88 271.89 L365 271.84 L365.12 271.8 L365.24 271.76 L365.36 271.71 L365.48 271.67 L365.6 271.62 L365.72 271.58 L365.84 271.54 L365.96 271.49 L366.08 271.45 L366.2 271.4 L366.32 271.36 L366.44 271.32 L366.56 271.27 L366.68 271.23 L366.8 271.19 L366.92 271.14 L367.04 271.1 L367.16 271.06 L367.28 271.01 L367.4 270.97 L367.52 270.93 L367.64 270.88 L367.76 270.84 L367.88 270.8 L368 270.76 L368.12 270.71 L368.24 270.67 L368.36 270.63 L368.48 270.59 L368.6 270.54 L368.72 270.5 L368.84 270.46 L368.97 270.42 L369.09 270.37 L369.21 270.33 L369.33 270.29 L369.45 270.25 L369.57 270.2 L369.69 270.16 L369.81 270.12 L369.93 270.08 L370.05 270.04 L370.17 269.99 L370.29 269.95 L370.41 269.91 L370.53 269.87 L370.65 269.83 L370.78 269.79 L370.9 269.74 L371.02 269.7 L371.14 269.66 L371.26 269.62 L371.38 269.58 L371.5 269.54 L371.62 269.5 L371.74 269.45 L371.86 269.41 L371.98 269.37 L372.11 269.33 L372.23 269.29 L372.35 269.25 L372.47 269.21 L372.59 269.17 L372.71 269.13 L372.83 269.09 L372.95 269.04 L373.08 269 L373.2 268.96 L373.32 268.92 L373.44 268.88 L373.56 268.84 L373.68 268.8 L373.8 268.76 L373.92 268.72 L374.05 268.68 L374.17 268.64 L374.29 268.6 L374.41 268.56 L374.53 268.52 L374.65 268.48 L374.77 268.44 L374.9 268.4 L375.02 268.36 L375.14 268.32 L375.26 268.28 L375.38 268.24 L375.5 268.2 L375.63 268.16 L375.75 268.12 L375.87 268.08 L375.99 268.04 L376.11 268 L376.24 267.96 L376.36 267.92 L376.48 267.88 L376.6 267.84 L376.72 267.8 L376.85 267.76 L376.97 267.72 L377.09 267.69 L377.21 267.65 L377.33 267.61 L377.46 267.57 L377.58 267.53 L377.7 267.49 L377.82 267.45 L377.95 267.41 L378.07 267.38 L378.19 267.34 L378.31 267.3 L378.44 267.26 L378.56 267.22 L378.68 267.18 L378.8 267.14 L378.92 267.11 L379.05 267.07 L379.17 267.03 L379.29 266.99 L379.41 266.95 L379.54 266.91 L379.66 266.88 L379.78 266.84 L379.9 266.8 L380.03 266.76 L380.15 266.72 L380.27 266.68 L380.39 266.65 L380.52 266.61 L380.64 266.57 L380.76 266.53 L380.89 266.49 L381.01 266.45 L381.13 266.42 L381.25 266.38 L381.38 266.34 L381.5 266.3 L381.62 266.26 L381.74 266.23 L381.87 266.19 L381.99 266.15 L382.11 266.11 L382.24 266.07 L382.36 266.03 L382.48 266 L382.6 265.96 L382.73 265.92 L382.85 265.88 L382.97 265.84 L383.1 265.81 L383.22 265.77 L383.34 265.73 L383.46 265.69 L383.59 265.65 L383.71 265.62 L383.83 265.58 L383.96 265.54 L384.08 265.5 L384.2 265.46 L384.32 265.43 L384.45 265.39 L384.57 265.35 L384.69 265.31 L384.82 265.27 L384.94 265.24 L385.06 265.2 L385.19 265.16 L385.31 265.12 L385.43 265.08 L385.56 265.04 L385.68 265.01 L385.8 264.97 L385.93 264.93 L386.05 264.89 L386.17 264.85 L386.29 264.82 L386.42 264.78 L386.54 264.74 L386.66 264.7 L386.79 264.66 L386.91 264.63 L387.03 264.59 L387.16 264.55 L387.28 264.51 L387.4 264.47 L387.53 264.44 L387.65 264.4 L387.77 264.36 L387.9 264.32 L388.02 264.28 L388.14 264.25 L388.26 264.21 L388.39 264.17 L388.51 264.13 L388.63 264.09 L388.76 264.06 L388.88 264.02 L389 263.98 L389.13 263.94 L389.25 263.9 L389.37 263.87 L389.5 263.83 L389.62 263.79 L389.74 263.75 L389.86 263.72 L389.99 263.68 L390.11 263.64 L390.23 263.6 L390.36 263.56 L390.48 263.53 L390.6 263.49 L390.73 263.45 L390.85 263.41 L390.97 263.37 L391.1 263.34 L391.22 263.3 L391.34 263.26 L391.46 263.22 L391.59 263.19 L391.71 263.15 L391.83 263.11 L391.96 263.07 L392.08 263.04 L392.2 263 L392.33 262.96 L392.45 262.92 L392.57 262.88 L392.7 262.85 L392.82 262.81 L392.94 262.77 L393.06 262.73 L393.19 262.7 L393.31 262.66 L393.43 262.62 L393.56 262.58 L393.68 262.55 L393.8 262.51 L393.93 262.47 L394.05 262.43 L394.17 262.4 L394.3 262.36 L394.42 262.32 L394.54 262.29 L394.66 262.25 L394.79 262.21 L394.91 262.17 L395.03 262.14 L395.16 262.1 L395.28 262.06 L395.4 262.03 L395.53 261.99 L395.65 261.95 L395.77 261.91 L395.9 261.88 L396.02 261.84 L396.14 261.81 L396.27 261.77 L396.39 261.73 L396.51 261.7 L396.64 261.66 L396.76 261.63 L396.88 261.59 L397.01 261.55 L397.13 261.52 L397.25 261.48 L397.38 261.45 L397.5 261.41 L397.62 261.38 L397.75 261.34 L397.87 261.3 L397.99 261.27 L398.12 261.23 L398.24 261.2 L398.36 261.16 L398.49 261.13 L398.61 261.09 L398.73 261.06 L398.86 261.02 L398.98 260.98 L399.1 260.95 L399.23 260.91 L399.35 260.88 L399.48 260.84 L399.6 260.81 L399.72 260.77 L399.85 260.74 L399.97 260.7 L400.09 260.67 L400.22 260.63 L400.34 260.6 L400.46 260.56 L400.59 260.53 L400.71 260.49 L400.83 260.46 L400.96 260.42 L401.08 260.39 L401.2 260.35 L401.33 260.32 L401.45 260.28 L401.57 260.25 L401.7 260.21 L401.82 260.18 L401.94 260.14 L402.07 260.11 L402.19 260.08 L402.32 260.04 L402.44 260.01 L402.56 259.97 L402.69 259.94 L402.81 259.9 L402.93 259.87 L403.06 259.83 L403.18 259.8 L403.3 259.77 L403.43 259.73 L403.55 259.7 L403.67 259.66 L403.8 259.63 L403.92 259.6 L404.05 259.56 L404.17 259.53 L404.29 259.49 L404.42 259.46 L404.54 259.43 L404.66 259.39 L404.79 259.36 L404.91 259.33 L405.03 259.29 L405.16 259.26 L405.28 259.22 L405.41 259.19 L405.53 259.16 L405.65 259.12 L405.78 259.09 L405.9 259.06 L406.02 259.02 L406.15 258.99 L406.27 258.96 L406.39 258.92 L406.52 258.89 L406.64 258.86 L406.77 258.83 L406.89 258.79 L407.01 258.76 L407.14 258.73 L407.26 258.69 L407.38 258.66 L407.51 258.63 L407.63 258.6 L407.76 258.56 L407.88 258.53 L408 258.5 L408.13 258.47 L408.25 258.43 L408.37 258.4 L408.5 258.37 L408.62 258.34 L408.75 258.3 L408.87 258.27 L408.99 258.24 L409.12 258.21 L409.24 258.18 L409.37 258.14 L409.49 258.11 L409.61 258.08 L409.74 258.05 L409.86 258.02 L409.98 257.98 L410.11 257.95 L410.23 257.92 L410.36 257.89 L410.48 257.86 L410.6 257.83 L410.73 257.8 L410.85 257.76 L410.98 257.73 L411.1 257.7 L411.22 257.67 L411.35 257.64 L411.47 257.61 L411.6 257.58 L411.72 257.55 L411.84 257.52 L411.97 257.49 L412.09 257.45 L412.22 257.42 L412.34 257.39 L412.46 257.36 L412.59 257.33 L412.71 257.3 L412.84 257.27 L412.96 257.24 L413.08 257.21 L413.21 257.18 L413.33 257.15 L413.46 257.12 L413.58 257.09 L413.71 257.06 L413.83 257.03 L413.95 257 L414.08 256.97 L414.2 256.94 L414.33 256.91 L414.45 256.88 L414.57 256.85 L414.7 256.82 L414.82 256.79 L414.95 256.76 L415.07 256.74 L415.2 256.71 L415.32 256.68 L415.44 256.65 L415.57 256.62 L415.69 256.59 L415.82 256.56 L415.94 256.53 L416.07 256.5 L416.19 256.48 L416.31 256.45 L416.44 256.42 L416.56 256.39 L416.69 256.36 L416.81 256.33 L416.94 256.31 L417.06 256.28 L417.19 256.25 L417.31 256.22 L417.43 256.19 L417.56 256.16 L417.68 256.14 L417.81 256.11 L417.93 256.08 L418.06 256.05 L418.18 256.03 L418.31 256 L418.43 255.97 L418.55 255.94 L418.68 255.92 L418.8 255.89 L418.93 255.86 L419.05 255.84 L419.18 255.81 L419.3 255.78 L419.43 255.76 L419.55 255.73 L419.68 255.7 L419.8 255.68 L419.92 255.65 L420.05 255.62 L420.17 255.6 L420.3 255.57 L420.42 255.54 L420.55 255.52 L420.67 255.49 L420.8 255.46 L420.92 255.44 L421.05 255.41 L421.17 255.39 L421.3 255.36 L421.42 255.34 L421.55 255.31 L421.67 255.28 L421.8 255.26 L421.92 255.23 L422.05 255.21 L422.17 255.18 L422.3 255.16 L422.42 255.13 L422.55 255.11 L422.67 255.08 L422.8 255.06 L422.92 255.03 L423.05 255.01 L423.17 254.98 L423.3 254.96 L423.42 254.93 L423.55 254.91 L423.67 254.89 L423.8 254.86 L423.92 254.84 L424.05 254.81 L424.17 254.79 L424.3 254.76 L424.42 254.74 L424.55 254.72 L424.67 254.69 L424.8 254.67 L424.92 254.65 L425.05 254.62 L425.17 254.6 L425.3 254.58 L425.42 254.55 L425.55 254.53 L425.68 254.51 L425.8 254.48 L425.93 254.46 L426.05 254.44 L426.18 254.41 L426.3 254.39 L426.43 254.37 L426.55 254.35 L426.68 254.32 L426.8 254.3 L426.93 254.28 L427.06 254.26 L427.18 254.23 L427.31 254.21 L427.43 254.19 L427.56 254.17 L427.68 254.15 L427.81 254.12 L427.93 254.1 L428.06 254.08 L428.19 254.06 L428.31 254.04 L428.44 254.02 L428.56 253.99 L428.69 253.97 L428.81 253.95 L428.94 253.93 L429.07 253.91 L429.19 253.89 L429.32 253.87 L429.44 253.85 L429.57 253.82 L429.7 253.8 L429.82 253.78 L429.95 253.76 L430.07 253.74 L430.2 253.72 L430.32 253.7 L430.45 253.68 L430.58 253.66 L430.7 253.64 L430.83 253.62 L430.95 253.6 L431.08 253.58 L431.21 253.56 L431.33 253.54 L431.46 253.52 L431.58 253.5 L431.71 253.48 L431.84 253.46 L431.96 253.44 L432.09 253.42 L432.21 253.4 L432.34 253.39 L432.47 253.37 L432.59 253.35 L432.72 253.33 L432.85 253.31 L432.97 253.29 L433.1 253.27 L433.22 253.25 L433.35 253.23 L433.48 253.22 L433.6 253.2 L433.73 253.18 L433.86 253.16 L433.98 253.14 L434.11 253.12 L434.23 253.11 L434.36 253.09 L434.49 253.07 L434.61 253.05 L434.74 253.03 L434.87 253.02 L434.99 253 L435.12 252.98 L435.24 252.96 L435.37 252.95 L435.5 252.93 L435.62 252.91 L435.75 252.89 L435.88 252.88 L436 252.86 L436.13 252.84 L436.26 252.83 L436.38 252.81 L436.51 252.79 L436.64 252.78 L436.76 252.76 L436.89 252.74 L437.02 252.73 L437.14 252.71 L437.27 252.69 L437.4 252.68 L437.52 252.66 L437.65 252.65 L437.77 252.63 L437.9 252.61 L438.03 252.6 L438.15 252.58 L438.28 252.57 L438.41 252.55 L438.53 252.53 L438.66 252.52 L438.79 252.5 L438.91 252.49 L439.04 252.47 L439.17 252.46 L439.29 252.44 L439.42 252.43 L439.55 252.41 L439.67 252.4 L439.8 252.38 L439.93 252.37 L440.06 252.35 L440.18 252.34 L440.31 252.32 L440.43 252.3 L440.56 252.29 L440.69 252.27 L440.81 252.25 L440.94 252.23 L441.07 252.22 L441.19 252.2 L441.32 252.18 L441.45 252.16 L441.57 252.15 L441.7 252.13 L441.83 252.11 L441.95 252.09 L442.08 252.08 L442.21 252.06 L442.33 252.04 L442.46 252.03 L442.59 252.01 L442.71 251.99 L442.84 251.98 L442.97 251.96 L443.09 251.94 L443.22 251.93 L443.35 251.91 L443.47 251.89 L443.6 251.88 L443.73 251.86 L443.85 251.84 L443.98 251.83 L444.11 251.81 L444.23 251.8 L444.36 251.78 L444.49 251.77 L444.61 251.75 L444.74 251.73 L444.87 251.72 L444.99 251.7 L445.12 251.69 L445.25 251.67 L445.37 251.66 L445.5 251.64 L445.63 251.63 L445.75 251.61 L445.88 251.6 L446.01 251.58 L446.13 251.57 L446.26 251.55 L446.39 251.54 L446.52 251.52 L446.64 251.51 L446.77 251.49 L446.9 251.48 L447.02 251.47 L447.15 251.45 L447.28 251.44 L447.4 251.42 L447.53 251.41 L447.66 251.39 L447.34 247.21 L447.21 247.21 L447.08 247.22 L446.95 247.22 L446.82 247.23 L446.69 247.24 L446.56 247.24 L446.43 247.25 L446.3 247.25 L446.17 247.26 L446.04 247.27 L445.91 247.27 L445.78 247.28 L445.65 247.29 L445.52 247.29 L445.39 247.3 L445.26 247.31 L445.13 247.31 L445 247.32 L444.87 247.33 L444.74 247.33 L444.61 247.34 L444.48 247.35 L444.35 247.35 L444.22 247.36 L444.09 247.37 L443.96 247.38 L443.83 247.38 L443.7 247.39 L443.57 247.4 L443.44 247.41 L443.31 247.41 L443.18 247.42 L443.05 247.43 L442.92 247.44 L442.79 247.45 L442.66 247.45 L442.53 247.46 L442.4 247.47 L442.27 247.48 L442.14 247.49 L442.01 247.5 L441.88 247.51 L441.75 247.51 L441.62 247.52 L441.49 247.53 L441.36 247.54 L441.23 247.55 L441.1 247.56 L440.97 247.57 L440.84 247.58 L440.71 247.59 L440.58 247.6 L440.45 247.61 L440.32 247.62 L440.19 247.63 L440.06 247.64 L439.93 247.65 L439.8 247.66 L439.67 247.67 L439.54 247.68 L439.41 247.69 L439.28 247.71 L439.15 247.72 L439.02 247.74 L438.89 247.75 L438.76 247.76 L438.63 247.78 L438.5 247.79 L438.37 247.81 L438.24 247.82 L438.11 247.84 L437.98 247.85 L437.85 247.86 L437.72 247.88 L437.6 247.89 L437.47 247.91 L437.34 247.92 L437.21 247.94 L437.08 247.95 L436.95 247.97 L436.82 247.98 L436.69 248 L436.56 248.01 L436.43 248.03 L436.3 248.05 L436.17 248.06 L436.04 248.08 L435.91 248.09 L435.78 248.11 L435.65 248.12 L435.52 248.14 L435.39 248.16 L435.27 248.17 L435.14 248.19 L435.01 248.21 L434.88 248.22 L434.75 248.24 L434.62 248.25 L434.49 248.27 L434.36 248.29 L434.23 248.3 L434.1 248.32 L433.97 248.34 L433.84 248.36 L433.71 248.37 L433.58 248.39 L433.45 248.41 L433.33 248.42 L433.2 248.44 L433.07 248.46 L432.94 248.48 L432.81 248.49 L432.68 248.51 L432.55 248.53 L432.42 248.55 L432.29 248.57 L432.16 248.58 L432.03 248.6 L431.9 248.62 L431.78 248.64 L431.65 248.66 L431.52 248.67 L431.39 248.69 L431.26 248.71 L431.13 248.73 L431 248.75 L430.87 248.77 L430.74 248.79 L430.61 248.8 L430.48 248.82 L430.36 248.84 L430.23 248.86 L430.1 248.88 L429.97 248.9 L429.84 248.92 L429.71 248.94 L429.58 248.96 L429.45 248.98 L429.32 249 L429.2 249.02 L429.07 249.04 L428.94 249.06 L428.81 249.08 L428.68 249.1 L428.55 249.12 L428.42 249.14 L428.29 249.16 L428.16 249.18 L428.04 249.2 L427.91 249.22 L427.78 249.24 L427.65 249.26 L427.52 249.28 L427.39 249.3 L427.26 249.32 L427.13 249.34 L427.01 249.36 L426.88 249.39 L426.75 249.41 L426.62 249.43 L426.49 249.45 L426.36 249.47 L426.23 249.49 L426.11 249.51 L425.98 249.54 L425.85 249.56 L425.72 249.58 L425.59 249.6 L425.46 249.62 L425.33 249.65 L425.21 249.67 L425.08 249.69 L424.95 249.71 L424.82 249.73 L424.69 249.76 L424.56 249.78 L424.43 249.8 L424.31 249.82 L424.18 249.85 L424.05 249.87 L423.92 249.89 L423.79 249.92 L423.66 249.94 L423.54 249.96 L423.41 249.99 L423.28 250.01 L423.15 250.03 L423.02 250.06 L422.89 250.08 L422.77 250.1 L422.64 250.13 L422.51 250.15 L422.38 250.17 L422.25 250.2 L422.12 250.22 L422 250.25 L421.87 250.27 L421.74 250.29 L421.61 250.32 L421.48 250.34 L421.36 250.37 L421.23 250.39 L421.1 250.42 L420.97 250.44 L420.84 250.47 L420.72 250.49 L420.59 250.52 L420.46 250.54 L420.33 250.57 L420.2 250.59 L420.08 250.62 L419.95 250.64 L419.82 250.67 L419.69 250.69 L419.56 250.72 L419.44 250.74 L419.31 250.77 L419.18 250.79 L419.05 250.82 L418.93 250.85 L418.8 250.87 L418.67 250.9 L418.54 250.93 L418.41 250.95 L418.29 250.98 L418.16 251 L418.03 251.03 L417.9 251.06 L417.78 251.08 L417.65 251.11 L417.52 251.14 L417.39 251.17 L417.27 251.19 L417.14 251.22 L417.01 251.25 L416.88 251.27 L416.76 251.3 L416.63 251.33 L416.5 251.36 L416.37 251.38 L416.25 251.41 L416.12 251.44 L415.99 251.47 L415.87 251.49 L415.74 251.52 L415.61 251.55 L415.48 251.58 L415.36 251.61 L415.23 251.63 L415.1 251.66 L414.98 251.69 L414.85 251.72 L414.72 251.75 L414.59 251.78 L414.47 251.8 L414.34 251.83 L414.21 251.86 L414.09 251.89 L413.96 251.92 L413.83 251.95 L413.71 251.98 L413.58 252.01 L413.45 252.03 L413.32 252.06 L413.2 252.09 L413.07 252.12 L412.94 252.15 L412.82 252.18 L412.69 252.21 L412.56 252.24 L412.44 252.27 L412.31 252.3 L412.18 252.33 L412.06 252.36 L411.93 252.39 L411.8 252.42 L411.68 252.45 L411.55 252.48 L411.42 252.51 L411.3 252.54 L411.17 252.57 L411.04 252.6 L410.92 252.63 L410.79 252.66 L410.66 252.69 L410.54 252.72 L410.41 252.75 L410.29 252.78 L410.16 252.81 L410.03 252.84 L409.91 252.87 L409.78 252.9 L409.65 252.93 L409.53 252.96 L409.4 252.99 L409.27 253.03 L409.15 253.06 L409.02 253.09 L408.9 253.12 L408.77 253.15 L408.64 253.18 L408.52 253.21 L408.39 253.24 L408.27 253.28 L408.14 253.31 L408.01 253.34 L407.89 253.37 L407.76 253.4 L407.63 253.43 L407.51 253.46 L407.38 253.5 L407.26 253.53 L407.13 253.56 L407 253.59 L406.88 253.62 L406.75 253.66 L406.63 253.69 L406.5 253.72 L406.38 253.75 L406.25 253.78 L406.12 253.82 L406 253.85 L405.87 253.88 L405.75 253.91 L405.62 253.95 L405.49 253.98 L405.37 254.01 L405.24 254.04 L405.12 254.08 L404.99 254.11 L404.87 254.14 L404.74 254.17 L404.61 254.21 L404.49 254.24 L404.36 254.27 L404.24 254.31 L404.11 254.34 L403.99 254.37 L403.86 254.4 L403.74 254.44 L403.61 254.47 L403.48 254.5 L403.36 254.54 L403.23 254.57 L403.11 254.6 L402.98 254.64 L402.86 254.67 L402.73 254.7 L402.61 254.74 L402.48 254.77 L402.36 254.8 L402.23 254.84 L402.1 254.87 L401.98 254.9 L401.85 254.94 L401.73 254.97 L401.6 255.01 L401.48 255.04 L401.35 255.07 L401.23 255.11 L401.1 255.14 L400.98 255.17 L400.85 255.21 L400.73 255.24 L400.6 255.28 L400.48 255.31 L400.35 255.34 L400.23 255.38 L400.1 255.41 L399.98 255.45 L399.85 255.48 L399.73 255.52 L399.6 255.55 L399.48 255.58 L399.35 255.62 L399.23 255.65 L399.1 255.69 L398.98 255.72 L398.85 255.76 L398.73 255.79 L398.6 255.82 L398.48 255.86 L398.35 255.89 L398.23 255.93 L398.1 255.96 L397.98 256 L397.85 256.03 L397.73 256.07 L397.6 256.1 L397.48 256.14 L397.35 256.17 L397.23 256.21 L397.1 256.24 L396.98 256.28 L396.85 256.31 L396.73 256.35 L396.6 256.38 L396.48 256.42 L396.35 256.45 L396.23 256.49 L396.1 256.52 L395.98 256.56 L395.86 256.59 L395.73 256.63 L395.61 256.66 L395.48 256.7 L395.36 256.73 L395.23 256.77 L395.11 256.8 L394.98 256.84 L394.86 256.87 L394.73 256.91 L394.61 256.94 L394.48 256.98 L394.36 257.01 L394.24 257.05 L394.11 257.08 L393.99 257.12 L393.86 257.15 L393.74 257.19 L393.61 257.22 L393.49 257.26 L393.36 257.29 L393.24 257.32 L393.11 257.36 L392.99 257.39 L392.86 257.43 L392.74 257.46 L392.61 257.5 L392.49 257.53 L392.37 257.57 L392.24 257.6 L392.12 257.64 L391.99 257.67 L391.87 257.71 L391.74 257.74 L391.62 257.78 L391.49 257.81 L391.37 257.84 L391.24 257.88 L391.12 257.91 L390.99 257.95 L390.87 257.98 L390.75 258.02 L390.62 258.05 L390.5 258.09 L390.37 258.12 L390.25 258.16 L390.12 258.19 L390 258.23 L389.87 258.26 L389.75 258.3 L389.63 258.33 L389.5 258.37 L389.38 258.4 L389.25 258.44 L389.13 258.47 L389 258.51 L388.88 258.54 L388.76 258.58 L388.63 258.61 L388.51 258.65 L388.38 258.68 L388.26 258.72 L388.13 258.75 L388.01 258.79 L387.88 258.82 L387.76 258.86 L387.64 258.89 L387.51 258.93 L387.39 258.96 L387.26 259 L387.14 259.03 L387.02 259.07 L386.89 259.1 L386.77 259.14 L386.64 259.17 L386.52 259.21 L386.39 259.24 L386.27 259.28 L386.15 259.31 L386.02 259.35 L385.9 259.38 L385.77 259.42 L385.65 259.45 L385.53 259.49 L385.4 259.52 L385.28 259.56 L385.15 259.59 L385.03 259.63 L384.9 259.66 L384.78 259.7 L384.66 259.73 L384.53 259.77 L384.41 259.8 L384.28 259.84 L384.16 259.87 L384.04 259.91 L383.91 259.95 L383.79 259.98 L383.66 260.02 L383.54 260.05 L383.42 260.09 L383.29 260.12 L383.17 260.16 L383.04 260.19 L382.92 260.23 L382.8 260.26 L382.67 260.3 L382.55 260.33 L382.42 260.37 L382.3 260.4 L382.18 260.44 L382.05 260.47 L381.93 260.51 L381.8 260.54 L381.68 260.58 L381.55 260.61 L381.43 260.65 L381.31 260.68 L381.18 260.72 L381.06 260.75 L380.93 260.79 L380.81 260.82 L380.69 260.86 L380.56 260.89 L380.44 260.93 L380.31 260.97 L380.19 261 L380.06 261.04 L379.94 261.07 L379.82 261.11 L379.69 261.14 L379.57 261.18 L379.44 261.21 L379.32 261.25 L379.2 261.28 L379.07 261.32 L378.95 261.36 L378.82 261.39 L378.7 261.43 L378.57 261.46 L378.45 261.5 L378.33 261.53 L378.2 261.57 L378.08 261.6 L377.95 261.64 L377.83 261.68 L377.7 261.71 L377.58 261.75 L377.46 261.78 L377.33 261.82 L377.21 261.85 L377.08 261.89 L376.96 261.93 L376.83 261.96 L376.71 262 L376.59 262.03 L376.46 262.07 L376.34 262.11 L376.21 262.14 L376.09 262.18 L375.96 262.21 L375.84 262.25 L375.72 262.29 L375.59 262.32 L375.47 262.36 L375.34 262.4 L375.22 262.43 L375.09 262.47 L374.97 262.51 L374.85 262.54 L374.72 262.58 L374.6 262.61 L374.47 262.65 L374.35 262.69 L374.22 262.72 L374.1 262.76 L373.98 262.8 L373.85 262.83 L373.73 262.87 L373.6 262.9 L373.48 262.94 L373.35 262.98 L373.23 263.01 L373.1 263.05 L372.98 263.08 L372.85 263.12 L372.73 263.16 L372.6 263.19 L372.48 263.23 L372.36 263.26 L372.23 263.3 L372.11 263.34 L371.98 263.37 L371.86 263.41 L371.73 263.45 L371.61 263.48 L371.48 263.52 L371.36 263.56 L371.23 263.59 L371.11 263.63 L370.99 263.67 L370.86 263.7 L370.74 263.74 L370.61 263.78 L370.49 263.81 L370.36 263.85 L370.24 263.89 L370.11 263.93 L369.99 263.96 L369.86 264 L369.74 264.04 L369.61 264.07 L369.49 264.11 L369.37 264.15 L369.24 264.19 L369.12 264.22 L368.99 264.26 L368.87 264.3 L368.74 264.34 L368.62 264.38 L368.49 264.41 L368.37 264.45 L368.24 264.49 L368.12 264.53 L368 264.57 L367.87 264.6 L367.75 264.64 L367.62 264.68 L367.5 264.72 L367.37 264.76 L367.25 264.79 L367.12 264.83 L367 264.87 L366.87 264.91 L366.75 264.95 L366.63 264.99 L366.5 265.03 L366.38 265.07 L366.25 265.1 L366.13 265.14 L366 265.18 L365.88 265.22 L365.75 265.26 L365.63 265.3 L365.5 265.34 L365.38 265.38 L365.26 265.42 L365.13 265.46 L365.01 265.5 L364.88 265.54 L364.76 265.58 L364.63 265.62 L364.51 265.66 L364.38 265.7 L364.26 265.74 L364.14 265.78 L364.01 265.82 L363.89 265.86 L363.76 265.9 L363.64 265.94 L363.51 265.98 L363.39 266.02 L363.26 266.06 L363.14 266.1 L363.01 266.14 L362.89 266.18 L362.76 266.22 L362.64 266.26 L362.52 266.31 L362.39 266.35 L362.27 266.39 L362.14 266.43 L362.02 266.47 L361.89 266.51 L361.77 266.55 L361.64 266.6 L361.52 266.64 L361.39 266.68 L361.27 266.72 L361.14 266.77 L361.02 266.81 L360.89 266.85 L360.77 266.89 L360.64 266.94 L360.52 266.98 L360.4 267.02 L360.27 267.07 L360.15 267.11 L360.02 267.15 L359.9 267.2 L359.77 267.24 L359.65 267.28 L359.52 267.33 L359.4 267.37 L359.27 267.42 L359.15 267.46 L359.02 267.5 L358.9 267.55 L358.77 267.59 L358.65 267.64 L358.52 267.68 L358.4 267.73 L358.27 267.77 L358.15 267.82 L358.02 267.86 L357.9 267.91 L357.77 267.95 L357.65 268 L357.52 268.04 L357.4 268.09 L357.27 268.13 L357.15 268.18 L357.02 268.22 L356.9 268.27 L356.77 268.32 L356.65 268.36 L356.52 268.41 L356.4 268.46 L356.28 268.5 L356.15 268.55 L356.03 268.6 L355.9 268.65 L355.78 268.69 L355.65 268.74 L355.53 268.79 L355.4 268.84 L355.28 268.89 L355.15 268.94 L355.03 268.98 L354.91 269.03 L354.78 269.08 L354.66 269.13 L354.53 269.18 L354.41 269.23 L354.28 269.28 L354.16 269.33 L354.04 269.38 L353.91 269.43 L353.79 269.49 L353.66 269.54 L353.54 269.59 L353.42 269.64 L353.29 269.69 L353.17 269.74 L353.05 269.8 L352.92 269.85 L352.8 269.9 L352.68 269.95 L352.55 270.01 L352.43 270.06 L352.31 270.11 L352.18 270.17 L352.06 270.22 L351.94 270.28 L351.81 270.33 L351.69 270.39 L351.57 270.44 L351.44 270.5 L351.32 270.55 L351.2 270.61 L351.08 270.67 L350.95 270.72 L350.83 270.78 L350.71 270.84 L350.59 270.89 L350.46 270.95 L350.34 271.01 L350.22 271.07 L350.1 271.12 L349.98 271.18 L349.85 271.24 L349.73 271.3 L349.61 271.36 L349.49 271.42 L349.37 271.48 L349.24 271.54 L349.12 271.6 L349 271.66 L348.88 271.72 L348.76 271.78 L348.64 271.84 L348.52 271.91 L348.4 271.97 L348.28 272.03 L348.16 272.09 L348.04 272.16 L347.92 272.22 L347.8 272.29 L347.68 272.35 L347.56 272.41 L347.44 272.48 L347.32 272.54 L347.21 272.61 L347.09 272.67 L346.97 272.74 L346.85 272.8 L346.74 272.87 L346.62 272.93 L346.5 273 L346.39 273.06 L346.27 273.13 L346.16 273.2 L346.04 273.26 L345.92 273.33 L345.81 273.39 L345.69 273.46 L345.58 273.53 L345.46 273.59 L345.35 273.66 L345.23 273.72 L345.12 273.79 L345.01 273.86 L344.89 273.92 L344.78 273.99 L344.67 274.05 L344.55 274.12 L344.44 274.19 L344.33 274.25 L344.21 274.32 L344.1 274.39 L343.99 274.45 L343.88 274.52 L343.76 274.58 L343.65 274.65 L343.54 274.72 L343.43 274.78 L343.32 274.85 L343.21 274.92 L343.1 274.98 L342.98 275.05 L342.87 275.12 L342.76 275.18 L342.65 275.25 L342.54 275.32 L342.43 275.39 L342.32 275.46 L342.2 275.52 L342.09 275.59 L341.98 275.66 L341.87 275.73 L341.76 275.8 L341.64 275.87 L341.53 275.94 L341.42 276.01 L341.31 276.08 L341.19 276.14 L341.08 276.21 L340.97 276.28 L340.86 276.35 L340.74 276.43 L340.63 276.5 L340.52 276.57 L340.4 276.64 L340.29 276.71 L340.18 276.78 L340.06 276.85 L339.95 276.92 L339.84 277 L339.73 277.07 L339.61 277.14 L339.5 277.21 L339.39 277.29 L339.27 277.36 L339.16 277.43 L339.05 277.51 L338.93 277.58 L338.82 277.66 L338.71 277.73 L338.59 277.81 L338.48 277.88 L338.37 277.96 L338.25 278.03 L338.14 278.11 L338.03 278.19 L337.91 278.26 L337.8 278.34 L337.69 278.42 L337.58 278.49 L337.46 278.57 L337.35 278.65 L337.24 278.73 L337.12 278.81 L337.01 278.89 L336.9 278.97 L336.79 279.05 L336.67 279.13 L336.56 279.21 L336.45 279.29 L336.34 279.37 L336.23 279.46 L336.12 279.54 L336 279.62 L335.89 279.71 L335.78 279.79 L335.67 279.87 L335.56 279.96 L335.45 280.04 L335.34 280.13 L335.23 280.22 L335.12 280.3 L335.01 280.39 L334.9 280.48 L334.79 280.57 L334.68 280.65 L334.57 280.74 L334.46 280.83 L334.35 280.92 L334.24 281.01 L334.13 281.1 L334.02 281.2 L333.92 281.29 L333.81 281.38 L333.7 281.47 L333.59 281.57 L333.48 281.66 L333.38 281.76 L333.27 281.85 L333.16 281.95 L333.06 282.04 L332.95 282.14 L332.85 282.24 L332.74 282.33 L332.64 282.43 L332.53 282.53 L332.43 282.63 L332.33 282.73 L332.22 282.83 L332.12 282.93 L332.02 283.03 L331.92 283.13 L331.82 283.23 L331.72 283.33 L331.62 283.43 L331.52 283.54 L331.43 283.64 L331.33 283.74 L331.23 283.84 L331.13 283.94 L331.04 284.04 L330.95 284.14 L330.85 284.25 L330.76 284.35 L330.66 284.45 L330.57 284.55 L330.48 284.65 L330.38 284.75 L330.29 284.86 L330.2 284.96 L330.11 285.06 L330.02 285.16 L329.93 285.26 L329.84 285.36 L329.75 285.47 L329.66 285.57 L329.57 285.67 L329.48 285.77 L329.4 285.87 L329.31 285.97 L329.22 286.07 L329.13 286.17 L329.05 286.27 L328.96 286.37 L328.87 286.47 L328.79 286.57 L328.7 286.67 L328.62 286.77 L328.53 286.87 L328.45 286.97 L328.36 287.07 L328.28 287.17 L328.19 287.27 L328.11 287.36 L328.02 287.46 L327.94 287.56 L327.86 287.66 L327.78 287.75 L327.69 287.85 L327.61 287.95 L327.53 288.04 L327.44 288.14 L327.36 288.23 L327.28 288.33 L327.2 288.42 L327.12 288.52 L327.03 288.61 L326.95 288.71 L326.87 288.8 L326.79 288.89 L326.71 288.98 L326.63 289.08 L326.55 289.17 L326.47 289.26 L326.39 289.35 L326.31 289.44 L326.23 289.53 L326.15 289.62 L326.07 289.71 L325.99 289.8 L325.91 289.89 L325.83 289.97 L325.75 290.06 L325.67 290.15 L325.59 290.24 L325.51 290.32 L325.43 290.41 L325.35 290.49 L325.27 290.57 L325.18 290.66 L325.1 290.74 L325.02 290.82 L324.94 290.91 L324.86 290.99 L324.78 291.07 L324.7 291.15 L324.62 291.23 L324.54 291.31 L324.46 291.38 L324.38 291.46 L324.3 291.54 L324.22 291.62 L324.14 291.69 L324.06 291.77 L323.98 291.84 L323.9 291.91 L323.81 291.99 L323.73 292.06 L323.65 292.13 L323.57 292.21 L323.49 292.28 L323.41 292.35 L323.33 292.42 L323.24 292.49 L323.16 292.56 L323.08 292.62 L323 292.69 L322.92 292.76 L322.83 292.82 L322.75 292.89 L322.67 292.95 L322.58 293.02 L322.5 293.08 L322.42 293.14 L322.33 293.21 L322.25 293.27 L322.17 293.33 L322.08 293.39 L322 293.45 L321.91 293.51 L321.83 293.56 L321.74 293.62 L321.65 293.68 L321.57 293.73 L321.48 293.79 L321.39 293.84 L321.31 293.9 L321.22 293.95 L321.13 294 L321.04 294.06 L320.95 294.11 L320.86 294.16 L320.78 294.2 L320.69 294.25 L320.59 294.3 L320.5 294.35 L320.39 294.41 L320.29 294.46 L320.2 294.51 L320.1 294.56 L319.99 294.61 L319.87 294.67 L319.75 294.73 L319.62 294.79 L319.5 294.85 L319.38 294.91 L319.26 294.97 L319.12 295.04 L318.97 295.12 L318.83 295.19 L318.69 295.26 L318.56 295.33 L318.41 295.41 L318.26 295.5 L318.1 295.59 L317.94 295.68 L317.79 295.78 L317.64 295.87 L317.49 295.97 L317.34 296.08 L317.19 296.18 L317.04 296.29 L316.9 296.41 L316.76 296.52 L316.61 296.64 L316.48 296.75 L316.34 296.87 L316.21 297 L316.07 297.12 L315.94 297.25 L315.82 297.37 L315.69 297.5 L315.57 297.64 L315.45 297.77 L315.33 297.91 L315.22 298.05 L315.11 298.19 L315 298.33 L314.9 298.48 L314.8 298.63 L314.7 298.77 L314.6 298.92 L314.51 299.08 L314.41 299.23 L314.32 299.38 L314.24 299.54 L314.15 299.7 L314.07 299.85 L313.99 300.01 L313.92 300.18 L313.85 300.34 L313.78 300.5 L313.71 300.67 L313.64 300.83 L313.58 301 L313.53 301.17 L313.47 301.33 L313.42 301.5 L313.38 301.68 L313.34 301.85 L313.3 302.02 L313.27 302.18 L313.24 302.35 L313.21 302.51 L313.18 302.68 L313.16 302.85 L313.14 303.01 L313.12 303.17 L313.11 303.32 L313.09 303.48 L313.08 303.64 L313.07 303.8 L313.06 303.96 L313.05 304.11 L313.04 304.26 L313.04 304.4 L313.03 304.56 L313.02 304.71 L313.02 304.85 L313.02 305 L313.01 305.14 L313.01 305.29 L313.01 305.43 L313.01 305.58 L313.01 305.72 L313.01 305.86 L313.01 306 L313.01 306.14 L313.01 306.28 L313.01 306.42 L313.01 306.56 L313.01 306.69 L313.02 306.83 L313.02 306.96 L313.02 307.1 L313.03 307.23 L313.03 307.37 L313.03 307.5 L313.04 307.63 L313.04 307.76 L313.05 307.89 L313.06 308.02 L313.07 308.15 L313.08 308.28 L313.09 308.4 L313.1 308.53 L313.11 308.65 L313.12 308.78 L313.13 308.91 L313.14 309.03 L313.15 309.15 L313.16 309.27 L313.16 309.4 L313.17 309.52 L313.18 309.64 L313.19 309.76 L313.19 309.88 L313.2 309.99 L313.2 310.1 L313.21 310.22 L313.21 310.34 L313.21 310.46 L313.21 310.59 L313.21 310.72Z" fill="#0c0c0c"/>
<circle cx="384.02" cy="264.1" r="0.51" fill="#b0b0b0"/>
<circle cx="384.64" cy="262.38" r="0.49" fill="#b0b0b0"/>
<circle cx="386.61" cy="262.13" r="0.56" fill="#b0b0b0"/>
<circle cx="387.37" cy="260.41" r="0.58" fill="#b0b0b0"/>
<circle cx="390.54" cy="259.53" r="0.48" fill="#b0b0b0"/>
<circle cx="390.39" cy="261.51" r="0.61" fill="#b0b0b0"/>
<circle cx="393.09" cy="259.04" r="0.61" fill="#b0b0b0"/>
<circle cx="392.97" cy="260.45" r="0.65" fill="#b0b0b0"/>
<circle cx="394.13" cy="260.16" r="0.48" fill="#b0b0b0"/>
<circle cx="393.92" cy="259.43" r="0.67" fill="#b0b0b0"/>
<circle cx="394.88" cy="259.71" r="0.74" fill="#b0b0b0"/>
<circle cx="394.89" cy="259.15" r="0.49" fill="#b0b0b0"/>
<circle cx="395.98" cy="258.38" r="0.58" fill="#b0b0b0"/>
<circle cx="395.58" cy="260.25" r="0.75" fill="#b0b0b0"/>
<circle cx="396.57" cy="258.56" r="0.72" fill="#b0b0b0"/>
<circle cx="396.59" cy="260.09" r="0.45" fill="#b0b0b0"/>
<circle cx="398.56" cy="259.23" r="0.61" fill="#b0b0b0"/>
<circle cx="397.89" cy="258.86" r="0.61" fill="#b0b0b0"/>
<circle cx="399" cy="258.64" r="0.7" fill="#b0b0b0"/>
<circle cx="398.79" cy="257.02" r="0.67" fill="#b0b0b0"/>
<circle cx="400.25" cy="258.28" r="0.6" fill="#b0b0b0"/>
<circle cx="399.98" cy="258.96" r="0.75" fill="#b0b0b0"/>
<circle cx="402" cy="257.21" r="0.55" fill="#b0b0b0"/>
<circle cx="401.69" cy="256.71" r="0.56" fill="#b0b0b0"/>
<circle cx="402.38" cy="257.17" r="0.57" fill="#b0b0b0"/>
<circle cx="402.9" cy="257.12" r="0.77" fill="#b0b0b0"/>
<circle cx="403.63" cy="255.94" r="0.66" fill="#b0b0b0"/>
<circle cx="403.32" cy="258.04" r="0.44" fill="#b0b0b0"/>
<circle cx="404.52" cy="255.82" r="0.71" fill="#b0b0b0"/>
<circle cx="404.67" cy="256.63" r="0.48" fill="#b0b0b0"/>
<circle cx="406.26" cy="257.16" r="0.77" fill="#b0b0b0"/>
<circle cx="405.69" cy="257.75" r="0.43" fill="#b0b0b0"/>
<circle cx="407.05" cy="254.89" r="0.61" fill="#b0b0b0"/>
<circle cx="406.88" cy="256.66" r="0.52" fill="#b0b0b0"/>
<circle cx="409.65" cy="254.41" r="0.52" fill="#b0b0b0"/>
<circle cx="409.77" cy="255.27" r="0.55" fill="#b0b0b0"/>
<circle cx="411.03" cy="255.24" r="0.57" fill="#b0b0b0"/>
<circle cx="411.68" cy="255.82" r="0.45" fill="#b0b0b0"/>
<circle cx="412.43" cy="255.55" r="0.45" fill="#b0b0b0"/>
<circle cx="412.39" cy="255.79" r="0.67" fill="#b0b0b0"/>
<circle cx="412.93" cy="254.52" r="0.72" fill="#b0b0b0"/>
<circle cx="412.9" cy="254.2" r="0.76" fill="#b0b0b0"/>
<circle cx="415.34" cy="252.93" r="0.62" fill="#b0b0b0"/>
<circle cx="415.98" cy="255.04" r="0.65" fill="#b0b0b0"/>
<circle cx="417.29" cy="252.92" r="0.51" fill="#b0b0b0"/>
<circle cx="417.12" cy="253.16" r="0.56" fill="#b0b0b0"/>
<circle cx="418.66" cy="253.59" r="0.58" fill="#b0b0b0"/>
<circle cx="418.39" cy="253.82" r="0.76" fill="#b0b0b0"/>
<circle cx="419.05" cy="254.18" r="0.75" fill="#b0b0b0"/>
<circle cx="419.11" cy="252.45" r="0.69" fill="#b0b0b0"/>
<circle cx="420.36" cy="254.16" r="0.48" fill="#b0b0b0"/>
<circle cx="419.71" cy="252.39" r="0.73" fill="#b0b0b0"/>
<circle cx="420.77" cy="252.65" r="0.46" fill="#b0b0b0"/>
<circle cx="420.74" cy="252.82" r="0.62" fill="#b0b0b0"/>
<circle cx="422.19" cy="252.79" r="0.55" fill="#b0b0b0"/>
<circle cx="421.48" cy="253.98" r="0.62" fill="#b0b0b0"/>
<circle cx="423.06" cy="253.82" r="0.6" fill="#b0b0b0"/>
<circle cx="423.1" cy="253.28" r="0.69" fill="#b0b0b0"/>
<circle cx="425.11" cy="252.52" r="0.58" fill="#b0b0b0"/>
<circle cx="425.43" cy="253.07" r="0.52" fill="#b0b0b0"/>
<circle cx="425.96" cy="251.23" r="0.5" fill="#b0b0b0"/>
<circle cx="425.89" cy="251.63" r="0.72" fill="#b0b0b0"/>
<circle cx="427.25" cy="251.97" r="0.47" fill="#b0b0b0"/>
<circle cx="426.87" cy="250.69" r="0.78" fill="#b0b0b0"/>
<circle cx="428.33" cy="251.44" r="0.63" fill="#b0b0b0"/>
<circle cx="428.34" cy="250.38" r="0.56" fill="#b0b0b0"/>
<circle cx="428.99" cy="251.07" r="0.43" fill="#b0b0b0"/>
<circle cx="429.01" cy="251.87" r="0.5" fill="#b0b0b0"/>
<circle cx="429.42" cy="250.56" r="0.63" fill="#b0b0b0"/>
<circle cx="430.08" cy="251.21" r="0.49" fill="#b0b0b0"/>
<circle cx="430.35" cy="251.65" r="0.55" fill="#b0b0b0"/>
<circle cx="430.49" cy="251.7" r="0.55" fill="#b0b0b0"/>
<circle cx="431.89" cy="250.85" r="0.73" fill="#b0b0b0"/>
<circle cx="431.53" cy="251.94" r="0.49" fill="#b0b0b0"/>
<circle cx="432.48" cy="250.76" r="0.65" fill="#b0b0b0"/>
<circle cx="432.72" cy="252.08" r="0.46" fill="#b0b0b0"/>
<circle cx="433.22" cy="251.28" r="0.68" fill="#b0b0b0"/>
<circle cx="433.42" cy="250.76" r="0.63" fill="#b0b0b0"/>
<circle cx="434.21" cy="250.35" r="0.44" fill="#b0b0b0"/>
<circle cx="434.12" cy="251.27" r="0.59" fill="#b0b0b0"/>
<circle cx="434.97" cy="251.52" r="0.56" fill="#b0b0b0"/>
<circle cx="434.85" cy="250.76" r="0.71" fill="#b0b0b0"/>
<circle cx="436.21" cy="249.49" r="0.61" fill="#b0b0b0"/>
<circle cx="436.09" cy="249.26" r="0.7" fill="#b0b0b0"/>
<circle cx="436.74" cy="250.75" r="0.58" fill="#b0b0b0"/>
<circle cx="436.96" cy="249.27" r="0.76" fill="#b0b0b0"/>
<circle cx="438.11" cy="249.14" r="0.76" fill="#b0b0b0"/>
<circle cx="438.16" cy="250.22" r="0.75" fill="#b0b0b0"/>
<circle cx="438.45" cy="250.97" r="0.72" fill="#b0b0b0"/>
<circle cx="438.55" cy="249.93" r="0.62" fill="#b0b0b0"/>
<circle cx="439.28" cy="249.87" r="0.52" fill="#b0b0b0"/>
<circle cx="439.78" cy="249.5" r="0.76" fill="#b0b0b0"/>
<circle cx="440.68" cy="249.33" r="0.47" fill="#b0b0b0"/>
<circle cx="440.63" cy="248.86" r="0.56" fill="#b0b0b0"/>
<circle cx="441.39" cy="248.82" r="0.64" fill="#b0b0b0"/>
<circle cx="441.03" cy="251.01" r="0.61" fill="#b0b0b0"/>
<circle cx="442.59" cy="250.05" r="0.6" fill="#b0b0b0"/>
<circle cx="442.31" cy="249.92" r="0.71" fill="#b0b0b0"/>
<circle cx="443.38" cy="249.26" r="0.66" fill="#b0b0b0"/>
<circle cx="443.44" cy="249.38" r="0.67" fill="#b0b0b0"/>
<circle cx="444.46" cy="249.74" r="0.65" fill="#b0b0b0"/>
<circle cx="444" cy="249.88" r="0.7" fill="#b0b0b0"/>
<circle cx="444.85" cy="249.09" r="0.66" fill="#b0b0b0"/>
<circle cx="444.66" cy="249.05" r="0.52" fill="#b0b0b0"/>
<circle cx="445.95" cy="249.43" r="0.65" fill="#b0b0b0"/>
<circle cx="446.26" cy="249.5" r="0.71" fill="#b0b0b0"/>
<circle cx="447.03" cy="249.75" r="0.69" fill="#b0b0b0"/>
<circle cx="446.66" cy="250.26" r="0.54" fill="#b0b0b0"/>
<path d="M393 260.4 L393.85 260.65 L394.69 260.91 L395.54 261.16 L396.4 261.4 L397.29 261.61 L398.19 261.8 L399.1 262.01 L400 262.3 L400.93 262.69 L401.88 263.14 L402.79 263.63 L403.6 264.1 L404.3 264.57 L404.93 265.06 L405.47 265.51 L405.9 265.9 L406.19 266.19 L406.35 266.41 L406.46 266.6 L406.6 266.8" fill="none" stroke="#111" stroke-width="1.4" stroke-linejoin="round"/>
<path d="M396.6 262.3 L397.5 262.5 L398.4 262.69 L399.3 262.91 L400.2 263.2 L401.13 263.59 L402.08 264.04 L402.99 264.53 L403.8 265 L404.5 265.47 L405.13 265.96 L405.67 266.41 L406.1 266.8 L406.39 267.09 L406.55 267.31 L406.66 267.5 L406.8 267.7" fill="none" stroke="#111" stroke-width="1.3" stroke-linejoin="round" stroke-dasharray="2.2 1.1"/>
<path d="M452.5 245.54L454 248.3L451 248.3Z" fill="#fff" stroke="#666" stroke-width="0.6"/>
<circle cx="451" cy="246.6" r="1.5" fill="#fff" stroke="#666" stroke-width="0.6"/>
<rect x="448.95" y="249.75" width="5.3" height="5.3" fill="#000" stroke="#000" stroke-width="0.3"/>
<path d="M456.9 245.8L459.8 251.13L454 251.13Z" fill="#000" stroke="#000" stroke-width="0.3"/>
<circle cx="462.9" cy="246.8" r="2.65" fill="#000" stroke="#000" stroke-width="0.3"/>
<rect x="321.5" y="313.5" width="219" height="75" fill="#fff" stroke="#606060" stroke-width="1"/>
<line x1="323.6" y1="318.7" x2="339.8" y2="318.7" stroke="#1a1a1a" stroke-width="1.3"/>
<text x="342" y="321.25" font-size="7.5" fill="#1c1c1c" stroke="#1c1c1c" stroke-width="0.1">AL6181-D10-01 σtrue-L [MPa]</text>
<line x1="323.6" y1="326.95" x2="339.8" y2="326.95" stroke="#1a1a1a" stroke-width="1.4" stroke-dasharray="4 2.5"/>
<text x="342" y="329.5" font-size="7.5" fill="#1c1c1c" stroke="#1c1c1c" stroke-width="0.1">AL6181-D10-02 σtrue-L [MPa]</text>
<line x1="323.6" y1="335.2" x2="339.8" y2="335.2" stroke="#1a1a1a" stroke-width="1.3" stroke-dasharray="1.2 0.9"/>
<text x="342" y="337.75" font-size="7.5" fill="#1c1c1c" stroke="#1c1c1c" stroke-width="0.1">AL6181-D10-03 σtrue-L [MPa]</text>
<circle cx="331.8" cy="343.45" r="1.71" fill="#fff" stroke="#6a6a6a" stroke-width="0.75"/>
<text x="342" y="346" font-size="7.5" fill="#1c1c1c" stroke="#1c1c1c" stroke-width="0.1">AL6181-D10-01 σtrue-Expo (anisotropic) [MPa]</text>
<path d="M331.8 349.63L333.68 353.08L329.92 353.08Z" fill="#fff" stroke="#6a6a6a" stroke-width="0.75"/>
<text x="342" y="354.25" font-size="7.5" fill="#1c1c1c" stroke="#1c1c1c" stroke-width="0.1">AL6181-D10-02 σtrue-Expo (anisotropic) [MPa]</text>
<rect x="330.1" y="358.25" width="3.41" height="3.41" fill="#fff" stroke="#6a6a6a" stroke-width="0.75"/>
<text x="342" y="362.5" font-size="7.5" fill="#1c1c1c" stroke="#1c1c1c" stroke-width="0.1">AL6181-D10-03 σtrue-Expo (anisotropic) [MPa]</text>
<circle cx="331.8" cy="368.2" r="1.86" fill="#000" stroke="#000" stroke-width="0.3"/>
<text x="342" y="370.75" font-size="7.5" fill="#1c1c1c" stroke="#1c1c1c" stroke-width="0.1">AL6181-D10-01 σTrue @ failure (fractured cross section) [MPa]</text>
<path d="M331.8 374.19L333.85 377.96L329.75 377.96Z" fill="#000" stroke="#000" stroke-width="0.3"/>
<text x="342" y="379" font-size="7.5" fill="#1c1c1c" stroke="#1c1c1c" stroke-width="0.1">AL6181-D10-03 σTrue @ failure (fractured cross section) [MPa]</text>
<rect x="329.94" y="382.84" width="3.72" height="3.72" fill="#000" stroke="#000" stroke-width="0.3"/>
<text x="342" y="387.25" font-size="7.5" fill="#1c1c1c" stroke="#1c1c1c" stroke-width="0.1">AL6181-D10-02 σTrue @ failure (fractured cross section) [MPa]</text>
</g>
</svg>
</body></html>
